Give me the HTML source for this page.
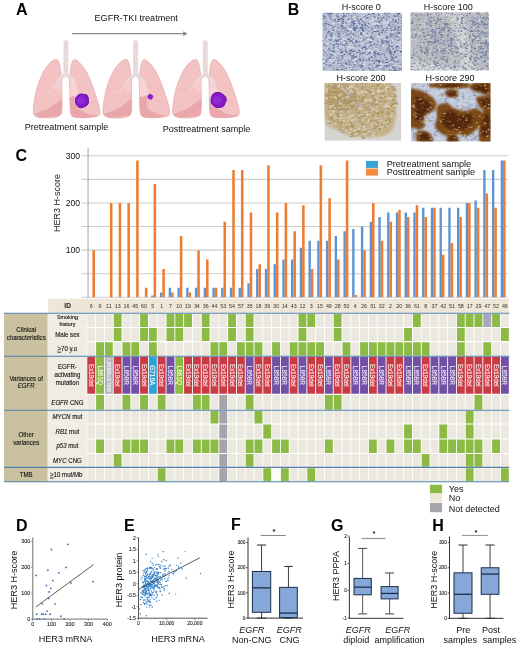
<!DOCTYPE html>
<html><head><meta charset="utf-8"><style>
html,body{margin:0;padding:0;background:#fff;}
body{width:520px;height:649px;overflow:hidden;}
svg{display:block;font-family:"Liberation Sans", Arial, sans-serif;}
</style></head><body>
<svg width="520" height="649" viewBox="0 0 520 649">
<rect width="520" height="649" fill="#fff"/>
<text x="15.9" y="15.1" font-size="16" fill="#000" font-weight="bold">A</text><text x="287.8" y="15.1" font-size="16" fill="#000" font-weight="bold">B</text><text x="15.5" y="160.8" font-size="16" fill="#000" font-weight="bold">C</text><text x="16" y="531" font-size="16" fill="#000" font-weight="bold">D</text><text x="124" y="530.6" font-size="16" fill="#000" font-weight="bold">E</text><text x="231" y="530.2" font-size="16" fill="#000" font-weight="bold">F</text><text x="331" y="531" font-size="16" fill="#000" font-weight="bold">G</text><text x="432.2" y="530.6" font-size="16" fill="#000" font-weight="bold">H</text><text x="94.5" y="21" font-size="9.1" fill="#111">EGFR-TKI treatment</text><line x1="72.1" y1="33.7" x2="185" y2="33.7" stroke="#8a8a8a" stroke-width="1.3"/><path d="M183.2,31.2 L187.6,33.7 L183.2,36.2 Z" fill="#8a8a8a"/><text x="24.8" y="130.4" font-size="9" fill="#111">Pretreatment sample</text><text x="162.7" y="132.4" font-size="9" fill="#111">Posttreatment sample</text><g transform="translate(65.9,0)"><rect x="-2.0" y="40.6" width="4.0" height="36" rx="1.6" fill="#e7dcdb" stroke="#d8cbcb" stroke-width="0.5"/><path d="M-1,75 C-3,78 -6,80 -8.5,82.5 M1,75 C3,78 6,80 8.5,82.5" stroke="#e4dada" stroke-width="2.4" fill="none" stroke-linecap="round"/><path d="M-9.1,59.5C-10.32,59.37 -12.48,60 -14.4,61.5C-16.32,63 -18.8,65.8 -20.6,68.5C-22.4,71.2 -23.78,74.37 -25.2,77.7C-26.62,81.03 -28.07,84.92 -29.1,88.5C-30.13,92.08 -30.82,95.62 -31.4,99.2C-31.98,102.78 -32.6,107.3 -32.6,110C-32.6,112.7 -32.63,114.12 -31.4,115.4C-30.17,116.68 -28.28,117.32 -25.2,117.7C-22.12,118.08 -16.1,118.08 -12.9,117.7C-9.7,117.32 -7.47,116.68 -6,115.4C-4.53,114.12 -4.42,114.48 -4.1,110C-3.78,105.52 -4.05,93.88 -4.1,88.5C-4.15,83.12 -4.17,81.03 -4.4,77.7C-4.63,74.37 -5.05,71.07 -5.5,68.5C-5.95,65.93 -6.5,63.8 -7.1,62.3C-7.7,60.8 -7.88,59.63 -9.1,59.5Z" fill="#f3c2c2" stroke="#eaa8ad" stroke-width="0.7"/><path d="M-4.1,99.2C-4.99,99.1 -15.67,107.5 -17.5,108.5C-19.33,109.5 -31.09,113.59 -31.6,114.2C-32.11,114.81 -26.91,117.62 -25.2,117.7C-23.49,117.78 -7.41,115.91 -6,115.4C-4.59,114.89 -4.23,111.08 -4.1,110C-3.97,108.92 -3.21,99.3 -4.1,99.2Z" fill="#eaa7ab"/><path d="M8.6,59.5C9.75,59.5 11.4,60.55 13.2,62.3C15,64.05 17.6,67.18 19.4,70C21.2,72.82 22.47,75.62 24,79.2C25.53,82.78 27.18,87.4 28.6,91.5C30.02,95.6 31.6,100.33 32.5,103.8C33.4,107.27 34.13,110.23 34,112.3C33.87,114.37 33.88,115.3 31.7,116.2C29.52,117.1 24.48,117.5 20.9,117.7C17.32,117.9 12.75,117.78 10.2,117.4C7.65,117.02 6.58,116.88 5.6,115.4C4.62,113.92 4.57,112.23 4.3,108.5C4.03,104.77 4.1,97.62 4,93C3.9,88.38 3.57,84.88 3.7,80.8C3.83,76.72 4.37,71.58 4.8,68.5C5.23,65.42 5.67,63.8 6.3,62.3C6.93,60.8 7.45,59.5 8.6,59.5Z" fill="#f3c2c2" stroke="#eaa8ad" stroke-width="0.7"/><path d="M4,94.6C4.47,93.78 10.76,95.27 11.3,96.2C11.84,97.13 11.28,107.27 12.1,108.5C12.92,109.73 22.26,114.11 23.6,114.6C24.94,115.09 32.38,115.59 32.2,115.8C32.02,116.01 22.37,117.59 20.9,117.7C19.43,117.81 11.22,117.55 10.2,117.4C9.18,117.25 5.99,115.99 5.6,115.4C5.21,114.81 4.41,109.89 4.3,108.5C4.19,107.11 3.53,95.42 4,94.6Z" fill="#eaa7ab"/><path d="M-30,90 C-24,89.5 -14,89 -5,89.5 M-31.5,104 C-24,100 -14,97 -4.5,96" stroke="#f0b4b8" stroke-width="0.5" fill="none"/><path d="M12,97 C18,99 24,101 30,103 M6,84 C12,86 20,88 27,90" stroke="#f0b4b8" stroke-width="0.5" fill="none"/><path d="M4.3,78 C8,79 11,84 12,90 C12,95 9,97 4.2,97 Z" fill="#f8d6d6" opacity="0.85"/><path d="M-4.5,78 C-8,80 -11,84 -11.5,89 C-9,92 -6,93 -4.3,93 Z" fill="#f6d2d2" opacity="0.6"/><path d="M-1.2,73 C-3,76.5 -5.5,78.5 -8.5,81 M1.2,73 C3,76.5 5.5,78.5 8.5,81" stroke="#e8dcdc" stroke-width="2.2" fill="none" stroke-linecap="round"/><path d="M-8.5,81 C-11,84 -13,88 -17,93 M8.5,81 C10.5,85 11.5,90 12,96" stroke="#f2d6d6" stroke-width="1.1" fill="none" stroke-linecap="round"/><circle cx="16" cy="100.6" r="7.9" fill="#f3c6ea" opacity="0.9"/><path d="M22.49,100.6C22.49,101.6 22.63,102.73 22.26,103.61C21.89,104.5 21.04,105.34 20.24,105.92C19.45,106.5 18.46,106.79 17.48,107.1C16.5,107.41 15.34,107.95 14.36,107.78C13.38,107.61 12.36,106.8 11.62,106.09C10.89,105.38 10.3,104.43 9.95,103.51C9.6,102.6 9.5,101.56 9.52,100.6C9.54,99.64 9.66,98.58 10.07,97.74C10.48,96.9 11.24,96.18 11.98,95.56C12.72,94.94 13.59,94.23 14.5,94.02C15.41,93.81 16.42,94.16 17.44,94.3C18.45,94.43 19.79,94.29 20.59,94.84C21.39,95.39 21.92,96.64 22.24,97.59C22.56,98.55 22.48,99.6 22.49,100.6Z" fill="#861ac8" stroke="#5e0a98" stroke-width="1"/><circle cx="14.95" cy="100.6" r="3.85" fill="#9a34dc" opacity="0.55"/></g><g transform="translate(135.6,0)"><rect x="-2.0" y="40.6" width="4.0" height="36" rx="1.6" fill="#e7dcdb" stroke="#d8cbcb" stroke-width="0.5"/><path d="M-1,75 C-3,78 -6,80 -8.5,82.5 M1,75 C3,78 6,80 8.5,82.5" stroke="#e4dada" stroke-width="2.4" fill="none" stroke-linecap="round"/><path d="M-9.1,59.5C-10.32,59.37 -12.48,60 -14.4,61.5C-16.32,63 -18.8,65.8 -20.6,68.5C-22.4,71.2 -23.78,74.37 -25.2,77.7C-26.62,81.03 -28.07,84.92 -29.1,88.5C-30.13,92.08 -30.82,95.62 -31.4,99.2C-31.98,102.78 -32.6,107.3 -32.6,110C-32.6,112.7 -32.63,114.12 -31.4,115.4C-30.17,116.68 -28.28,117.32 -25.2,117.7C-22.12,118.08 -16.1,118.08 -12.9,117.7C-9.7,117.32 -7.47,116.68 -6,115.4C-4.53,114.12 -4.42,114.48 -4.1,110C-3.78,105.52 -4.05,93.88 -4.1,88.5C-4.15,83.12 -4.17,81.03 -4.4,77.7C-4.63,74.37 -5.05,71.07 -5.5,68.5C-5.95,65.93 -6.5,63.8 -7.1,62.3C-7.7,60.8 -7.88,59.63 -9.1,59.5Z" fill="#f3c2c2" stroke="#eaa8ad" stroke-width="0.7"/><path d="M-4.1,99.2C-4.99,99.1 -15.67,107.5 -17.5,108.5C-19.33,109.5 -31.09,113.59 -31.6,114.2C-32.11,114.81 -26.91,117.62 -25.2,117.7C-23.49,117.78 -7.41,115.91 -6,115.4C-4.59,114.89 -4.23,111.08 -4.1,110C-3.97,108.92 -3.21,99.3 -4.1,99.2Z" fill="#eaa7ab"/><path d="M8.6,59.5C9.75,59.5 11.4,60.55 13.2,62.3C15,64.05 17.6,67.18 19.4,70C21.2,72.82 22.47,75.62 24,79.2C25.53,82.78 27.18,87.4 28.6,91.5C30.02,95.6 31.6,100.33 32.5,103.8C33.4,107.27 34.13,110.23 34,112.3C33.87,114.37 33.88,115.3 31.7,116.2C29.52,117.1 24.48,117.5 20.9,117.7C17.32,117.9 12.75,117.78 10.2,117.4C7.65,117.02 6.58,116.88 5.6,115.4C4.62,113.92 4.57,112.23 4.3,108.5C4.03,104.77 4.1,97.62 4,93C3.9,88.38 3.57,84.88 3.7,80.8C3.83,76.72 4.37,71.58 4.8,68.5C5.23,65.42 5.67,63.8 6.3,62.3C6.93,60.8 7.45,59.5 8.6,59.5Z" fill="#f3c2c2" stroke="#eaa8ad" stroke-width="0.7"/><path d="M4,94.6C4.47,93.78 10.76,95.27 11.3,96.2C11.84,97.13 11.28,107.27 12.1,108.5C12.92,109.73 22.26,114.11 23.6,114.6C24.94,115.09 32.38,115.59 32.2,115.8C32.02,116.01 22.37,117.59 20.9,117.7C19.43,117.81 11.22,117.55 10.2,117.4C9.18,117.25 5.99,115.99 5.6,115.4C5.21,114.81 4.41,109.89 4.3,108.5C4.19,107.11 3.53,95.42 4,94.6Z" fill="#eaa7ab"/><path d="M-30,90 C-24,89.5 -14,89 -5,89.5 M-31.5,104 C-24,100 -14,97 -4.5,96" stroke="#f0b4b8" stroke-width="0.5" fill="none"/><path d="M12,97 C18,99 24,101 30,103 M6,84 C12,86 20,88 27,90" stroke="#f0b4b8" stroke-width="0.5" fill="none"/><path d="M4.3,78 C8,79 11,84 12,90 C12,95 9,97 4.2,97 Z" fill="#f8d6d6" opacity="0.85"/><path d="M-4.5,78 C-8,80 -11,84 -11.5,89 C-9,92 -6,93 -4.3,93 Z" fill="#f6d2d2" opacity="0.6"/><path d="M-1.2,73 C-3,76.5 -5.5,78.5 -8.5,81 M1.2,73 C3,76.5 5.5,78.5 8.5,81" stroke="#e8dcdc" stroke-width="2.2" fill="none" stroke-linecap="round"/><path d="M-8.5,81 C-11,84 -13,88 -17,93 M8.5,81 C10.5,85 11.5,90 12,96" stroke="#f2d6d6" stroke-width="1.1" fill="none" stroke-linecap="round"/><circle cx="14.8" cy="96.8" r="3.4" fill="#f3c6ea" opacity="0.9"/><path d="M17.29,96.8C17.26,97.16 17.1,97.5 16.96,97.84C16.82,98.18 16.69,98.59 16.43,98.84C16.17,99.1 15.75,99.33 15.39,99.38C15.03,99.42 14.61,99.24 14.27,99.12C13.93,99 13.63,98.85 13.33,98.65C13.02,98.45 12.61,98.24 12.44,97.94C12.27,97.63 12.32,97.18 12.32,96.8C12.33,96.42 12.3,96 12.45,95.67C12.61,95.34 12.94,95.06 13.24,94.84C13.54,94.62 13.9,94.42 14.24,94.37C14.59,94.31 14.99,94.4 15.32,94.5C15.66,94.6 15.95,94.78 16.26,94.97C16.56,95.17 16.98,95.36 17.16,95.67C17.33,95.97 17.32,96.44 17.29,96.8Z" fill="#861ac8" stroke="#5e0a98" stroke-width="0.45"/><circle cx="14.43" cy="96.8" r="1.38" fill="#9a34dc" opacity="0.55"/></g><g transform="translate(205.3,0)"><rect x="-2.0" y="40.6" width="4.0" height="36" rx="1.6" fill="#e7dcdb" stroke="#d8cbcb" stroke-width="0.5"/><path d="M-1,75 C-3,78 -6,80 -8.5,82.5 M1,75 C3,78 6,80 8.5,82.5" stroke="#e4dada" stroke-width="2.4" fill="none" stroke-linecap="round"/><path d="M-9.1,59.5C-10.32,59.37 -12.48,60 -14.4,61.5C-16.32,63 -18.8,65.8 -20.6,68.5C-22.4,71.2 -23.78,74.37 -25.2,77.7C-26.62,81.03 -28.07,84.92 -29.1,88.5C-30.13,92.08 -30.82,95.62 -31.4,99.2C-31.98,102.78 -32.6,107.3 -32.6,110C-32.6,112.7 -32.63,114.12 -31.4,115.4C-30.17,116.68 -28.28,117.32 -25.2,117.7C-22.12,118.08 -16.1,118.08 -12.9,117.7C-9.7,117.32 -7.47,116.68 -6,115.4C-4.53,114.12 -4.42,114.48 -4.1,110C-3.78,105.52 -4.05,93.88 -4.1,88.5C-4.15,83.12 -4.17,81.03 -4.4,77.7C-4.63,74.37 -5.05,71.07 -5.5,68.5C-5.95,65.93 -6.5,63.8 -7.1,62.3C-7.7,60.8 -7.88,59.63 -9.1,59.5Z" fill="#f3c2c2" stroke="#eaa8ad" stroke-width="0.7"/><path d="M-4.1,99.2C-4.99,99.1 -15.67,107.5 -17.5,108.5C-19.33,109.5 -31.09,113.59 -31.6,114.2C-32.11,114.81 -26.91,117.62 -25.2,117.7C-23.49,117.78 -7.41,115.91 -6,115.4C-4.59,114.89 -4.23,111.08 -4.1,110C-3.97,108.92 -3.21,99.3 -4.1,99.2Z" fill="#eaa7ab"/><path d="M8.6,59.5C9.75,59.5 11.4,60.55 13.2,62.3C15,64.05 17.6,67.18 19.4,70C21.2,72.82 22.47,75.62 24,79.2C25.53,82.78 27.18,87.4 28.6,91.5C30.02,95.6 31.6,100.33 32.5,103.8C33.4,107.27 34.13,110.23 34,112.3C33.87,114.37 33.88,115.3 31.7,116.2C29.52,117.1 24.48,117.5 20.9,117.7C17.32,117.9 12.75,117.78 10.2,117.4C7.65,117.02 6.58,116.88 5.6,115.4C4.62,113.92 4.57,112.23 4.3,108.5C4.03,104.77 4.1,97.62 4,93C3.9,88.38 3.57,84.88 3.7,80.8C3.83,76.72 4.37,71.58 4.8,68.5C5.23,65.42 5.67,63.8 6.3,62.3C6.93,60.8 7.45,59.5 8.6,59.5Z" fill="#f3c2c2" stroke="#eaa8ad" stroke-width="0.7"/><path d="M4,94.6C4.47,93.78 10.76,95.27 11.3,96.2C11.84,97.13 11.28,107.27 12.1,108.5C12.92,109.73 22.26,114.11 23.6,114.6C24.94,115.09 32.38,115.59 32.2,115.8C32.02,116.01 22.37,117.59 20.9,117.7C19.43,117.81 11.22,117.55 10.2,117.4C9.18,117.25 5.99,115.99 5.6,115.4C5.21,114.81 4.41,109.89 4.3,108.5C4.19,107.11 3.53,95.42 4,94.6Z" fill="#eaa7ab"/><path d="M-30,90 C-24,89.5 -14,89 -5,89.5 M-31.5,104 C-24,100 -14,97 -4.5,96" stroke="#f0b4b8" stroke-width="0.5" fill="none"/><path d="M12,97 C18,99 24,101 30,103 M6,84 C12,86 20,88 27,90" stroke="#f0b4b8" stroke-width="0.5" fill="none"/><path d="M4.3,78 C8,79 11,84 12,90 C12,95 9,97 4.2,97 Z" fill="#f8d6d6" opacity="0.85"/><path d="M-4.5,78 C-8,80 -11,84 -11.5,89 C-9,92 -6,93 -4.3,93 Z" fill="#f6d2d2" opacity="0.6"/><path d="M-1.2,73 C-3,76.5 -5.5,78.5 -8.5,81 M1.2,73 C3,76.5 5.5,78.5 8.5,81" stroke="#e8dcdc" stroke-width="2.2" fill="none" stroke-linecap="round"/><path d="M-8.5,81 C-11,84 -13,88 -17,93 M8.5,81 C10.5,85 11.5,90 12,96" stroke="#f2d6d6" stroke-width="1.1" fill="none" stroke-linecap="round"/><circle cx="13" cy="100.3" r="8.5" fill="#f3c6ea" opacity="0.9"/><path d="M20.96,100.3C20.86,101.39 20.03,102.41 19.52,103.44C19.01,104.46 18.73,105.81 17.91,106.45C17.09,107.1 15.69,107.13 14.6,107.31C13.51,107.5 12.35,107.79 11.34,107.55C10.34,107.31 9.4,106.55 8.55,105.88C7.7,105.21 6.7,104.48 6.26,103.55C5.82,102.62 5.9,101.38 5.91,100.3C5.92,99.22 5.98,98.13 6.33,97.09C6.68,96.04 7.18,94.78 8,94.03C8.82,93.27 10.11,92.75 11.23,92.55C12.35,92.36 13.63,92.54 14.7,92.85C15.77,93.17 16.75,93.79 17.66,94.46C18.56,95.13 19.57,95.9 20.12,96.87C20.67,97.84 21.06,99.21 20.96,100.3Z" fill="#861ac8" stroke="#5e0a98" stroke-width="1"/><circle cx="11.86" cy="100.3" r="4.18" fill="#9a34dc" opacity="0.55"/></g><defs><filter id="bl" x="-5%" y="-5%" width="110%" height="110%"><feGaussianBlur stdDeviation="0.35"/></filter><filter id="bl2"><feGaussianBlur stdDeviation="0.8"/></filter><clipPath id="c1"><rect x="322.3" y="12.7" width="79.7" height="58.2"/></clipPath><clipPath id="c2"><rect x="410.3" y="12.2" width="78.6" height="58.2"/></clipPath><clipPath id="c3"><rect x="324.5" y="83" width="76.8" height="57.8"/></clipPath><clipPath id="c4"><rect x="411" y="83" width="79.5" height="58.5"/></clipPath></defs><g clip-path="url(#c1)"><rect x="322.3" y="12.7" width="79.7" height="58.2" fill="#b8bfd1"/><g filter="url(#bl)"><path d="M372.01,64.94h2.4v1.68h-2.4zM340.02,29.71h2.57v1.8h-2.57zM322.42,60.45h2.43v1.7h-2.43zM359.43,29.88h1.5v1.05h-1.5zM342.39,38.26h1.91v1.34h-1.91zM366.28,70.73h2.43v1.7h-2.43zM371.77,70.35h1.39v0.97h-1.39zM334.82,48.14h1.08v0.76h-1.08zM324.85,42.38h1.84v1.29h-1.84zM395.37,49.12h1.93v1.35h-1.93zM361.75,26.6h1.02v0.71h-1.02zM337.39,52.83h1.36v0.95h-1.36zM351.56,12.22h2.49v1.75h-2.49zM334.36,27.79h2.58v1.81h-2.58zM362.78,61.98h2.15v1.51h-2.15zM381.34,17.4h1.97v1.38h-1.97zM362.62,63.41h1.65v1.16h-1.65zM369.85,15.5h1.7v1.19h-1.7zM347.84,20.86h2.47v1.73h-2.47zM352.36,69.75h2.06v1.44h-2.06zM370.4,49.64h2.22v1.55h-2.22zM334.06,37.98h1.43v1h-1.43zM354.2,17.71h2.74v1.92h-2.74zM339.2,51.63h1.54v1.08h-1.54zM391.93,51.07h1.24v0.87h-1.24zM389.61,67.75h2.63v1.84h-2.63zM367.58,20.58h1.35v0.94h-1.35zM396.23,44.59h1.32v0.93h-1.32zM392.72,49.85h2.03v1.42h-2.03zM352.1,36.25h1.43v1h-1.43zM325.04,63.7h1.84v1.29h-1.84zM365.81,31.01h2.35v1.65h-2.35zM324.02,33.96h1.05v0.74h-1.05zM331.83,69.06h2.18v1.53h-2.18zM356.26,42.9h2.57v1.8h-2.57zM349.54,46.83h2.23v1.56h-2.23zM350.43,42.63h2.38v1.66h-2.38zM394.73,20.91h2.68v1.88h-2.68zM322.41,56.43h2.46v1.72h-2.46zM332.94,36.72h2.47v1.73h-2.47zM323.14,49.08h2.43v1.7h-2.43zM363.04,54.83h1.41v0.99h-1.41zM337.88,33.42h1.32v0.93h-1.32zM349.68,67.94h2.03v1.42h-2.03zM349.21,28.02h2.71v1.9h-2.71zM357.56,69.84h1.93v1.35h-1.93zM363.69,64.9h2.34v1.64h-2.34zM368.45,37.17h2.58v1.81h-2.58zM354.93,66.44h1.12v0.79h-1.12zM356.4,42.65h2.71v1.9h-2.71zM342.08,59.56h2.22v1.55h-2.22zM379.37,49.15h2.75v1.92h-2.75zM348.61,35.5h1.37v0.96h-1.37zM326.06,24.56h2.65v1.85h-2.65zM389.21,18.63h2.09v1.46h-2.09zM360.34,47.09h2.19v1.53h-2.19zM346.53,68.72h1.84v1.29h-1.84zM372.25,49.48h1.33v0.93h-1.33zM326.95,36.28h2.38v1.66h-2.38zM387.22,55.07h1.2v0.84h-1.2zM395.07,59.32h2.58v1.81h-2.58zM363.86,66.02h1.08v0.76h-1.08zM324.42,13.19h1.45v1.02h-1.45zM341.89,23.06h2.02v1.41h-2.02zM325.12,46.83h1.3v0.91h-1.3zM376.23,13.24h1.56v1.09h-1.56zM397.07,43.77h2.46v1.72h-2.46zM374.64,48.03h1.34v0.94h-1.34zM367.95,14.34h2.44v1.71h-2.44zM398.81,62.39h1.09v0.76h-1.09zM349.09,30.76h1.2v0.84h-1.2zM372.13,59.05h1.56v1.1h-1.56zM391.02,59.03h1.23v0.86h-1.23zM383.35,64.07h1.36v0.95h-1.36zM367.89,49.69h2.1v1.47h-2.1zM329.7,51.01h2.14v1.5h-2.14zM387.91,59.41h1.59v1.11h-1.59zM379.76,63.17h2.61v1.83h-2.61zM334.92,13.58h2.17v1.52h-2.17zM339.17,45.26h2.7v1.89h-2.7zM352.35,26.91h1.82v1.28h-1.82zM374.58,17.96h1.69v1.18h-1.69zM332.7,51.08h2.49v1.75h-2.49zM352.15,33.93h1.97v1.38h-1.97zM339.2,26.6h1.59v1.12h-1.59zM358.59,16.81h2.35v1.65h-2.35zM368.32,29.68h1.14v0.8h-1.14zM383.05,19.73h1.24v0.87h-1.24zM332.45,16.79h2.63v1.84h-2.63zM343.54,30.08h2.5v1.75h-2.5zM371.59,23.04h1.78v1.25h-1.78zM392.71,34.15h2.28v1.6h-2.28zM329.74,54.91h2.4v1.68h-2.4zM388.06,51.78h1.67v1.17h-1.67zM327.14,42.61h2.36v1.65h-2.36zM337.27,27.71h1.97v1.38h-1.97zM381.87,64.9h1.23v0.86h-1.23zM336.74,59.17h2.16v1.51h-2.16zM379.68,70.81h2.69v1.88h-2.69zM389.44,57.85h1.71v1.2h-1.71zM373.3,22.88h2.37v1.66h-2.37zM382.62,54.56h1.8v1.26h-1.8zM352.25,36.77h1.06v0.74h-1.06zM389.55,44h1.7v1.19h-1.7zM365.84,54.58h1.69v1.18h-1.69zM388.45,66.25h1.7v1.19h-1.7zM333.03,56.86h2.79v1.95h-2.79zM333.84,54.05h2.49v1.74h-2.49zM395.65,19.28h1.17v0.82h-1.17zM401.03,18.89h1.32v0.92h-1.32zM368,38.33h2.35v1.65h-2.35zM337.24,65.95h1.39v0.97h-1.39zM383.53,15.99h1.85v1.3h-1.85zM324.6,30.51h1.56v1.09h-1.56zM379.58,38.85h1.1v0.77h-1.1zM401.63,64.43h2.65v1.85h-2.65zM341.73,35.25h1.41v0.99h-1.41zM331.99,13.95h1.91v1.33h-1.91zM331.85,22.4h2.55v1.78h-2.55zM360.74,22.84h2.21v1.54h-2.21zM343.27,43.09h1.51v1.06h-1.51zM363.29,49.08h1.97v1.38h-1.97zM353.65,58.66h2.57v1.8h-2.57zM336.35,20.04h1.2v0.84h-1.2zM400.37,67.55h1.42v0.99h-1.42zM399.59,24.26h1.91v1.34h-1.91zM361.79,65.98h1.07v0.75h-1.07zM347.23,47.4h1.12v0.78h-1.12zM340.92,39.44h2.59v1.81h-2.59zM382.88,60.91h2.37v1.66h-2.37zM378.62,62.13h2.23v1.56h-2.23zM380.85,29.8h1.3v0.91h-1.3zM382.52,21.78h2.66v1.86h-2.66zM369.73,31.44h2.69v1.88h-2.69zM334.41,42.35h1.16v0.82h-1.16zM399.23,45.95h2.45v1.71h-2.45zM344.55,59.31h2.27v1.59h-2.27zM373.49,68.08h1.78v1.25h-1.78zM355.21,52.84h2.5v1.75h-2.5zM348.81,51.51h1.38v0.96h-1.38zM366.14,57.38h1.12v0.78h-1.12zM380.23,12.91h2.73v1.91h-2.73zM359.49,36.14h2.3v1.61h-2.3zM363.86,55.12h1.15v0.81h-1.15zM367.02,44.93h2.68v1.87h-2.68zM325.17,38.72h2.14v1.5h-2.14zM366.06,16.38h2.07v1.45h-2.07zM339.78,23.54h2.58v1.81h-2.58zM337.83,38.8h2.35v1.65h-2.35zM378.59,44.65h2.45v1.72h-2.45zM359.27,48.6h2.47v1.73h-2.47zM376.25,49.87h1.73v1.21h-1.73zM366.67,35.37h2.34v1.64h-2.34zM352.43,39.53h2.36v1.65h-2.36zM362.29,31.94h2.49v1.74h-2.49zM352.48,61.84h2.41v1.69h-2.41zM357.78,54.06h1.06v0.74h-1.06zM353.18,62.76h2.04v1.43h-2.04zM366.63,51.22h2.22v1.55h-2.22zM368.69,36.82h1.33v0.93h-1.33zM345.41,29.28h1.78v1.24h-1.78zM401.92,32.8h1.81v1.26h-1.81zM351.73,46.3h2.71v1.89h-2.71zM393.13,34.25h1.48v1.04h-1.48zM392.75,41.14h2.23v1.56h-2.23zM327.86,63.13h1.56v1.09h-1.56zM361.56,23.68h1.76v1.23h-1.76zM388.24,60.83h1.85v1.3h-1.85zM383.43,39.03h1.67v1.17h-1.67zM365.67,23.88h1.57v1.1h-1.57zM378.52,57.46h1.1v0.77h-1.1zM380.63,60.23h1.8v1.26h-1.8zM327,52.29h1.44v1.01h-1.44zM373.47,34.22h2.15v1.5h-2.15zM342.65,40.12h1.94v1.36h-1.94zM372.48,23.99h2.73v1.91h-2.73zM345.13,30.06h1.46v1.02h-1.46zM327.4,36.95h2.39v1.67h-2.39zM378.77,23.54h1.25v0.87h-1.25zM347.71,57.33h1.88v1.31h-1.88zM395.85,50.73h2.12v1.48h-2.12zM383.42,56.27h1.62v1.13h-1.62zM342.56,37.82h1.88v1.32h-1.88zM333.34,38.04h2.15v1.51h-2.15zM332.86,20.14h1.31v0.92h-1.31zM344.67,68.74h1.05v0.73h-1.05zM336.7,21.74h1.85v1.3h-1.85zM323.21,39.03h1.29v0.91h-1.29zM343.57,58.75h1.33v0.93h-1.33zM371.37,35.97h1.75v1.23h-1.75zM387.35,21.49h2.66v1.86h-2.66zM393.48,51.43h1.09v0.76h-1.09zM375.06,47.42h2.39v1.67h-2.39zM339.11,68.25h2.6v1.82h-2.6zM331.15,30.6h1.06v0.74h-1.06zM388.48,65.99h2.78v1.95h-2.78zM370.95,51.29h2.22v1.55h-2.22zM367.61,68.19h2.09v1.47h-2.09zM348.86,42.26h1.03v0.72h-1.03zM379.93,52.94h1.76v1.23h-1.76zM390.12,56.58h1.61v1.12h-1.61zM328.2,19.8h1.33v0.93h-1.33zM346.31,38.4h2.67v1.87h-2.67zM344.27,65.02h2.22v1.56h-2.22zM390.28,35.79h1.01v0.7h-1.01zM384.96,26.48h1.26v0.88h-1.26zM385.96,52.49h1.38v0.97h-1.38zM343.41,67.41h1.48v1.04h-1.48zM378.19,19.64h2.47v1.73h-2.47zM331.41,42.45h1.06v0.74h-1.06zM366.01,61.95h1.15v0.81h-1.15zM343.94,57.12h2.09v1.47h-2.09zM347.02,49.11h1.82v1.27h-1.82zM390.99,29.28h2.36v1.65h-2.36zM372.85,55.69h1.68v1.18h-1.68zM379.99,53.21h1.7v1.19h-1.7zM324.12,68.81h2.28v1.6h-2.28zM338.38,55.12h1.5v1.05h-1.5zM359.54,62.73h1.81v1.26h-1.81zM345.04,30.02h1.14v0.8h-1.14zM339.56,28h1.31v0.92h-1.31zM327.05,39.48h1.39v0.97h-1.39zM381.1,66.43h1.49v1.04h-1.49zM367.78,41.9h1.14v0.79h-1.14zM331.99,64.2h1.85v1.3h-1.85zM386.37,15.93h2.07v1.45h-2.07zM391.22,63.16h1.01v0.71h-1.01zM363.74,33.77h2.37v1.66h-2.37zM327.86,27.63h2.46v1.72h-2.46zM359.56,38.74h2.74v1.92h-2.74zM347.59,14.46h1.71v1.19h-1.71zM334.27,16.83h2.02v1.42h-2.02zM398.29,46.19h2.16v1.52h-2.16zM347.89,45.7h2.35v1.65h-2.35zM369.14,59.36h1.99v1.39h-1.99zM337.85,46.38h1.88v1.32h-1.88zM335.27,48.53h2.47v1.73h-2.47zM332.81,44.15h2.32v1.62h-2.32zM354.24,27.93h1.67v1.17h-1.67zM365.34,52.51h2.01v1.4h-2.01zM330.56,60.26h2.66v1.86h-2.66zM330.1,26.72h1.31v0.92h-1.31zM389.93,65.71h1.08v0.76h-1.08zM348.59,23.36h1.85v1.29h-1.85zM395.73,16.14h1.31v0.92h-1.31zM360.96,42.92h2.34v1.64h-2.34zM357.01,20.33h1.64v1.15h-1.64zM400.57,56.29h1.21v0.85h-1.21zM386.66,30.34h2.41v1.68h-2.41zM323.02,63.4h1.29v0.9h-1.29zM358.46,51.04h1.91v1.34h-1.91zM335.23,20.21h1.51v1.06h-1.51zM326.19,24.78h1.23v0.86h-1.23zM359.18,33.03h2.06v1.44h-2.06zM344.47,14h1.6v1.12h-1.6zM382.41,27.09h1.73v1.21h-1.73zM382.4,35.99h2.6v1.82h-2.6zM395.45,30.32h2.32v1.63h-2.32zM342.25,20.23h1.79v1.25h-1.79zM370.2,67.2h1.26v0.88h-1.26zM378.99,40.05h1.24v0.87h-1.24zM399.81,53.05h1.23v0.86h-1.23zM394.46,18.08h1.17v0.82h-1.17zM348.52,67.34h1.06v0.74h-1.06zM395.46,48.09h1.12v0.78h-1.12zM367.49,39.07h2.02v1.41h-2.02zM380.98,52.04h2.8v1.96h-2.8zM334.53,59.96h1.74v1.22h-1.74zM384.66,64.61h2.79v1.95h-2.79zM343.28,38.72h2.7v1.89h-2.7zM397.66,34h2.69v1.88h-2.69zM354.47,34.11h2.36v1.65h-2.36zM359.7,38.44h1.7v1.19h-1.7zM356.62,20.25h1.11v0.78h-1.11zM382.32,45.31h2.21v1.55h-2.21zM386.19,25.58h1.42v0.99h-1.42zM344.23,29.93h2.37v1.66h-2.37zM351.93,31.07h2.15v1.5h-2.15zM336.93,18.28h2.25v1.58h-2.25zM382.52,29.49h2.14v1.5h-2.14zM324.73,35.85h2.04v1.43h-2.04zM342.27,32.54h2.1v1.47h-2.1zM369.19,21.1h2.27v1.59h-2.27zM328.4,69.21h1.36v0.95h-1.36zM342.28,23.82h2.78v1.95h-2.78zM344.93,47.71h2.78v1.95h-2.78zM398.01,14.5h1.94v1.36h-1.94zM370.1,53.44h1.6v1.12h-1.6zM348.23,12.25h1.06v0.74h-1.06zM366,16.48h1.36v0.96h-1.36zM348.66,16.16h1.06v0.74h-1.06zM396.15,37.68h1.37v0.96h-1.37zM378.68,12.56h1.44v1.01h-1.44zM398.86,64.96h2.14v1.5h-2.14zM329.46,30.76h1.05v0.74h-1.05zM339.54,13.5h1.23v0.86h-1.23zM372.66,17.93h1.28v0.9h-1.28zM394.22,31.79h1.6v1.12h-1.6zM328.92,58.96h2.22v1.55h-2.22zM365.77,48.46h1.18v0.83h-1.18zM342.82,46.43h2.71v1.9h-2.71zM387.37,49.8h1.93v1.35h-1.93zM323.21,64.55h1.12v0.78h-1.12zM332.33,52.89h2.46v1.72h-2.46zM384.92,38.69h1.32v0.92h-1.32zM324.82,62.23h2.76v1.93h-2.76zM341.53,63.1h1.72v1.21h-1.72zM346.91,41.8h1.01v0.71h-1.01zM357.42,23.77h2.28v1.6h-2.28zM362.21,63.26h2.61v1.83h-2.61zM347.34,28.54h2.69v1.88h-2.69zM362.32,17.69h1.08v0.76h-1.08zM401.23,46.17h1.1v0.77h-1.1zM362.9,41.74h1.78v1.25h-1.78zM398.1,67.98h1.22v0.86h-1.22zM334.14,36.04h2.5v1.75h-2.5zM371.9,55.06h2.04v1.43h-2.04zM338.8,60.25h1.03v0.72h-1.03zM377.88,23.47h1.85v1.29h-1.85zM400.01,43.8h1.1v0.77h-1.1zM356.3,50.96h1.1v0.77h-1.1zM342.21,13.08h1.97v1.38h-1.97zM352.52,41.72h1.53v1.07h-1.53zM374.54,22.21h2.63v1.84h-2.63zM398.81,41.09h1.84v1.29h-1.84zM390.77,29.1h2.45v1.71h-2.45zM344.98,54.48h1.6v1.12h-1.6zM370.21,66.63h1.1v0.77h-1.1zM386.58,43.97h1.68v1.18h-1.68zM350.02,16.1h1.47v1.03h-1.47zM371.85,17.76h2.2v1.54h-2.2zM398.98,69.87h2.6v1.82h-2.6zM386.53,22.5h2.75v1.92h-2.75zM338.22,63.27h2.58v1.81h-2.58zM371.75,42.76h1.36v0.95h-1.36zM363.56,29.15h1.23v0.86h-1.23zM332.26,59.27h2.66v1.86h-2.66zM333.35,12.78h1.47v1.03h-1.47zM332.76,23.13h2.05v1.43h-2.05zM355.78,37.32h1.37v0.96h-1.37zM375.17,29.08h1.72v1.2h-1.72zM359.07,65.36h1.44v1.01h-1.44zM379.49,30.25h2.61v1.83h-2.61zM353.53,41.8h2.58v1.81h-2.58zM375.82,17.57h1.25v0.87h-1.25zM401.26,13.72h1.54v1.08h-1.54zM398.71,12.89h1.29v0.9h-1.29zM339.07,17.1h1.85v1.29h-1.85zM369.4,30.78h1.2v0.84h-1.2zM386.88,59.46h2.01v1.41h-2.01zM333.02,43.97h2.13v1.49h-2.13zM356.26,62.97h1.7v1.19h-1.7zM362.87,18.73h2.01v1.41h-2.01zM383.32,55.14h1.46v1.02h-1.46zM401.35,54.48h1.76v1.23h-1.76zM355.19,57.98h1.32v0.92h-1.32zM373.17,54.41h1.93v1.35h-1.93zM391.86,39.65h1.84v1.29h-1.84zM344.77,66.24h1.57v1.1h-1.57zM377.62,36.15h2.68v1.88h-2.68zM397.84,13.77h2.79v1.95h-2.79zM370.39,16.36h1.89v1.33h-1.89zM325.96,44.38h1.33v0.93h-1.33zM351.44,29.98h2.08v1.46h-2.08zM387.79,67.26h1.59v1.11h-1.59zM367.58,12.35h1.67v1.17h-1.67zM398.86,19.01h2.57v1.8h-2.57zM374.2,29.34h2.4v1.68h-2.4zM345.14,64.79h1.15v0.8h-1.15zM331.52,56.25h1.81v1.27h-1.81zM333.8,42.29h1.53v1.07h-1.53zM365.95,55.88h2.54v1.78h-2.54zM326.72,46.95h2.77v1.94h-2.77zM358.78,57.4h1.18v0.82h-1.18zM391.88,46.34h2.6v1.82h-2.6zM384.97,63.29h1.1v0.77h-1.1zM379.24,23.62h1.48v1.03h-1.48zM347.98,46.89h2.13v1.49h-2.13zM396.52,12.75h1.35v0.94h-1.35zM350.96,60.26h1.99v1.39h-1.99zM362.96,56.85h2.18v1.53h-2.18zM345.19,17.14h1.83v1.28h-1.83zM392.41,47.29h1.1v0.77h-1.1zM357.21,34.69h2.05v1.43h-2.05zM368.97,68.13h1.61v1.13h-1.61zM354.65,48.2h2.6v1.82h-2.6zM378.49,39.78h2.47v1.73h-2.47zM360.82,68.85h1.51v1.06h-1.51zM332.19,60.99h1.54v1.07h-1.54zM389.79,47.95h1.92v1.34h-1.92zM328.96,58.39h1.12v0.78h-1.12zM399.21,63.74h1.55v1.08h-1.55zM332.23,64.25h1.86v1.3h-1.86zM331.99,41.41h1.44v1.01h-1.44zM354.63,49.77h2.65v1.85h-2.65zM386.07,21.5h1.86v1.3h-1.86zM361.35,70.38h1.16v0.81h-1.16zM362.86,65.95h1.72v1.2h-1.72zM342.94,44.8h1.58v1.1h-1.58zM396.17,17h1.37v0.96h-1.37zM328.71,54h1.53v1.07h-1.53zM394.01,64.72h2.69v1.88h-2.69zM342.49,12.04h1.7v1.19h-1.7zM399.01,57.06h1.11v0.78h-1.11zM378.21,66.11h2.74v1.92h-2.74zM379.28,62.92h2.52v1.76h-2.52zM350.67,17.84h2.31v1.62h-2.31zM332.95,34.67h2.79v1.95h-2.79zM366.78,42.78h2.71v1.89h-2.71zM344.72,70.97h2.64v1.85h-2.64zM351.11,31.31h1.23v0.86h-1.23zM395.25,22.96h1.02v0.71h-1.02zM393.21,47.29h2.21v1.55h-2.21zM380.65,14.52h1.17v0.82h-1.17zM361.99,14.97h1.91v1.34h-1.91zM380.91,50.79h2.11v1.48h-2.11zM325.71,25.96h2.62v1.83h-2.62zM331.86,43.46h1.09v0.76h-1.09zM397.14,22.12h1.74v1.22h-1.74zM365.74,54.4h2.69v1.88h-2.69zM380.91,32.49h1.14v0.79h-1.14zM378.59,69.38h1.03v0.72h-1.03zM383.97,22.39h1.83v1.28h-1.83zM363.81,48.25h2.78v1.95h-2.78zM376.99,35.15h2.29v1.6h-2.29zM359.34,36.37h1.66v1.16h-1.66zM361.47,28.59h1.44v1.01h-1.44zM333.88,37.97h1.53v1.07h-1.53zM388.96,62.03h1.62v1.13h-1.62zM371.53,65.24h1.65v1.15h-1.65zM366.38,38.17h2.17v1.52h-2.17zM398.78,20.18h2.74v1.92h-2.74zM375.26,58.96h2.14v1.5h-2.14zM391.63,31.25h2.27v1.59h-2.27zM343.13,42.01h2.23v1.56h-2.23zM338.09,15.61h2.42v1.7h-2.42zM386.72,51.27h1.58v1.11h-1.58zM374.65,16.95h2.19v1.53h-2.19zM368.1,48.42h1.8v1.26h-1.8zM340.01,54.83h1.84v1.28h-1.84zM381.63,33.49h1.16v0.81h-1.16zM365.4,48.74h2.66v1.86h-2.66zM393.02,15.37h2.39v1.67h-2.39zM342.91,53.13h1.68v1.18h-1.68zM347.77,40.81h1.95v1.37h-1.95zM377.56,49.64h2.22v1.55h-2.22zM352.73,51.96h1.62v1.14h-1.62zM370.6,39.11h2.01v1.41h-2.01zM323.4,41.43h1.4v0.98h-1.4zM352.87,16.35h2.18v1.53h-2.18zM393.48,32.92h1.19v0.83h-1.19zM371.62,19.5h2.6v1.82h-2.6zM331.8,33.35h1.89v1.32h-1.89zM331.43,30.81h1.5v1.05h-1.5zM379.06,70.19h1.65v1.16h-1.65zM385.26,20.28h2.04v1.43h-2.04zM356.62,29h2.48v1.74h-2.48zM381.71,19.91h1.53v1.07h-1.53zM387.56,70.55h2.1v1.47h-2.1zM391.74,70.07h2.33v1.63h-2.33z" fill="#dadce3" opacity="0.9"/><path d="M373.58,25.05h1.24v0.87h-1.24zM371.88,66.66h1.16v0.81h-1.16zM353.62,13.31h1.64v1.15h-1.64zM357.49,59.07h1.08v0.76h-1.08zM374.77,51.71h1.36v0.95h-1.36zM337.09,35.77h1.69v1.19h-1.69zM337.13,17.31h1.36v0.95h-1.36zM340.76,59.23h1.78v1.25h-1.78zM397.62,61.55h1.58v1.1h-1.58zM336.96,60.56h1.67v1.17h-1.67zM381.75,53.15h1.8v1.26h-1.8zM345.83,51.67h1.42v0.99h-1.42zM349.03,31.28h0.99v0.69h-0.99zM361.32,33.75h1.31v0.91h-1.31zM390.13,52.21h1.62v1.13h-1.62zM400.72,24.85h1.41v0.99h-1.41zM329.4,35.17h1.94v1.36h-1.94zM328.87,56.71h1.84v1.29h-1.84zM362.72,59.06h1.33v0.93h-1.33zM350.27,41.84h1.03v0.72h-1.03zM346.6,30.02h1.99v1.39h-1.99zM348.81,25.5h1.93v1.35h-1.93zM333.09,68.98h1.82v1.28h-1.82zM373.76,37.24h1.04v0.73h-1.04zM330.5,18.12h1.22v0.85h-1.22zM354.57,66.5h1.44v1.01h-1.44zM401.25,54.53h0.98v0.68h-0.98zM366.29,21.4h0.85v0.59h-0.85zM397.5,31.93h1.03v0.72h-1.03zM330.14,50.48h1.35v0.95h-1.35zM322.93,54.2h1.11v0.78h-1.11zM384.44,40.83h1.44v1.01h-1.44zM358.58,51.88h1.99v1.39h-1.99zM385.83,16.08h1.39v0.98h-1.39zM340.74,18.04h1.03v0.72h-1.03zM341.85,68.62h1.69v1.19h-1.69zM390.24,53.23h1.18v0.83h-1.18zM353.29,38h1.15v0.81h-1.15zM355.72,57.5h0.89v0.62h-0.89zM344.13,40.26h1.61v1.13h-1.61zM373.67,54.77h0.93v0.65h-0.93zM336.46,30.23h1.14v0.8h-1.14zM382.45,70.61h1.62v1.13h-1.62zM324.64,29.56h1.76v1.23h-1.76zM395.95,47.1h1.22v0.85h-1.22zM350.41,49.37h1.84v1.29h-1.84zM349.27,23.25h0.8v0.56h-0.8zM333,62.22h1.55v1.08h-1.55zM401.25,16.1h1.24v0.87h-1.24zM385.66,51.01h0.88v0.62h-0.88zM354.12,49.62h1.63v1.14h-1.63zM358.14,23.1h1.96v1.37h-1.96zM359.32,54.32h1.44v1.01h-1.44zM328.46,25.96h0.88v0.61h-0.88zM337.26,23.81h1.3v0.91h-1.3zM347.74,33.39h1.78v1.25h-1.78zM323.71,18.1h1.77v1.24h-1.77zM364.72,37.89h1.12v0.78h-1.12zM365.39,25.07h1.83v1.28h-1.83zM387.92,30.99h0.83v0.58h-0.83zM393.01,29.62h1.59v1.11h-1.59zM390.65,59.1h1.84v1.28h-1.84zM361.13,61.7h1.35v0.95h-1.35zM343.11,40.38h1.2v0.84h-1.2zM383.37,61.07h0.97v0.68h-0.97zM335.15,34.64h1.36v0.95h-1.36zM398.51,67.56h1.96v1.37h-1.96zM380.38,51.96h1.12v0.79h-1.12zM351.81,12.16h1.8v1.26h-1.8zM344.09,16.68h1.18v0.83h-1.18zM347.85,54.72h0.81v0.56h-0.81zM340.4,64.89h1.83v1.28h-1.83zM372.32,44.98h1.07v0.75h-1.07zM392.01,56.88h1.42v0.99h-1.42zM334.88,24.73h1.26v0.88h-1.26zM348.49,15.6h1.29v0.9h-1.29zM357.9,28.94h1.26v0.88h-1.26zM348.59,34.23h1.54v1.08h-1.54zM361.79,23.66h1.75v1.23h-1.75zM363.05,39.04h1.66v1.16h-1.66zM382.17,62.09h1.77v1.24h-1.77zM375.52,54.55h0.99v0.69h-0.99zM377.94,27.01h1.11v0.78h-1.11zM331.61,35.42h0.82v0.58h-0.82zM374.56,56.14h1.73v1.21h-1.73zM332.31,49.82h1.81v1.26h-1.81zM324.88,23.41h1.12v0.78h-1.12zM358.96,22.16h1.45v1.01h-1.45zM349.52,50.65h1.44v1.01h-1.44zM376.9,26.53h1.65v1.15h-1.65zM380.77,54.6h0.88v0.62h-0.88zM397.69,46.03h1.13v0.79h-1.13zM356.73,42.54h1.42v0.99h-1.42zM341.84,27.63h1.24v0.87h-1.24zM384.47,37.81h0.85v0.59h-0.85zM358.18,23.88h0.81v0.57h-0.81zM400.16,29.33h1.44v1.01h-1.44zM350.66,15.15h1.88v1.32h-1.88zM396.85,23h1.3v0.91h-1.3zM351.89,21.87h1.59v1.12h-1.59zM384.56,56.82h1.61v1.13h-1.61zM323.4,25.55h1.42v0.99h-1.42zM378.23,34.8h1.34v0.94h-1.34zM389.26,13.39h1.12v0.79h-1.12zM345.19,70.57h1.07v0.75h-1.07zM325.77,36.57h1.58v1.11h-1.58zM334.27,61.54h1.04v0.73h-1.04zM378.34,21.55h1.86v1.3h-1.86zM338.11,55.15h1.81v1.26h-1.81zM342.4,17.48h1.5v1.05h-1.5zM361.92,40.28h1.74v1.22h-1.74zM359.05,41.32h1.38v0.97h-1.38zM358.37,35.94h0.99v0.7h-0.99zM345.62,27.63h1.1v0.77h-1.1zM384.63,18.73h1.05v0.73h-1.05zM364.11,30.44h1.09v0.76h-1.09zM351.87,41.62h1.61v1.13h-1.61zM399.78,62.31h1.32v0.92h-1.32zM358.13,36.53h1.09v0.76h-1.09zM398.14,16.05h1.05v0.73h-1.05zM374.96,46.78h1.13v0.79h-1.13zM396.96,36.16h1.52v1.06h-1.52zM329.28,64.56h0.92v0.65h-0.92zM353.52,64.25h1.93v1.35h-1.93zM394.32,60.83h1.08v0.76h-1.08zM324.55,38.66h0.88v0.61h-0.88zM398.84,12.48h1.19v0.83h-1.19zM338.26,12.81h1.4v0.98h-1.4zM328.08,65.1h1.63v1.14h-1.63zM351.6,61.65h1.76v1.23h-1.76zM348.12,61.99h1.92v1.34h-1.92zM371.59,32.76h1.88v1.32h-1.88zM397.43,32.49h0.9v0.63h-0.9zM391.42,51.22h1.08v0.75h-1.08zM367.35,30.18h1.9v1.33h-1.9zM349.37,23.58h0.85v0.6h-0.85zM349.4,70.38h1.06v0.74h-1.06zM358.64,69.35h0.81v0.57h-0.81zM345.61,60.45h0.91v0.64h-0.91zM396.26,61.24h0.97v0.68h-0.97zM369.39,44.77h1.63v1.14h-1.63zM346.55,34.67h1.09v0.76h-1.09zM345.35,22.37h1.89v1.32h-1.89zM392.99,33.24h1.63v1.14h-1.63zM361.22,28.57h1.22v0.85h-1.22zM399.21,32.15h1.49v1.05h-1.49zM397.61,29.56h1.77v1.24h-1.77zM331.13,55.27h1.77v1.24h-1.77zM389,69.53h1.65v1.16h-1.65zM400.18,28.42h1.43v1h-1.43zM339.13,16.93h1.33v0.93h-1.33zM379.57,57.93h0.82v0.57h-0.82zM397.38,26.59h1.15v0.81h-1.15zM388.59,64.76h1.68v1.18h-1.68zM348.63,39.31h1.8v1.26h-1.8zM350.58,59.51h1.74v1.22h-1.74zM359.49,64.9h1.26v0.88h-1.26zM381.99,49.75h1.2v0.84h-1.2zM364.54,47.76h1.44v1.01h-1.44zM330.86,70.5h1.96v1.37h-1.96zM325,67.71h1.44v1.01h-1.44zM332.06,60.41h1.32v0.92h-1.32zM379.06,60.81h1.45v1.01h-1.45zM325.97,60.53h1.63v1.14h-1.63zM394.81,27.94h1.74v1.22h-1.74zM391.85,32.95h1.29v0.9h-1.29zM348.72,12.34h1.08v0.75h-1.08zM348.52,18.4h1.72v1.2h-1.72zM356.16,45.52h1.14v0.8h-1.14zM350.83,56.45h1.36v0.95h-1.36zM369.72,36.94h1.47v1.03h-1.47zM393.79,27.78h1.42v1h-1.42zM376.98,17.12h1.95v1.37h-1.95zM361.9,26.47h1.71v1.2h-1.71zM387.25,49.21h1.9v1.33h-1.9zM329.11,43.13h1.69v1.18h-1.69zM395.35,49.85h1.52v1.07h-1.52zM353.06,45.72h1.47v1.03h-1.47zM394.4,60.8h1.68v1.18h-1.68zM395.9,15.9h1.72v1.21h-1.72zM359.09,56.36h1.16v0.81h-1.16zM359.39,60.65h0.84v0.59h-0.84zM345.29,40.82h1.82v1.28h-1.82zM343.6,60.56h1.09v0.77h-1.09zM346.25,44.68h1.58v1.11h-1.58zM392.41,63.89h1.1v0.77h-1.1zM381.65,49.46h1.26v0.88h-1.26zM384.08,64.95h1.38v0.96h-1.38zM395.29,19.53h1v0.7h-1zM383.14,30.03h1.5v1.05h-1.5zM361.77,20.6h1.71v1.19h-1.71zM381.31,20.57h1.11v0.78h-1.11zM386.05,65.82h1.84v1.29h-1.84zM362.15,33.68h1.33v0.93h-1.33zM336.11,41.26h1.08v0.75h-1.08zM334.96,34.46h0.88v0.61h-0.88zM359.63,53.07h1.58v1.11h-1.58zM400.02,64.26h1.56v1.09h-1.56zM393.81,38.22h1.76v1.23h-1.76zM344.76,43.08h1.98v1.38h-1.98zM369.9,41.9h1.74v1.22h-1.74zM346.99,61.03h0.82v0.58h-0.82zM341.06,22.46h1.11v0.78h-1.11zM397.64,13.41h1.16v0.81h-1.16zM367.95,53.48h1.73v1.21h-1.73zM352.66,24.99h1.82v1.28h-1.82zM331.77,15.84h1.08v0.75h-1.08zM361.41,67.59h1.67v1.17h-1.67zM367.12,42.75h1.63v1.14h-1.63zM372.12,31.84h0.91v0.64h-0.91zM338.07,58.18h1.56v1.09h-1.56zM385.77,14.62h1.88v1.32h-1.88zM352.58,66.64h1.51v1.06h-1.51zM365.79,60.27h1.55v1.09h-1.55zM375.97,21.3h1.53v1.07h-1.53zM350.52,16.46h0.96v0.67h-0.96zM360.38,27.49h1.72v1.2h-1.72zM331.79,12.82h2v1.4h-2zM347.04,42.08h1.05v0.74h-1.05zM338.7,35.74h1.75v1.22h-1.75zM325.12,61.4h1.99v1.39h-1.99zM366.73,33.24h1.08v0.76h-1.08zM336.64,31.08h1.82v1.28h-1.82zM322.26,58.37h1.6v1.12h-1.6zM323.52,16.1h1.68v1.18h-1.68zM375.85,30.5h1.83v1.28h-1.83zM338.81,37.19h0.94v0.66h-0.94zM373.66,17.13h1.02v0.71h-1.02zM383.31,41.51h1.59v1.12h-1.59zM380.72,47.79h1.04v0.73h-1.04zM377.88,18.84h1.12v0.79h-1.12zM357.85,18.75h0.93v0.65h-0.93zM374.18,55.78h1.24v0.87h-1.24zM353.19,24.25h1.43v1h-1.43zM368.43,67.08h0.85v0.59h-0.85zM394.7,70.45h1.22v0.85h-1.22zM380.06,60.67h1.58v1.11h-1.58zM345.11,48.75h1.85v1.3h-1.85zM330.56,40.32h0.83v0.58h-0.83zM389.6,57.93h0.86v0.6h-0.86zM381.66,52.8h0.95v0.67h-0.95zM364.01,52.67h1.2v0.84h-1.2zM362.31,69.58h1.56v1.09h-1.56zM362.16,15.89h0.95v0.66h-0.95zM390.06,55.81h1.8v1.26h-1.8zM368.25,45.98h1.44v1.01h-1.44zM380.81,31.48h1.4v0.98h-1.4zM359.58,51.04h1.06v0.74h-1.06zM324.01,17.23h1.02v0.71h-1.02zM390.58,54.29h1.7v1.19h-1.7zM357.54,18.06h1.36v0.95h-1.36zM391.04,42.04h1.56v1.09h-1.56zM351.94,20.86h1.55v1.09h-1.55zM360.8,32.39h1.11v0.78h-1.11zM377.68,30.76h1.49v1.04h-1.49zM342.78,56.45h1.25v0.87h-1.25zM360.28,66.73h1.66v1.16h-1.66zM380.91,32.02h1.81v1.27h-1.81zM352.86,70.31h1.88v1.31h-1.88zM374.73,61.06h1.45v1.02h-1.45zM380.65,19.36h1.99v1.39h-1.99zM386.02,20.4h1.09v0.76h-1.09zM368,57h0.98v0.69h-0.98zM398.85,32.41h1.99v1.4h-1.99zM382.21,40.65h1.24v0.86h-1.24zM329.72,17.19h1.56v1.09h-1.56zM383.88,65.54h1.24v0.87h-1.24zM397.01,29.52h1.93v1.35h-1.93zM395.51,21.14h1.83v1.28h-1.83zM378.3,53.44h1.81v1.27h-1.81zM364.93,41.9h1.24v0.87h-1.24zM391.22,65.16h0.99v0.69h-0.99zM383.77,28.26h1.02v0.71h-1.02zM337.78,45.83h1.14v0.8h-1.14zM341.38,17.81h1.19v0.83h-1.19zM383.93,13.27h1.38v0.97h-1.38zM370.22,14.93h1.15v0.81h-1.15zM394.52,70.67h1.82v1.27h-1.82zM335.58,57.09h1.34v0.94h-1.34zM335.65,40.37h1.91v1.34h-1.91zM392.18,35.1h0.88v0.61h-0.88zM394.04,70.19h1.41v0.99h-1.41zM340.02,44.08h1.64v1.14h-1.64zM360.58,32.8h1.1v0.77h-1.1zM345.75,14.94h1.11v0.77h-1.11zM398.25,12.48h1.67v1.17h-1.67zM385.11,35.88h1.51v1.06h-1.51zM339.67,51.41h1.65v1.15h-1.65zM380.77,41.01h1.96v1.38h-1.96zM391.31,45.78h1.62v1.13h-1.62zM343.98,67.67h1.57v1.1h-1.57zM393.59,29.03h1.98v1.39h-1.98zM330.44,43.29h0.93v0.65h-0.93zM337.18,57.08h0.88v0.62h-0.88zM352.62,23.31h1.82v1.27h-1.82zM328.59,31.86h1.83v1.28h-1.83zM376.95,53.5h1.99v1.39h-1.99zM323.87,51.22h1.69v1.19h-1.69zM381.85,54.13h0.89v0.62h-0.89zM328.72,57.6h1.53v1.07h-1.53zM343.01,12.55h1.44v1.01h-1.44zM329.23,56.15h1.21v0.85h-1.21zM386.6,17.64h1.39v0.97h-1.39zM329.98,58.04h1.47v1.03h-1.47zM340.78,68.81h1.62v1.13h-1.62zM348.91,62.46h1.26v0.88h-1.26zM397.4,29.53h1.98v1.39h-1.98zM327,55.34h1.15v0.8h-1.15zM355.91,49.53h0.85v0.6h-0.85zM339.88,18.14h1.69v1.18h-1.69zM339.7,41.4h1.19v0.84h-1.19zM340.89,67.18h1.41v0.99h-1.41zM374.04,53.56h1.79v1.25h-1.79zM343.06,16.64h1.36v0.95h-1.36zM335.6,13.21h1.9v1.33h-1.9zM372.13,36.45h0.96v0.67h-0.96zM382.9,43.45h1.01v0.71h-1.01zM400.58,68.1h1.91v1.34h-1.91zM388.13,43.36h1.16v0.81h-1.16zM374.14,20.93h1.54v1.08h-1.54zM327.29,12.8h1.66v1.16h-1.66zM349.42,53.14h1.74v1.22h-1.74zM388.82,48.33h1.82v1.27h-1.82zM374.71,66.71h1.88v1.31h-1.88zM325.46,27.79h1.27v0.89h-1.27zM342.18,22.44h1.85v1.29h-1.85zM324,22.73h1.71v1.2h-1.71zM339.86,27.24h1.96v1.37h-1.96zM383.01,38.47h0.96v0.67h-0.96zM343.52,69.89h1.75v1.22h-1.75zM327.59,53.7h1.25v0.88h-1.25zM379.59,29.43h0.96v0.67h-0.96zM323.58,29.45h1.83v1.28h-1.83zM393.3,52.31h1.7v1.19h-1.7zM337.57,32.9h1.88v1.32h-1.88zM400.9,38.14h1.73v1.21h-1.73zM396.68,70.82h1.15v0.81h-1.15zM374.33,35.01h1.36v0.95h-1.36zM358.95,28.43h0.82v0.58h-0.82zM383.32,53.06h1.81v1.27h-1.81zM334.26,25.99h1.52v1.06h-1.52zM396.93,39.83h1.04v0.73h-1.04zM369.58,68.49h1.84v1.29h-1.84zM393.92,36.22h1.11v0.78h-1.11zM391.65,58.5h1.82v1.28h-1.82zM353.3,28.88h1.09v0.76h-1.09zM391.65,66.25h1.24v0.87h-1.24zM391.96,34.5h1.34v0.94h-1.34zM367.32,25.06h1.12v0.78h-1.12zM343.33,27.34h1.42v0.99h-1.42zM330.04,58.04h1.01v0.71h-1.01zM357.52,49.87h0.97v0.68h-0.97zM354.74,45.23h1.46v1.02h-1.46zM393.4,58.32h0.95v0.66h-0.95zM388.66,44.44h1.61v1.13h-1.61zM334.8,39.85h1.64v1.15h-1.64zM385.8,59.54h1.06v0.74h-1.06zM388.62,45.54h1.6v1.12h-1.6zM390.12,35.92h1.9v1.33h-1.9zM392.5,59.66h1.26v0.88h-1.26zM364.26,22.21h1.71v1.2h-1.71zM393.27,21.49h1.69v1.19h-1.69zM377.53,14.15h1.9v1.33h-1.9zM360.33,27.88h0.84v0.59h-0.84zM384.55,31.93h1.42v0.99h-1.42zM337.58,47.81h1.28v0.89h-1.28zM386.53,51.31h1.67v1.17h-1.67zM342.09,15.77h1.86v1.3h-1.86zM396.85,49.97h1.91v1.33h-1.91zM378.5,47.74h1.3v0.91h-1.3zM350.45,40.89h1.07v0.75h-1.07zM356.21,41.95h0.84v0.59h-0.84zM353.49,28.78h1.56v1.09h-1.56zM386.94,48.25h1.6v1.12h-1.6zM371.11,27.12h1.25v0.88h-1.25zM389.54,67.82h1.02v0.71h-1.02zM322.85,68.73h1.83v1.28h-1.83zM370.61,60.2h1.51v1.06h-1.51zM394.38,26.36h1.33v0.93h-1.33zM375.65,24.72h1.66v1.16h-1.66zM342.99,53.89h1.77v1.24h-1.77zM355.93,70.42h1.56v1.09h-1.56zM382.53,13.22h0.94v0.65h-0.94zM378.92,67.64h1.55v1.09h-1.55zM395.03,15.49h1.87v1.31h-1.87zM392.19,49.1h1.32v0.92h-1.32zM378.4,26.39h1.6v1.12h-1.6zM377.54,43.85h1.11v0.78h-1.11zM322.17,23.55h1.8v1.26h-1.8zM338.98,16.39h1.1v0.77h-1.1zM363.53,46.59h1.85v1.3h-1.85zM390.38,69.16h1.86v1.3h-1.86zM358.02,20.37h1.95v1.36h-1.95zM340.3,48.71h1.12v0.78h-1.12zM387.35,23.85h1.3v0.91h-1.3zM339.58,62.77h1.54v1.08h-1.54zM372.47,30.56h1.01v0.71h-1.01zM390.59,57.11h1.68v1.18h-1.68zM401.77,45.01h1.01v0.71h-1.01zM370.76,28.95h1.42v0.99h-1.42zM358.75,45.25h1.91v1.33h-1.91zM386.82,36.49h1.78v1.25h-1.78zM390.84,57.66h1.46v1.02h-1.46zM393.95,41.03h0.93v0.65h-0.93zM343.77,50.79h1.25v0.88h-1.25zM355.83,35.73h1.03v0.72h-1.03zM329.48,14.9h1.61v1.12h-1.61zM347.93,38.95h1.92v1.35h-1.92zM372.13,59.83h1.71v1.2h-1.71zM398.3,15.94h1.26v0.88h-1.26zM397.97,39.4h1.94v1.36h-1.94zM336.79,15.55h1.87v1.31h-1.87zM354.9,41.99h1.92v1.35h-1.92zM339.55,69.12h1.28v0.89h-1.28zM341.79,25.79h1.42v1h-1.42zM359.36,64.28h0.86v0.6h-0.86zM325.52,21.01h1.53v1.07h-1.53zM384.51,40.31h1.54v1.08h-1.54zM373.4,13.14h1.1v0.77h-1.1zM401.82,31.52h1.94v1.36h-1.94zM361.38,25.13h0.8v0.56h-0.8zM339.4,30.97h1.33v0.93h-1.33zM357.77,44.35h1.37v0.96h-1.37zM324.63,27.75h1.95v1.37h-1.95zM324.19,55.31h1.37v0.96h-1.37zM378.55,31.62h1.24v0.87h-1.24zM363.34,65.67h1.19v0.84h-1.19zM328.87,14.26h1.86v1.3h-1.86zM347.1,19.05h1.52v1.06h-1.52zM389.59,47.37h0.98v0.69h-0.98zM354.46,27.72h0.82v0.57h-0.82zM399.25,39.09h0.96v0.67h-0.96zM392.79,70.12h1.78v1.25h-1.78zM342.29,23.24h1.43v1h-1.43zM368.68,63.83h1.96v1.37h-1.96zM394.83,32.18h1.5v1.05h-1.5zM331.91,42.61h0.88v0.62h-0.88zM330.9,19.19h1.16v0.81h-1.16zM346.77,53.6h0.89v0.62h-0.89zM330.89,50.72h1.61v1.13h-1.61zM378.83,54.49h1.6v1.12h-1.6zM366.21,55.74h0.9v0.63h-0.9zM338.94,55.75h1.03v0.72h-1.03zM364.46,27.36h1.32v0.92h-1.32zM388.73,50.98h1.33v0.93h-1.33zM343.88,59.5h1.59v1.11h-1.59zM357.2,63.29h1.63v1.14h-1.63zM400.45,51.2h1.88v1.32h-1.88zM366.03,53.89h1.81v1.27h-1.81zM329.24,39.98h1.53v1.07h-1.53zM326.62,58.56h1.66v1.16h-1.66zM396.9,33.95h1.36v0.95h-1.36zM394.95,36.28h1.8v1.26h-1.8zM355.71,31.93h1.13v0.79h-1.13zM339.08,37.45h0.99v0.7h-0.99zM388.24,69.49h0.92v0.64h-0.92zM326.39,12.22h1.92v1.34h-1.92zM327.9,52.13h1.16v0.82h-1.16zM337.86,26.53h1.63v1.14h-1.63zM323.44,63.02h1.48v1.04h-1.48zM340.85,24.29h1.59v1.11h-1.59zM372.35,30.77h1.2v0.84h-1.2zM359.08,65.72h1.45v1.01h-1.45zM389.21,49.81h1.47v1.03h-1.47zM361.17,52.16h1.39v0.97h-1.39zM380.08,22.74h1.19v0.83h-1.19zM391.85,35.32h1.81v1.27h-1.81zM397.04,46.13h0.92v0.65h-0.92zM382.55,51.29h1.15v0.8h-1.15zM391.04,40.48h0.87v0.61h-0.87zM327.44,25.47h1.53v1.07h-1.53zM387.21,17.84h0.83v0.58h-0.83zM371.8,36.16h1.33v0.93h-1.33zM387.66,66.22h1.96v1.37h-1.96zM384.33,12.19h0.98v0.69h-0.98zM368.98,68.36h0.9v0.63h-0.9zM363.19,35.39h1.29v0.9h-1.29zM343.48,27.97h1.09v0.76h-1.09zM330.25,44.69h1.34v0.93h-1.34zM379.03,49.76h1.94v1.36h-1.94zM349.17,64.07h1.26v0.88h-1.26zM374.85,59.49h1.28v0.89h-1.28zM357.69,49.24h0.93v0.65h-0.93zM364.54,17.6h1.07v0.75h-1.07zM371.84,69.36h2v1.4h-2zM342.85,20.63h1.42v1h-1.42zM357.31,34.39h1.72v1.21h-1.72zM378.78,45.15h1.55v1.08h-1.55zM368.55,51.94h1.91v1.34h-1.91zM397.73,69.79h1.83v1.28h-1.83zM330.38,38.65h1.74v1.22h-1.74zM345.55,47.8h0.87v0.61h-0.87zM338.29,35.61h0.88v0.62h-0.88zM355.95,25.58h1.83v1.28h-1.83zM347.5,34.46h1.76v1.23h-1.76zM366.77,14.96h1.06v0.74h-1.06zM370.87,23.76h1.1v0.77h-1.1zM371.83,41.18h1.12v0.79h-1.12zM366.74,49.39h0.85v0.59h-0.85zM343.91,30.15h1.85v1.3h-1.85zM326.11,32.48h1.03v0.72h-1.03zM377.61,59.86h0.87v0.61h-0.87zM391.06,53.06h1.06v0.74h-1.06zM395.27,29.29h1.75v1.22h-1.75zM328,38.91h1.41v0.98h-1.41zM393.73,61.36h1.46v1.02h-1.46zM326.12,37.37h1.25v0.88h-1.25zM401.64,52.16h1.29v0.9h-1.29zM351.19,57.29h0.91v0.64h-0.91zM387.36,51.58h1.32v0.93h-1.32zM378.83,35.47h0.97v0.68h-0.97zM355.36,15.03h0.9v0.63h-0.9zM357.12,60.68h1.04v0.73h-1.04zM362.07,69.76h1.79v1.26h-1.79zM394.15,51.82h1.51v1.05h-1.51zM368.55,47.47h1.36v0.95h-1.36zM350.85,26.08h0.88v0.61h-0.88zM351.53,57.42h1.46v1.02h-1.46zM335.12,60.04h0.85v0.59h-0.85zM396.49,50.46h1.47v1.03h-1.47zM355.01,60.68h0.81v0.57h-0.81zM323.27,42.7h1.16v0.81h-1.16zM354.12,43.66h0.85v0.6h-0.85zM400.64,51.98h0.92v0.64h-0.92zM381.09,43.44h1.62v1.14h-1.62zM381.02,70.49h0.94v0.66h-0.94zM401.7,40.13h1.04v0.73h-1.04zM351.89,33.49h1.87v1.31h-1.87zM363.94,15.94h1.66v1.16h-1.66zM361.82,60.06h0.86v0.6h-0.86zM391.2,64.68h0.81v0.57h-0.81zM360.15,19.17h1.44v1h-1.44zM329.14,64.34h1.02v0.71h-1.02zM375.46,50.56h1.18v0.83h-1.18zM339.16,66h0.85v0.59h-0.85zM342.33,31.28h1.5v1.05h-1.5zM351.54,18.57h1.48v1.04h-1.48zM379.93,53.58h1.39v0.97h-1.39zM346.55,12.61h1.44v1.01h-1.44zM372.28,38.03h1.95v1.37h-1.95zM338.18,60.03h1.66v1.16h-1.66zM393.95,66.55h1.08v0.76h-1.08zM395.74,35.79h1.61v1.13h-1.61zM398.23,47.13h1.5v1.05h-1.5zM327.67,47.2h1.09v0.76h-1.09zM353.06,34.29h1.97v1.38h-1.97zM373.02,54.77h1.01v0.71h-1.01zM346.34,63.77h0.94v0.66h-0.94zM398.25,37.22h1.27v0.89h-1.27zM363.17,38.15h1.36v0.96h-1.36zM355.92,53.4h1.13v0.79h-1.13zM335.32,37.64h0.91v0.63h-0.91zM357.79,41.17h1.74v1.22h-1.74zM330.72,35.42h1.74v1.22h-1.74zM349.06,61.34h1.66v1.16h-1.66zM325.34,34.73h1.72v1.2h-1.72zM364.12,51.7h1.99v1.39h-1.99zM376.02,44.22h1.82v1.27h-1.82zM356.42,12.61h1.13v0.79h-1.13zM369.58,67.95h1.53v1.07h-1.53zM344.7,70.6h1.28v0.9h-1.28zM340.22,44.62h1.21v0.85h-1.21zM330.93,54.05h1.63v1.14h-1.63zM399.77,20.07h1.89v1.32h-1.89zM385.77,26.93h1.38v0.96h-1.38zM372.41,30.58h0.93v0.65h-0.93zM388.97,21.72h1.39v0.97h-1.39zM357.02,65.28h1.47v1.03h-1.47zM355.95,69.63h1.22v0.86h-1.22zM380.12,25.8h1.71v1.2h-1.71zM382.1,60.86h1.38v0.97h-1.38zM339.77,49.29h1.89v1.32h-1.89zM346.79,13.19h1.02v0.72h-1.02zM396.63,12.36h0.86v0.61h-0.86zM329.87,64.62h1.26v0.88h-1.26zM377.33,53.65h1.32v0.92h-1.32zM380.59,39.21h1.45v1.02h-1.45zM346.55,12.11h1.51v1.06h-1.51zM343.25,28.23h1.85v1.3h-1.85zM350.95,18.04h1.56v1.09h-1.56zM365.08,15.4h1.22v0.85h-1.22zM370.9,28.5h1.98v1.39h-1.98zM385.92,41.75h1.9v1.33h-1.9zM324.78,25.25h1.9v1.33h-1.9zM362.7,22.04h1.48v1.04h-1.48zM380.42,47.6h0.86v0.6h-0.86zM324.94,36.02h0.82v0.57h-0.82zM328.73,49.91h1.33v0.93h-1.33zM328.84,63.71h1.24v0.87h-1.24zM392.65,47.95h1.55v1.08h-1.55zM355.92,51.65h1.09v0.76h-1.09zM342.59,63.62h1.04v0.73h-1.04zM352.88,55.94h1.2v0.84h-1.2zM351.28,65.64h1.05v0.73h-1.05zM341.29,64.32h1.13v0.79h-1.13zM348.45,64.04h1.19v0.83h-1.19zM401.76,60.46h1.82v1.27h-1.82zM340.05,24.81h1.7v1.19h-1.7zM388.14,25.25h1.05v0.73h-1.05zM341.48,20.12h1.31v0.91h-1.31z" fill="#7585aa" opacity="0.9"/><path d="M362.23,49.06h0.86v0.6h-0.86zM337.38,18.91h1.07v0.75h-1.07zM336.86,67.24h1.17v0.82h-1.17zM333.11,51.32h1.77v1.24h-1.77zM385.55,50.24h1.18v0.82h-1.18zM354.26,29.83h1.61v1.12h-1.61zM386.27,40.87h1.66v1.16h-1.66zM374.18,52.45h1.07v0.75h-1.07zM341.33,25.44h1.71v1.2h-1.71zM386.02,65.06h1.62v1.14h-1.62zM386.39,37.73h1.57v1.1h-1.57zM335.33,50.69h0.84v0.59h-0.84zM399.26,63.89h0.96v0.68h-0.96zM383.5,60.6h0.84v0.59h-0.84zM367.29,36.79h1.42v0.99h-1.42zM392.91,54.65h1.01v0.71h-1.01zM366.38,45.14h0.81v0.57h-0.81zM332.55,33.21h0.98v0.68h-0.98zM340.98,51.89h1.76v1.23h-1.76zM358.64,50.12h1.56v1.09h-1.56zM375.84,50.76h0.8v0.56h-0.8zM391.59,21.51h0.98v0.69h-0.98zM362.78,46.63h1.56v1.09h-1.56zM345.43,67.77h1.43v1h-1.43zM389.53,40.14h0.87v0.61h-0.87zM322.97,49.78h1.23v0.86h-1.23zM357.24,31.23h0.98v0.68h-0.98zM359.89,27.03h1.69v1.18h-1.69zM336.3,69.09h1.66v1.16h-1.66zM352.69,57.6h1.38v0.97h-1.38zM359.27,59.91h1.63v1.14h-1.63zM338.12,65.45h0.83v0.58h-0.83zM322.44,40.54h1.1v0.77h-1.1zM355.81,40.26h1.27v0.89h-1.27zM394.63,66.17h1.15v0.8h-1.15zM345.01,50.59h1v0.7h-1zM354.04,54.36h0.81v0.56h-0.81zM383.75,55.3h1.19v0.83h-1.19zM341.83,43.86h1.1v0.77h-1.1zM387.69,46.85h1.11v0.77h-1.11zM386.61,47.85h0.93v0.65h-0.93zM355.12,40.89h1.74v1.22h-1.74zM347.65,38.46h1.78v1.24h-1.78zM356.09,60.8h0.9v0.63h-0.9zM353.51,22.84h1.68v1.18h-1.68zM366.21,24.89h0.89v0.62h-0.89zM355.67,17.69h1.29v0.9h-1.29zM380.3,30.31h0.97v0.68h-0.97zM350.92,21.8h1.64v1.15h-1.64zM329.69,55.72h1.13v0.79h-1.13zM380.27,57.49h0.94v0.65h-0.94zM382.52,67.79h1.37v0.96h-1.37zM373.59,31.03h0.97v0.68h-0.97zM381.55,60.41h1.01v0.7h-1.01zM331.08,32.78h1.43v1h-1.43zM351.21,68.88h1.59v1.11h-1.59zM395.3,47.38h1.56v1.09h-1.56zM398.08,14.1h1.37v0.96h-1.37zM336.97,58.91h1.03v0.72h-1.03zM381.33,31.62h1.45v1.02h-1.45zM376.32,65.62h1.67v1.17h-1.67zM357.02,52.65h0.98v0.69h-0.98zM329.85,54.13h1.71v1.19h-1.71zM381.73,42.49h1.43v1h-1.43zM380.41,45.59h1.16v0.81h-1.16zM390.06,33.79h1.7v1.19h-1.7zM385.95,58.79h1.63v1.14h-1.63zM400.94,70.4h1.3v0.91h-1.3zM352.18,55.26h1.77v1.24h-1.77zM372.41,13.52h0.84v0.59h-0.84zM359.13,58.47h1.69v1.18h-1.69zM352,42.51h1.31v0.92h-1.31zM329.57,12.05h1.32v0.93h-1.32zM362.34,62.95h0.98v0.69h-0.98zM390.2,28h1.34v0.94h-1.34zM378.56,20.57h1.75v1.22h-1.75zM398.63,69.23h0.8v0.56h-0.8zM373.47,51.59h1.68v1.18h-1.68zM338.12,19.32h1.61v1.13h-1.61zM342.94,15.9h0.89v0.62h-0.89zM373.61,43.62h1.55v1.08h-1.55zM386.57,12.16h1.73v1.21h-1.73zM392.37,67.05h1.57v1.1h-1.57zM352.7,26.64h1.71v1.2h-1.71zM355.62,40.79h1.5v1.05h-1.5zM377.07,52.91h1.42v1h-1.42zM362.69,57.25h1.2v0.84h-1.2zM342.99,65.64h1.65v1.15h-1.65zM379.44,21.93h0.85v0.59h-0.85zM395.8,67.63h1.07v0.75h-1.07zM372.36,13.08h1.19v0.84h-1.19zM378.32,33.3h1.61v1.12h-1.61zM395.02,20.1h1.49v1.04h-1.49zM352.08,22.29h1.15v0.8h-1.15zM360.55,64.86h1.57v1.1h-1.57zM322.41,15.33h1.79v1.26h-1.79zM366.53,48h1.15v0.81h-1.15zM388.52,44.86h1.39v0.97h-1.39zM341.96,57.83h1.01v0.71h-1.01zM332.98,47.25h1.63v1.14h-1.63zM345.45,29.82h0.95v0.66h-0.95zM370.25,57.48h0.93v0.65h-0.93zM364.81,43.84h0.91v0.63h-0.91zM364.42,28.04h1v0.7h-1zM400.84,17.33h1.14v0.8h-1.14zM371.49,35.88h0.82v0.57h-0.82zM391.3,26.11h1.21v0.85h-1.21zM394.68,69.2h1.71v1.2h-1.71zM354.88,55.9h1.65v1.15h-1.65zM337.78,69.2h0.9v0.63h-0.9zM374.62,26.1h1.02v0.71h-1.02zM332.98,67.58h0.93v0.65h-0.93zM395,21.78h1.13v0.79h-1.13zM338.92,70.29h0.89v0.63h-0.89zM390.89,29.73h1.75v1.23h-1.75zM382.03,27.57h1.31v0.92h-1.31zM334.89,36.02h0.83v0.58h-0.83zM376.53,47.01h1.07v0.75h-1.07zM323.06,67.4h0.92v0.65h-0.92zM348.22,13.5h1.18v0.83h-1.18zM354.13,43.48h1.12v0.79h-1.12zM341.98,58.36h1.08v0.76h-1.08zM348.56,40.97h1.07v0.75h-1.07zM380.13,16.96h1.12v0.79h-1.12zM355.67,27.23h1.64v1.15h-1.64zM350.33,36.82h1.27v0.89h-1.27zM388.41,24.9h1.63v1.14h-1.63zM397.87,27.7h0.97v0.68h-0.97zM385.1,30.46h1.03v0.72h-1.03zM328.24,48.21h1.74v1.22h-1.74zM392.5,46.74h1.24v0.87h-1.24zM400.11,50.96h1.76v1.23h-1.76zM377.06,53.11h1.5v1.05h-1.5zM332.05,26.9h0.87v0.61h-0.87zM396.6,70.68h1.41v0.98h-1.41zM334.48,19.34h1.25v0.87h-1.25zM353.26,23.54h0.89v0.62h-0.89zM373.79,58.75h0.86v0.6h-0.86zM346.76,29.73h1.34v0.94h-1.34zM370.36,36.22h1.67v1.17h-1.67zM353.26,29.9h1.57v1.1h-1.57zM389.35,63.77h0.97v0.68h-0.97zM337.76,39.29h1.77v1.24h-1.77zM371.63,48.78h1.13v0.79h-1.13zM401.24,22.77h1.36v0.95h-1.36zM375.99,59.79h1.61v1.13h-1.61zM352.92,27.99h1.78v1.25h-1.78zM366.23,28.64h0.94v0.66h-0.94zM386.25,62.06h1.37v0.96h-1.37zM352.72,50.92h1.78v1.25h-1.78zM368.27,58.44h1.68v1.18h-1.68zM382.55,40.71h0.98v0.68h-0.98zM377.72,61.06h1.76v1.23h-1.76zM334.18,18.71h1.44v1.01h-1.44zM388.17,16.51h1.41v0.99h-1.41zM343.31,70.95h1.16v0.81h-1.16zM328.56,58.18h1.1v0.77h-1.1zM355.53,19.7h1.13v0.79h-1.13zM332.66,27.18h1.38v0.97h-1.38zM345.92,51.38h1.7v1.19h-1.7zM368.11,13.69h1.76v1.23h-1.76zM337.83,32.42h1.33v0.93h-1.33zM371.5,32.18h1.24v0.87h-1.24zM372.15,38.97h1.08v0.76h-1.08zM354.86,34.7h1.09v0.76h-1.09zM370.06,42.22h1.21v0.85h-1.21zM378.75,59.94h1.45v1.01h-1.45zM349.29,67.26h0.9v0.63h-0.9zM386.44,36.86h1.2v0.84h-1.2zM389.46,50.66h1.77v1.24h-1.77zM392.24,18.86h1.3v0.91h-1.3zM383.41,16.87h1.34v0.94h-1.34zM401.42,26.1h0.92v0.64h-0.92zM345.15,32.32h1.09v0.76h-1.09zM356.57,61.17h1.32v0.92h-1.32zM369.14,18.43h0.86v0.61h-0.86zM398.08,32.48h1.75v1.22h-1.75zM348.85,49.73h1.46v1.02h-1.46zM329.2,16.19h1.24v0.87h-1.24zM332.18,29.45h1v0.7h-1zM347.04,38.9h1.11v0.78h-1.11zM348.84,40.67h1.48v1.04h-1.48zM325.36,70.85h1.23v0.86h-1.23zM395.84,12.43h0.86v0.6h-0.86zM329.93,65.85h1.21v0.85h-1.21zM389.71,52.98h0.89v0.62h-0.89zM350.94,31.56h1.25v0.88h-1.25zM382.31,16.93h1.73v1.21h-1.73zM360.13,33.58h1.5v1.05h-1.5zM344.12,54.04h1.22v0.85h-1.22zM360.25,23.16h1v0.7h-1zM390.91,46h1.22v0.86h-1.22zM384,65.81h0.96v0.67h-0.96zM401.84,12.83h1.41v0.99h-1.41zM343.09,26.88h1.29v0.91h-1.29zM370.34,37.77h1.51v1.06h-1.51zM398.02,21.96h1.04v0.73h-1.04zM370.77,36.21h1.12v0.78h-1.12zM362.36,53.11h1.71v1.2h-1.71zM397.27,60.35h1.15v0.8h-1.15zM392.71,53.89h0.97v0.68h-0.97zM398.26,26.59h1.48v1.04h-1.48zM377.56,65.58h1.47v1.03h-1.47zM400.65,15.52h0.84v0.59h-0.84zM337.65,45.94h1.22v0.86h-1.22zM328.6,23.92h1.38v0.97h-1.38zM354.2,57.04h1.27v0.89h-1.27zM392.22,56.77h1.29v0.91h-1.29zM350.64,24.62h1.09v0.76h-1.09zM350.41,33.31h0.98v0.69h-0.98zM359.86,18.6h1.67v1.17h-1.67zM366.03,17.61h1.13v0.79h-1.13zM342.42,21.21h1.28v0.9h-1.28zM336.66,20.95h1.5v1.05h-1.5zM356.37,51.65h1.27v0.89h-1.27zM362.32,30.33h1.23v0.86h-1.23zM360.47,32.2h1.63v1.14h-1.63zM341.7,25.01h1.14v0.8h-1.14zM384.81,62.01h1.37v0.96h-1.37zM350.85,50.28h1.63v1.14h-1.63zM341.43,51.39h1.51v1.06h-1.51zM353.22,20.54h1.41v0.99h-1.41zM338.81,33.71h1.34v0.94h-1.34zM399.02,20.64h0.87v0.61h-0.87zM365.11,67.64h0.85v0.59h-0.85zM373.37,13.61h1.35v0.95h-1.35zM331.53,50.89h1.16v0.81h-1.16zM374.37,27.24h0.87v0.61h-0.87zM336.55,28.16h0.96v0.68h-0.96zM337.87,44.11h1.24v0.87h-1.24zM388.02,41.36h1.34v0.94h-1.34zM378.81,62.35h1.38v0.97h-1.38zM324.95,39.09h0.83v0.58h-0.83zM370.39,15.84h1.34v0.94h-1.34zM333.99,62.48h0.89v0.63h-0.89zM374.75,53.52h1.08v0.75h-1.08zM369.42,31.47h1.06v0.74h-1.06zM342.77,12.93h1.47v1.03h-1.47zM327.75,23.62h0.89v0.62h-0.89zM386.34,43.24h1.27v0.89h-1.27zM368.67,59.69h1.42v1h-1.42zM363.06,30.48h1.32v0.92h-1.32zM400.98,45.62h1.28v0.89h-1.28zM393.06,15.22h0.86v0.6h-0.86zM385.15,67.59h0.85v0.6h-0.85zM323.92,12.58h1.38v0.96h-1.38zM333.02,45.12h1.46v1.02h-1.46zM323.24,63.34h1.05v0.74h-1.05zM366.32,32.87h1.14v0.8h-1.14zM354.27,12.22h1.23v0.86h-1.23zM343.2,33.09h0.96v0.67h-0.96zM348.79,53.27h1.78v1.25h-1.78zM337.77,63.13h1.41v0.99h-1.41zM330.08,12.87h1.68v1.18h-1.68zM340.72,18.27h1.46v1.02h-1.46zM378.53,64.81h1.3v0.91h-1.3zM346.96,30.78h1v0.7h-1zM372.82,67.59h0.88v0.62h-0.88zM352.93,32.76h0.88v0.62h-0.88zM369.59,70h1.08v0.75h-1.08zM380.17,65.13h1.07v0.75h-1.07zM395.52,56.15h1.45v1.01h-1.45zM337.53,28.37h0.9v0.63h-0.9zM393.66,59.73h0.89v0.62h-0.89zM364.48,24.57h1.57v1.1h-1.57zM367.85,67.78h1.53v1.07h-1.53zM330.05,33.99h1.38v0.96h-1.38zM394.95,33.89h0.99v0.69h-0.99zM344.66,26.64h0.95v0.67h-0.95zM349.51,26.69h1.31v0.92h-1.31zM393.54,68.31h0.96v0.67h-0.96zM367.55,51.76h0.95v0.67h-0.95zM364.54,23.8h1.16v0.81h-1.16zM347.92,60.08h1.03v0.72h-1.03zM365.21,46.55h1.13v0.79h-1.13zM396.35,31.6h1.13v0.79h-1.13zM377.41,40.78h1.52v1.07h-1.52zM334.23,20.74h1.54v1.08h-1.54zM353.08,62.57h1.03v0.72h-1.03zM341.22,62.93h1.16v0.81h-1.16zM330.78,25h1.57v1.1h-1.57zM343.24,44.79h1.63v1.14h-1.63zM370.83,56.41h1.78v1.24h-1.78zM345.94,63.7h1.35v0.95h-1.35zM338.11,19.79h1.13v0.79h-1.13zM333.01,57.53h1.36v0.95h-1.36zM325.54,63.82h1.4v0.98h-1.4zM357.43,20.32h1.27v0.89h-1.27zM395.39,46.48h1.26v0.88h-1.26zM370.65,44.48h1.42v1h-1.42zM337.92,20.77h0.81v0.57h-0.81zM388.55,12.19h1.06v0.74h-1.06zM368.83,41.49h1.7v1.19h-1.7zM339.06,18.73h0.96v0.67h-0.96zM361.83,29.18h1.26v0.88h-1.26zM377.03,30.96h1.47v1.03h-1.47zM323.57,44.22h1.71v1.2h-1.71zM396.73,45.74h1.78v1.25h-1.78zM340.83,29.56h1.25v0.87h-1.25zM362.71,60.35h1.25v0.87h-1.25zM325.84,53.29h1.02v0.72h-1.02zM392.59,24.51h1.1v0.77h-1.1zM332.98,29.85h1.4v0.98h-1.4zM343.38,14.86h1.39v0.97h-1.39zM380.79,18.43h1.22v0.86h-1.22zM327.46,13h1.17v0.82h-1.17zM344.92,63.64h0.81v0.57h-0.81zM373.71,55.28h1.22v0.85h-1.22zM362.06,26.58h1.05v0.74h-1.05zM326.24,65.44h0.83v0.58h-0.83zM332.97,54.73h1.26v0.88h-1.26zM362.96,29.37h0.96v0.67h-0.96zM385.93,19.3h1.1v0.77h-1.1zM382.15,29.59h1.75v1.23h-1.75zM336.02,43.13h1.34v0.94h-1.34zM362.04,57.69h0.85v0.59h-0.85zM365.67,58.6h0.85v0.6h-0.85zM365.7,38h1.2v0.84h-1.2zM365.02,48.86h1.5v1.05h-1.5zM393.86,50.74h1.8v1.26h-1.8zM375.19,27.88h0.95v0.66h-0.95zM327.67,27.83h0.92v0.64h-0.92zM376.67,52.68h1.41v0.99h-1.41zM352.62,39.37h1.06v0.74h-1.06zM395.49,12.94h1.12v0.78h-1.12zM367.82,22.66h1.65v1.16h-1.65zM360.43,33.86h0.86v0.6h-0.86zM344.49,46.79h1.08v0.76h-1.08zM325.61,46.19h1.1v0.77h-1.1zM389.71,52.82h1.52v1.07h-1.52zM393.21,59.79h1.13v0.79h-1.13zM367.52,27.27h1v0.7h-1zM338.47,18.55h1.04v0.73h-1.04zM339.98,51.68h1.05v0.74h-1.05zM325.73,36.87h1v0.7h-1zM377.15,25.08h1.36v0.95h-1.36zM336.08,40.45h1.67v1.17h-1.67zM346.26,43.1h1.24v0.87h-1.24zM327.6,13.22h1.64v1.15h-1.64zM349.23,52.48h1.21v0.85h-1.21zM389.06,23.51h1.28v0.9h-1.28zM365.87,58.82h0.83v0.58h-0.83zM351,40.04h1.39v0.97h-1.39zM333.32,44.07h1.49v1.05h-1.49zM380.64,25.24h1.24v0.87h-1.24zM345.84,34.87h1.16v0.81h-1.16zM397.61,12.79h1.75v1.22h-1.75zM324.65,16.6h1.01v0.7h-1.01zM344.95,62.61h1.64v1.15h-1.64zM396.76,34.99h0.82v0.57h-0.82zM372.07,65.05h0.91v0.64h-0.91zM388.22,12.11h1.53v1.07h-1.53zM361.46,65.59h1.67v1.17h-1.67zM325.72,41.39h1.04v0.73h-1.04zM357.15,15.91h1.16v0.81h-1.16zM354.68,12.23h1.27v0.89h-1.27zM393.57,15.59h1.74v1.22h-1.74zM361.15,24.43h1.77v1.24h-1.77zM359.88,37.78h1.18v0.82h-1.18zM392.51,19.67h1.01v0.71h-1.01zM344.66,15.68h1.64v1.15h-1.64zM361.09,47.49h1.69v1.18h-1.69zM361.58,28.3h1.33v0.93h-1.33zM362.02,29.63h1.03v0.72h-1.03zM350.62,55.37h0.97v0.68h-0.97zM401.69,25.88h1.07v0.75h-1.07zM331.83,35.12h1.17v0.82h-1.17zM376.55,64.87h1.05v0.73h-1.05zM386.75,30.19h1.21v0.84h-1.21zM332.26,64.67h1.17v0.82h-1.17zM378.07,13.56h1.5v1.05h-1.5zM340.11,38.64h1.47v1.03h-1.47zM335.66,43.1h1.64v1.15h-1.64zM335.07,39.59h0.98v0.69h-0.98zM333.46,40.91h1.26v0.88h-1.26zM373.51,62.61h1.51v1.05h-1.51zM348.91,40.68h1.47v1.03h-1.47zM389.1,52.28h1.3v0.91h-1.3zM332.68,63.23h1.08v0.76h-1.08zM354.41,64.19h1.01v0.71h-1.01zM395.11,25.52h0.89v0.62h-0.89zM363.09,58.92h1.2v0.84h-1.2zM389.42,35.38h1.62v1.13h-1.62zM331.02,28.72h0.92v0.65h-0.92zM381.17,39.71h1.46v1.02h-1.46zM341.07,55.35h1.79v1.25h-1.79zM328.32,30.81h1.67v1.17h-1.67zM390.13,63.45h1.03v0.72h-1.03zM367.05,17.08h1.23v0.86h-1.23zM368.09,27.25h1.22v0.86h-1.22zM351.3,16.99h0.87v0.61h-0.87zM384.49,12.17h1.79v1.25h-1.79zM393.77,70.25h1.59v1.11h-1.59zM322.2,18.84h1.12v0.78h-1.12zM336.51,15.57h1.72v1.2h-1.72zM394.82,57.26h1.05v0.74h-1.05zM390.19,60.33h1.12v0.79h-1.12zM332.21,20h1.21v0.85h-1.21zM388.57,16.5h1.23v0.86h-1.23zM350.37,64.65h0.95v0.67h-0.95zM374.45,31.06h1.45v1.01h-1.45zM387.78,60.65h1.65v1.15h-1.65zM345.41,28.28h0.92v0.65h-0.92zM342.43,19.04h1.58v1.11h-1.58zM325.79,23.31h1.59v1.11h-1.59zM383.48,69.44h1.18v0.83h-1.18zM325.61,59.68h1.09v0.76h-1.09zM383.85,13.14h0.83v0.58h-0.83zM369.85,52.36h1.36v0.95h-1.36zM364.58,47.23h0.93v0.65h-0.93zM327.09,32.61h1.35v0.94h-1.35zM341.91,22.56h1.25v0.87h-1.25zM354.78,27.85h1.73v1.21h-1.73zM397.44,14.76h1.28v0.9h-1.28zM341.02,31.83h0.83v0.58h-0.83zM328.41,13.98h0.93v0.65h-0.93zM373.94,16.62h1.69v1.18h-1.69zM386.21,27.89h1.49v1.04h-1.49zM398.16,18.86h1.36v0.95h-1.36zM359.24,30.31h1.09v0.76h-1.09z" fill="#46598c" opacity="0.95"/></g></g><text x="341.7" y="9.5" font-size="9" fill="#111">H-score 0</text><g clip-path="url(#c2)"><rect x="410.3" y="12.2" width="78.6" height="58.2" fill="#b9bbc3"/><g filter="url(#bl2)" fill="#d3d4d6"><path d="M449,12 C452,28 457,45 462,71 L476,71 C471,50 467,30 463,12 Z"/><path d="M410,61 C428,62 448,64 470,71 L410,71 Z"/></g><g filter="url(#bl)"><path d="M416.83,50.18h1.32v0.92h-1.32zM443.4,66.76h1.56v1.09h-1.56zM434.98,67.02h1.93v1.35h-1.93zM455.07,25.12h2.03v1.42h-2.03zM439.95,44.08h1.64v1.15h-1.64zM416.4,63.78h2.11v1.47h-2.11zM485.7,30.08h1.45v1.02h-1.45zM420.71,30.04h1.52v1.06h-1.52zM424.53,27.61h1.47v1.03h-1.47zM477.78,38.33h2.31v1.62h-2.31zM413.93,23.12h2.52v1.77h-2.52zM413.97,16.1h1.83v1.28h-1.83zM432.9,23.46h1.97v1.38h-1.97zM458.12,23.1h1.86v1.3h-1.86zM445.93,61.94h1.11v0.78h-1.11zM428.42,45.34h1.05v0.74h-1.05zM476.81,69.12h1.53v1.07h-1.53zM471.21,26.7h2.52v1.76h-2.52zM426.73,12.35h1.11v0.78h-1.11zM446.23,14.26h2.57v1.8h-2.57zM459.86,45.56h2v1.4h-2zM443.04,64.26h2.14v1.5h-2.14zM444,28.76h1.23v0.86h-1.23zM434.9,32.84h1.13v0.79h-1.13zM483.07,27.22h1.86v1.3h-1.86zM415.22,44.57h2.03v1.42h-2.03zM416.3,69.56h1.26v0.88h-1.26zM430.77,55.45h1.54v1.08h-1.54zM479.26,26.05h1.5v1.05h-1.5zM464.69,62.74h2.41v1.69h-2.41zM432.76,43.33h1.66v1.16h-1.66zM463.41,25.42h2.34v1.64h-2.34zM466.35,22.32h1.5v1.05h-1.5zM436.56,66.87h1.73v1.21h-1.73zM458.69,66.91h1.63v1.14h-1.63zM484.75,29.23h1.02v0.71h-1.02zM418.11,52.85h1.61v1.13h-1.61zM475.85,43.45h2.1v1.47h-2.1zM437.85,46.65h2.12v1.48h-2.12zM439.77,40.96h2.35v1.64h-2.35zM483.41,32.67h1.11v0.78h-1.11zM476.53,38.39h2.55v1.79h-2.55zM470.26,33.72h2.36v1.65h-2.36zM453.28,54.09h2.42v1.69h-2.42zM455.83,67.89h1.64v1.15h-1.64zM439.92,49.77h1.65v1.15h-1.65zM465.89,43.34h2.19v1.53h-2.19zM475.24,45.48h2.46v1.72h-2.46zM471.71,62.57h1.03v0.72h-1.03zM411.22,49.44h1.53v1.07h-1.53zM478.96,35.11h2.19v1.53h-2.19zM429.44,49.14h2.44v1.71h-2.44zM478.11,33.62h1.77v1.24h-1.77zM452.3,32.33h1.77v1.24h-1.77zM486.2,63.91h1.5v1.05h-1.5zM464.03,67.96h1.58v1.11h-1.58zM477.03,59.04h2.42v1.69h-2.42zM416.66,66.45h2.57v1.8h-2.57zM429.07,49.35h1.14v0.8h-1.14zM457.58,53.8h2.19v1.54h-2.19zM477.69,29.31h1.19v0.83h-1.19zM474.54,13.52h1.37v0.96h-1.37zM428.71,57.73h1.71v1.2h-1.71zM476.18,51.41h2.35v1.64h-2.35zM472.1,63.92h1.44v1.01h-1.44zM438.08,49.08h1.93v1.35h-1.93zM471.44,59.71h1.49v1.04h-1.49zM419.56,55.74h2.1v1.47h-2.1zM431.87,15.36h1.04v0.73h-1.04zM429.61,28.14h1.33v0.93h-1.33zM413.99,22.05h1.56v1.09h-1.56zM417.29,24.19h1.7v1.19h-1.7zM477,63.42h1.65v1.15h-1.65zM419.95,27.88h2.08v1.46h-2.08zM442.18,45.65h2.18v1.53h-2.18zM462.05,62.71h1.14v0.8h-1.14zM433.45,14.01h1.83v1.28h-1.83zM458.56,26.98h1.09v0.76h-1.09zM446.64,21.89h1.31v0.92h-1.31zM440.12,67.76h1.58v1.1h-1.58zM466.03,33.98h1.65v1.15h-1.65zM421.07,22.89h2.23v1.56h-2.23zM443.91,28.83h2.58v1.81h-2.58zM479.37,27.6h1.69v1.19h-1.69zM454.79,21.8h1.68v1.18h-1.68zM432.44,59.81h1.15v0.81h-1.15zM488.32,25.9h1.53v1.07h-1.53zM415.97,65.86h2.32v1.63h-2.32zM415.34,43.16h1.62v1.14h-1.62zM457.88,31.82h2.53v1.77h-2.53zM427.22,60.39h1.43v1h-1.43zM461.31,37.24h1.84v1.29h-1.84zM451.24,48.93h1.11v0.78h-1.11zM414.7,69.28h1.4v0.98h-1.4zM438.19,26.14h2.03v1.42h-2.03zM487.73,35.76h1.51v1.06h-1.51zM437.61,13.6h1.14v0.8h-1.14zM413.8,31.11h2.57v1.8h-2.57zM421.16,44.39h1.33v0.93h-1.33zM412.91,61.38h1.2v0.84h-1.2zM420.68,60.22h1.39v0.97h-1.39zM425.71,67.65h1.31v0.92h-1.31zM475.7,30.1h1.91v1.33h-1.91zM434.57,32.01h2.49v1.74h-2.49zM481.71,22.32h2.16v1.51h-2.16zM421.03,29.66h1.11v0.78h-1.11zM461.18,54.86h2.19v1.54h-2.19zM471.18,35.29h1.28v0.9h-1.28zM410.34,37.97h2.49v1.75h-2.49zM445.45,48.33h2.47v1.73h-2.47zM478.14,55.65h1.95v1.36h-1.95zM428.31,56.17h1.67v1.17h-1.67zM465.8,25.18h2.51v1.75h-2.51zM422.96,58.65h2.42v1.7h-2.42zM422.01,63.04h2.03v1.42h-2.03zM457.68,26.99h1.53v1.07h-1.53zM428.57,38.04h2.04v1.43h-2.04zM467.57,53.64h1.55v1.09h-1.55zM436.56,57.05h2.56v1.79h-2.56zM427.51,36.36h1.44v1.01h-1.44zM487,12.97h2.43v1.7h-2.43zM470.63,31.58h2.09v1.46h-2.09zM439.2,49.57h1.68v1.18h-1.68zM482.29,39h2.3v1.61h-2.3zM455.52,33.97h2.55v1.78h-2.55zM425.44,65.58h2.57v1.8h-2.57zM477.08,48.01h2v1.4h-2zM483.35,37.55h2.32v1.62h-2.32zM471.2,62.66h1.71v1.19h-1.71zM461.55,17.44h1.12v0.78h-1.12zM418.49,55.39h1.57v1.1h-1.57zM481.76,16.67h1.28v0.89h-1.28zM476.07,36.69h1.35v0.95h-1.35zM471.7,25.83h2.56v1.79h-2.56zM431.72,62.65h1.77v1.24h-1.77zM483.89,29.48h2.48v1.74h-2.48zM433.92,38.44h2.01v1.41h-2.01zM453.81,51.58h2.11v1.48h-2.11zM431.16,12.52h2.16v1.51h-2.16zM457.42,45.24h1.79v1.26h-1.79zM483.35,29.52h2.46v1.72h-2.46zM423.27,52.98h2.51v1.75h-2.51zM422.18,57.44h1.44v1.01h-1.44zM414.66,37.44h2.12v1.48h-2.12zM432.39,68.07h1v0.7h-1zM431.15,32.15h1.59v1.12h-1.59zM433.67,13.26h1.34v0.94h-1.34zM430.67,51.68h1.6v1.12h-1.6zM467.07,38.11h1.55v1.08h-1.55zM422.56,25.47h2.44v1.71h-2.44zM445.96,30.5h1.35v0.94h-1.35zM479.25,53.55h2.11v1.48h-2.11zM473.56,26.24h2.17v1.52h-2.17zM415.64,51.23h1.52v1.06h-1.52zM462.29,25.37h1.57v1.1h-1.57zM462.95,67.43h1.55v1.08h-1.55zM423.36,19.35h2.07v1.45h-2.07zM480.65,13h1.55v1.09h-1.55zM423.35,68.32h1.21v0.85h-1.21zM415.42,57.31h2.6v1.82h-2.6zM471.13,18.76h1.65v1.16h-1.65zM451.08,65.03h2.21v1.54h-2.21zM414.74,38.73h2.25v1.57h-2.25zM452.91,51.34h2.55v1.78h-2.55zM487.31,61.38h1.92v1.34h-1.92zM434.3,21.42h1.27v0.89h-1.27zM460.6,57.6h2.37v1.66h-2.37zM482.21,28.98h1.54v1.07h-1.54zM425.5,44.09h2.51v1.76h-2.51zM469.85,37.77h1.25v0.88h-1.25zM476.58,64.88h2.23v1.56h-2.23zM433.08,35.02h1.93v1.35h-1.93zM482.51,26.33h1.67v1.17h-1.67zM414.75,12.18h1.39v0.97h-1.39zM473.91,51.85h1.76v1.23h-1.76zM442.36,27.63h2.23v1.56h-2.23zM448.53,16.13h2v1.4h-2zM488.46,16.3h2.6v1.82h-2.6zM417.86,30.15h2.56v1.79h-2.56zM486.8,22.89h2.15v1.51h-2.15zM458.4,35.48h2.25v1.58h-2.25zM460.13,25.28h1.78v1.25h-1.78zM466.05,48.67h1.87v1.31h-1.87zM468.27,19.95h1.07v0.75h-1.07zM412.59,48.61h1.7v1.19h-1.7zM476.03,69.32h1.18v0.83h-1.18zM439.93,36.75h1.87v1.31h-1.87zM481.85,47.4h1.49v1.04h-1.49zM462.38,31.42h1.89v1.32h-1.89zM417.79,45.28h1.77v1.24h-1.77zM460.99,45.43h1.92v1.34h-1.92zM468.24,19.87h2.2v1.54h-2.2zM459.28,52.63h1.64v1.15h-1.64zM416.73,66.4h2.32v1.63h-2.32zM487.11,39.16h2.42v1.69h-2.42zM478.85,44.44h2.44v1.71h-2.44zM474.36,18.06h1.21v0.85h-1.21zM442.18,43.44h2.04v1.43h-2.04zM454.58,63.69h2.28v1.6h-2.28zM418.1,32.01h2.42v1.69h-2.42zM469.66,12.93h2v1.4h-2zM419.98,41.7h2.59v1.81h-2.59zM415.94,60.59h1.77v1.24h-1.77zM487.32,62.71h1.1v0.77h-1.1zM460.82,62.76h1.45v1.01h-1.45zM465.68,27h1.33v0.93h-1.33zM436.25,29.29h2.54v1.78h-2.54zM428.57,37.05h1.78v1.24h-1.78zM464.6,69.23h1.98v1.39h-1.98zM477.99,19.75h2.06v1.44h-2.06zM423.62,63.41h1.95v1.37h-1.95zM420.76,62.16h1.84v1.29h-1.84zM448.36,16.79h2.45v1.72h-2.45zM450.6,63.01h1.12v0.78h-1.12zM463.69,34.15h1.86v1.3h-1.86zM459.32,60.72h2.48v1.73h-2.48zM423.17,62.72h1.19v0.83h-1.19zM410.85,29.77h1.46v1.02h-1.46zM470.92,45.06h1.62v1.13h-1.62zM472.46,67.21h2.03v1.42h-2.03zM461.59,62.84h1.47v1.03h-1.47zM488.67,22.4h1.07v0.75h-1.07zM475.03,22.29h1.54v1.08h-1.54zM450.53,18.56h1.68v1.17h-1.68zM437.96,17.06h1.96v1.38h-1.96zM445.63,21.42h2.26v1.58h-2.26zM442.39,13.52h2.41v1.68h-2.41zM442.33,17.42h1.46v1.02h-1.46zM430.15,14.59h1.53v1.07h-1.53zM423.33,24.6h2.08v1.46h-2.08zM422.51,13.27h1.29v0.9h-1.29zM433.34,21.74h1.96v1.37h-1.96zM479.49,61.01h1.75v1.23h-1.75zM472.06,58.64h2.02v1.41h-2.02zM473.41,34.34h2.2v1.54h-2.2zM451.29,55.58h2.18v1.53h-2.18zM415.21,61.19h1.06v0.74h-1.06zM443.76,46.87h2.32v1.62h-2.32zM414.55,51.62h1.55v1.09h-1.55zM413.24,31.61h2.02v1.42h-2.02zM416.55,62.05h1.07v0.75h-1.07zM428.89,31.45h1.1v0.77h-1.1zM483.11,69.01h2.45v1.71h-2.45zM425.71,61.16h1.54v1.08h-1.54zM432.81,52.71h1.14v0.8h-1.14zM410.43,66.92h1.57v1.1h-1.57zM472.8,37.12h1.15v0.8h-1.15zM447.49,22.09h1.13v0.79h-1.13zM411.5,35.65h1.41v0.99h-1.41zM436.54,68.74h2.33v1.63h-2.33zM465.77,26.4h2.2v1.54h-2.2zM465.13,43.15h1.38v0.97h-1.38zM426.42,36.75h1.44v1.01h-1.44zM479.9,39.48h2.08v1.46h-2.08zM480.87,48.64h1.26v0.88h-1.26zM435.23,66.43h1.07v0.75h-1.07zM427.51,48.46h2.37v1.66h-2.37zM474.81,55.12h2.12v1.49h-2.12zM439.51,15.62h2.02v1.41h-2.02zM415.73,59.1h1.21v0.85h-1.21zM411.94,70.95h1.27v0.89h-1.27zM455.97,15.63h2.57v1.8h-2.57zM411.31,52.59h2.35v1.64h-2.35zM433.41,12.47h1.06v0.74h-1.06zM414.81,56.51h1.85v1.29h-1.85zM480.82,49.32h1.95v1.37h-1.95zM425.94,25.19h2.57v1.8h-2.57zM485.23,37.83h2.27v1.59h-2.27zM466.89,28.38h1.32v0.92h-1.32zM469.15,68.8h2.57v1.8h-2.57zM438.22,15.87h1.51v1.06h-1.51zM415.52,70.27h1.49v1.04h-1.49zM476.96,26.54h2.54v1.78h-2.54zM448.64,61.2h1.96v1.37h-1.96zM470.52,16.3h1.14v0.8h-1.14zM438.22,63.78h2.45v1.72h-2.45zM466.14,47.33h1.08v0.76h-1.08zM483.32,50.94h1.99v1.39h-1.99zM476.52,25.95h1.99v1.39h-1.99zM463.95,56.62h1.15v0.81h-1.15zM467.54,65.26h2.01v1.4h-2.01zM423.42,66.2h1.16v0.81h-1.16zM428.2,62.44h1.94v1.36h-1.94zM436.52,59.4h2.04v1.43h-2.04zM419.33,25.69h2.3v1.61h-2.3zM474.08,16.38h1.83v1.28h-1.83zM466.33,31.2h1.1v0.77h-1.1zM442.95,67.16h2.17v1.52h-2.17zM426.86,61.84h2.07v1.45h-2.07zM432.92,27.85h1.28v0.9h-1.28zM441.97,33.24h1.46v1.02h-1.46zM479.03,56.89h1.79v1.25h-1.79zM486.05,51.75h2.52v1.77h-2.52zM475.16,49.43h2.11v1.48h-2.11zM471.22,56.68h2.4v1.68h-2.4zM436.86,33.44h1.4v0.98h-1.4zM482.83,65.32h1.71v1.2h-1.71zM441.69,19.82h2.56v1.79h-2.56zM463.08,68.85h2.01v1.41h-2.01zM450.6,56.18h2.42v1.69h-2.42zM476.75,32.41h1.81v1.27h-1.81zM484.64,41.87h2.28v1.6h-2.28zM451.46,61.12h1.11v0.78h-1.11zM410.1,17.35h1.7v1.19h-1.7zM439.03,68.58h2.6v1.82h-2.6zM420.63,61.23h1.81v1.27h-1.81zM476.46,33.78h2.24v1.57h-2.24zM410.36,39.6h1.53v1.07h-1.53zM429.91,29.73h1.67v1.17h-1.67zM449.18,42.97h2.18v1.52h-2.18zM475.32,68.73h2.07v1.45h-2.07zM430.28,46.15h1.7v1.19h-1.7zM428.57,31.61h1.37v0.96h-1.37zM452.57,15.9h1.87v1.31h-1.87zM442.53,12.39h1.44v1.01h-1.44zM486.7,46.19h1.1v0.77h-1.1zM455.64,53.54h1.22v0.85h-1.22zM441.81,24.62h1.87v1.31h-1.87zM474.97,26.14h1.22v0.86h-1.22zM420.99,48.25h1.11v0.78h-1.11zM451.59,59.79h2.23v1.56h-2.23zM462.94,12.65h1.69v1.18h-1.69zM429.23,42.4h1.24v0.87h-1.24zM420.68,68.13h2.41v1.69h-2.41zM417.72,60.84h1.11v0.77h-1.11zM436.78,70.64h2.5v1.75h-2.5zM446.93,53.42h1.61v1.13h-1.61zM477.05,30.65h1.33v0.93h-1.33zM421.41,49.21h1.89v1.32h-1.89zM481.32,20.66h2.29v1.6h-2.29z" fill="#d4d5d6" opacity="0.85"/><path d="M484.56,56.07h1.12v0.78h-1.12zM422.12,17.18h1.33v0.93h-1.33zM469.96,20.55h1.45v1.01h-1.45zM413.51,52.02h1.1v0.77h-1.1zM472.65,48.15h1.19v0.83h-1.19zM465.17,32.6h1.52v1.07h-1.52zM453.97,28.03h1.42v0.99h-1.42zM472.12,63h1.85v1.29h-1.85zM454.89,63.47h1.14v0.8h-1.14zM487.72,14.66h1.9v1.33h-1.9zM472.54,35.02h1.79v1.25h-1.79zM485.65,21.68h1.65v1.15h-1.65zM410.35,51.2h1.06v0.74h-1.06zM462.75,13.59h1.4v0.98h-1.4zM478.48,30.08h1.97v1.38h-1.97zM447.24,22.74h1.94v1.36h-1.94zM422.28,47.05h1.94v1.36h-1.94zM484.31,44.78h1.21v0.85h-1.21zM449.54,29.23h1.31v0.92h-1.31zM435.08,23.91h1.04v0.73h-1.04zM469.31,12.76h1.57v1.1h-1.57zM439.01,50.35h1.58v1.11h-1.58zM447.84,57.87h1.57v1.1h-1.57zM480.98,46.53h1.88v1.31h-1.88zM478.26,53.7h1.33v0.93h-1.33zM448.44,16.66h1.73v1.21h-1.73zM461.05,60.28h1.08v0.76h-1.08zM420.15,50.12h1.73v1.21h-1.73zM415.82,13.81h1.32v0.93h-1.32zM436.82,15.07h1.1v0.77h-1.1zM426.11,12.83h1.15v0.8h-1.15zM412.02,33.83h1.75v1.22h-1.75zM462.25,47.66h1.47v1.03h-1.47zM424.81,14.85h1.19v0.83h-1.19zM484.83,60.02h1.57v1.1h-1.57zM458.45,55.97h1.82v1.28h-1.82zM429.08,59.34h1.65v1.15h-1.65zM431.96,28.97h1.17v0.82h-1.17zM453.24,69.15h1.79v1.25h-1.79zM423.15,19.07h1.28v0.9h-1.28zM422.99,20.4h1.73v1.21h-1.73zM434.86,45.37h1.32v0.92h-1.32zM487.78,46.94h1.14v0.8h-1.14zM471.41,29.09h1.46v1.02h-1.46zM432.7,40.89h1.31v0.92h-1.31zM435.33,21.3h1.96v1.37h-1.96zM426.38,28.68h1.41v0.99h-1.41zM419.31,25.52h1.41v0.99h-1.41zM456.12,43.64h1.37v0.96h-1.37zM463.45,55.99h1.27v0.89h-1.27zM428.93,48.9h1.41v0.99h-1.41zM475.59,12.57h1.54v1.08h-1.54zM437.54,24.53h1.87v1.31h-1.87zM427.14,58.53h1.85v1.3h-1.85zM486.43,18.86h1.16v0.81h-1.16zM416.64,30.91h1.91v1.33h-1.91zM460.85,21.14h1.11v0.77h-1.11zM469.22,48.77h1v0.7h-1zM456.4,23.21h1.29v0.91h-1.29zM417.97,70.49h1.46v1.02h-1.46zM458.74,24.05h1.38v0.96h-1.38zM461.11,56.06h1.91v1.33h-1.91zM429.56,26.15h1.4v0.98h-1.4zM434.36,60.35h1.37v0.96h-1.37zM439.51,41.65h1.56v1.09h-1.56zM437.91,12.52h1.74v1.21h-1.74zM419.06,62.4h1.25v0.87h-1.25zM430.19,43.58h1.91v1.34h-1.91zM440.07,40.35h1.41v0.99h-1.41zM418.86,29.01h1.92v1.34h-1.92zM484.21,27.04h1.92v1.34h-1.92zM411.25,54.4h1.03v0.72h-1.03zM443.66,36.35h1.43v1h-1.43zM484.35,32.78h1.02v0.71h-1.02zM418.72,56.21h1.13v0.79h-1.13zM414.64,23.53h1.98v1.38h-1.98zM445.13,20.74h1.66v1.16h-1.66zM439.83,44.62h2v1.4h-2zM465.23,43.56h2v1.4h-2zM449.95,38.72h1.85v1.3h-1.85zM485.69,54.45h1.37v0.96h-1.37zM441.81,12.52h1.24v0.87h-1.24zM471.38,40.85h1.86v1.3h-1.86zM462.94,45.4h1.81v1.26h-1.81zM449.33,51.37h1.49v1.04h-1.49zM437.85,57.14h1.07v0.75h-1.07zM487.2,68.69h1.83v1.28h-1.83zM446.93,38.55h1.4v0.98h-1.4zM446.28,25.08h1.8v1.26h-1.8zM479.6,41.54h1.85v1.3h-1.85zM433.04,62.71h1.97v1.38h-1.97zM462.96,68.81h1.73v1.21h-1.73zM464.78,39.91h1.06v0.74h-1.06zM419.9,60.84h1.18v0.83h-1.18zM464.22,21.45h1.76v1.23h-1.76zM485.5,48.48h1.04v0.73h-1.04zM468.22,40.08h1.87v1.31h-1.87zM421.77,28.56h1.92v1.34h-1.92zM476.14,65.64h1.52v1.06h-1.52zM463.28,67.04h1.66v1.16h-1.66zM416.91,21.14h1v0.7h-1zM418.8,13.61h1.38v0.97h-1.38zM458.72,62.81h1.41v0.99h-1.41zM422.71,65.63h1.92v1.34h-1.92zM487.22,13.39h1.59v1.11h-1.59zM459.81,43.52h1.19v0.83h-1.19zM482.74,43.66h1.04v0.73h-1.04zM437.35,54.91h1.2v0.84h-1.2zM471.34,24.39h1.43v1h-1.43zM433.1,19.53h1.88v1.32h-1.88zM436.9,56.34h1.89v1.32h-1.89zM432.34,12.33h1.53v1.07h-1.53zM428.6,63.56h1.16v0.82h-1.16zM466.99,13.51h1.27v0.89h-1.27zM425.55,62.27h1.6v1.12h-1.6zM462.11,16.86h1.31v0.92h-1.31zM480.5,48.18h1.76v1.23h-1.76zM449.64,24.11h1.91v1.34h-1.91zM430.85,22.03h1.65v1.15h-1.65zM416.82,57.11h1.71v1.2h-1.71zM440.27,42.39h1.49v1.04h-1.49zM415.9,16.7h1.35v0.95h-1.35zM410.52,22.95h1.37v0.96h-1.37zM459.55,42.42h1.17v0.82h-1.17zM469.99,58.87h1.66v1.16h-1.66zM464.35,26.95h1.84v1.29h-1.84zM456.22,22.47h1.68v1.18h-1.68zM459.56,45.55h1.47v1.03h-1.47zM470.58,55.07h1.59v1.11h-1.59zM415.3,25.69h1.98v1.39h-1.98zM441.8,49.34h1.13v0.79h-1.13zM455.14,47.92h1.76v1.23h-1.76zM486.54,38.91h1.31v0.92h-1.31zM422.62,31.72h1.44v1.01h-1.44zM486.17,42.16h1.68v1.17h-1.68zM467.95,12.81h1.23v0.86h-1.23zM452.68,15.38h1.15v0.81h-1.15zM469.45,51.77h1.14v0.8h-1.14zM419.32,61.75h1.47v1.03h-1.47zM434.97,54.43h1.67v1.17h-1.67zM488.55,18.11h1.77v1.24h-1.77zM446.35,26.64h1.5v1.05h-1.5zM411.62,19.35h1.11v0.78h-1.11zM464.69,53.79h1.24v0.87h-1.24zM434.27,57.58h1.39v0.97h-1.39zM437.54,67.79h1.54v1.08h-1.54zM452.52,48.02h1.04v0.73h-1.04zM441.52,58.53h1.65v1.16h-1.65zM480.32,30.32h1.48v1.03h-1.48zM428.54,22.94h1.09v0.76h-1.09zM425.71,21.67h1.44v1.01h-1.44zM442.47,57.08h1.78v1.24h-1.78zM452.72,50.74h1.47v1.03h-1.47zM434.52,41.71h1.63v1.14h-1.63zM485.44,60.18h1.07v0.75h-1.07zM460.56,17.36h1.62v1.14h-1.62zM477.09,53.25h1.12v0.78h-1.12zM443.47,23.51h1.66v1.16h-1.66zM466.13,55.48h1.36v0.95h-1.36zM457.24,24.28h1.93v1.35h-1.93zM484.13,13.79h1.56v1.09h-1.56zM466.72,25.63h1.03v0.72h-1.03zM410.17,53.7h1.01v0.71h-1.01zM440.52,59.11h1.05v0.74h-1.05zM465.83,37.44h1.39v0.97h-1.39zM448.23,32.77h1.86v1.3h-1.86zM462.93,34.87h1.12v0.78h-1.12zM449.84,70.94h1.89v1.32h-1.89zM415.37,33.01h1.47v1.03h-1.47zM442.03,18.6h1.19v0.83h-1.19zM452.26,54.54h1.72v1.2h-1.72zM463.09,51.75h1.01v0.71h-1.01zM427.23,31.86h1.26v0.88h-1.26zM440.67,35.56h1.34v0.94h-1.34zM410.82,63.04h1.96v1.37h-1.96zM458.64,28.09h1.45v1.02h-1.45zM482.06,47.38h1.7v1.19h-1.7zM465.3,69.87h1.66v1.16h-1.66zM418.55,41.82h1.92v1.35h-1.92zM420.23,15.01h1.05v0.74h-1.05zM415.53,21.66h1.77v1.24h-1.77zM457.36,55.17h1.56v1.09h-1.56zM437.96,58.41h1.17v0.82h-1.17zM438.43,36.5h1.68v1.18h-1.68zM470.12,45.44h1.61v1.13h-1.61zM432.2,47h1.84v1.29h-1.84zM444.7,56.35h1.51v1.06h-1.51zM450.51,47.87h1.14v0.8h-1.14zM427.01,22.35h1.54v1.07h-1.54zM462.86,53.74h1.21v0.85h-1.21zM436.36,20.6h1.65v1.16h-1.65zM443.22,28.1h1.22v0.86h-1.22zM484.98,40.42h1.99v1.39h-1.99zM435.38,24.72h1.72v1.2h-1.72zM482.06,21.67h1.86v1.3h-1.86zM456.41,65.35h1.95v1.36h-1.95zM443.72,67.52h1.18v0.83h-1.18zM445.06,38.15h1.25v0.87h-1.25zM448.23,56.41h1.11v0.78h-1.11zM448,43.01h1.2v0.84h-1.2zM460.72,26.91h1.57v1.1h-1.57zM455.16,56.18h1.93v1.35h-1.93zM483.16,41.62h1.26v0.88h-1.26zM429.14,58.4h1.76v1.23h-1.76zM472.73,61.18h1.57v1.1h-1.57zM480.9,50.77h1.63v1.14h-1.63zM476.13,50.47h1.77v1.24h-1.77zM483.46,35.33h1.75v1.23h-1.75zM433.58,40.7h1.87v1.31h-1.87zM486.91,67.91h1.76v1.23h-1.76zM477.02,64.19h1.61v1.13h-1.61zM429.24,13.05h1.76v1.23h-1.76zM470.06,55.13h1.58v1.11h-1.58zM461.97,54.39h1.53v1.07h-1.53zM462.03,25.23h1.53v1.07h-1.53zM459.66,45.55h1.26v0.88h-1.26zM420.01,50.62h1.11v0.78h-1.11zM472.75,22.74h1.77v1.24h-1.77zM438.1,65.18h1.23v0.86h-1.23zM422.45,51.83h1.77v1.24h-1.77zM437.61,39.85h1.66v1.16h-1.66zM433.32,34.95h1.57v1.1h-1.57zM433.93,20.61h1.91v1.34h-1.91zM419.69,70.23h1.84v1.29h-1.84zM445.31,62.78h1.06v0.75h-1.06zM454.44,32.86h1.3v0.91h-1.3zM480.69,14.26h1.86v1.3h-1.86zM416.22,51.97h1.29v0.9h-1.29zM451.63,66.59h1.8v1.26h-1.8zM417.83,30.01h1.49v1.04h-1.49zM466.63,12.33h1.86v1.3h-1.86zM476.51,68.42h1.2v0.84h-1.2zM426.85,61.14h1.51v1.06h-1.51zM429.37,13h1.22v0.85h-1.22zM463.33,55.24h1.35v0.95h-1.35zM482.49,42.07h1.52v1.06h-1.52zM441.18,35.8h1.36v0.95h-1.36zM475.15,37.97h1.23v0.86h-1.23zM444.39,66.61h1.64v1.15h-1.64zM418.3,36.73h1.47v1.03h-1.47z" fill="#b0a88e" opacity="0.8"/><path d="M411.1,68.72h1.9v1.33h-1.9zM418.02,44.58h1.18v0.82h-1.18zM426.73,28.18h0.86v0.6h-0.86zM464.37,33.63h1.64v1.15h-1.64zM474.41,45.79h1.21v0.85h-1.21zM421.06,50.44h1.61v1.13h-1.61zM471.72,20.12h0.86v0.6h-0.86zM479.45,47.78h0.91v0.64h-0.91zM466.01,15.32h1.56v1.09h-1.56zM453.83,54.2h0.91v0.64h-0.91zM481.78,67.48h1.98v1.39h-1.98zM470.51,30.39h1.97v1.38h-1.97zM458.53,54.39h1.59v1.12h-1.59zM426.33,62.33h1.58v1.1h-1.58zM427.45,34.3h0.97v0.68h-0.97zM444.19,70.38h1.26v0.88h-1.26zM441.24,59.38h0.9v0.63h-0.9zM419.46,56h0.96v0.67h-0.96zM458.3,60.19h1.48v1.03h-1.48zM416.33,24.18h1.45v1.01h-1.45zM485.38,50.58h1.64v1.15h-1.64zM457.04,31.23h1.53v1.07h-1.53zM410.76,36.44h1.77v1.24h-1.77zM426.15,50.26h1.66v1.17h-1.66zM422.36,62.61h1.09v0.76h-1.09zM486.05,32.33h1.53v1.07h-1.53zM484.94,60.38h1.38v0.97h-1.38zM425.36,48.27h1.51v1.05h-1.51zM415.05,34.57h1.9v1.33h-1.9zM451.53,22.68h1.57v1.1h-1.57zM445.86,65.91h1.39v0.97h-1.39zM412.06,21.52h1.01v0.71h-1.01zM485.15,33.2h1.22v0.85h-1.22zM487.11,24.16h1.55v1.08h-1.55zM484.87,65.69h0.99v0.69h-0.99zM447.21,26.87h1.64v1.15h-1.64zM429.44,22.44h1.13v0.79h-1.13zM420.33,54.27h1.14v0.79h-1.14zM441.6,28.24h1.26v0.88h-1.26zM434.12,32.86h1.65v1.16h-1.65zM423.73,52.51h1.22v0.85h-1.22zM417.39,19.07h1.88v1.32h-1.88zM413.31,28.3h1.84v1.29h-1.84zM416.28,24.45h1.12v0.79h-1.12zM476.03,18.83h1.93v1.35h-1.93zM419.47,45.37h1.73v1.21h-1.73zM454.13,41.94h1.33v0.93h-1.33zM429.96,70.56h1.28v0.9h-1.28zM460.52,46.37h1.95v1.37h-1.95zM429.28,21.14h1.88v1.32h-1.88zM450.21,49.83h1.55v1.09h-1.55zM471.81,61.43h1.64v1.15h-1.64zM410.39,61.4h0.85v0.6h-0.85zM477.76,12.06h1.73v1.21h-1.73zM460.46,13.53h1.7v1.19h-1.7zM455.78,19.14h1.85v1.3h-1.85zM456.7,39.3h1.93v1.35h-1.93zM426.05,22.4h1.87v1.31h-1.87zM422.67,60.24h1.05v0.74h-1.05zM474.3,36.08h1.54v1.08h-1.54zM457.97,35.29h1.42v1h-1.42zM461.3,20.05h1.9v1.33h-1.9zM475.04,24.28h1.07v0.75h-1.07zM441.17,57.53h1.42v0.99h-1.42zM434.88,57.34h1.03v0.72h-1.03zM465.97,56.46h0.92v0.65h-0.92zM455.03,47.04h1.97v1.38h-1.97zM433.61,39.14h1.92v1.35h-1.92zM420.31,64.93h1.24v0.87h-1.24zM437.14,70.71h1.27v0.89h-1.27zM429.53,24.23h1.63v1.14h-1.63zM460.23,26.1h1.39v0.98h-1.39zM432.64,61.4h1.23v0.86h-1.23zM458.64,65.9h1.09v0.76h-1.09zM485.23,40.64h1.57v1.1h-1.57zM431.49,52.97h1.67v1.17h-1.67zM456.79,62.89h1.37v0.96h-1.37zM411.19,65.89h1.48v1.04h-1.48zM458.58,47.32h0.85v0.59h-0.85zM432.72,17.3h1.58v1.11h-1.58zM477.52,50.97h1.78v1.24h-1.78zM436.28,13.86h1.29v0.9h-1.29zM423.33,30.01h1.09v0.76h-1.09zM424.27,52.58h1.52v1.06h-1.52zM475,70.07h1.09v0.76h-1.09zM484.11,57.29h1.48v1.03h-1.48zM486.84,42.23h0.83v0.58h-0.83zM419.87,30.46h1.64v1.14h-1.64zM454.74,52.31h0.82v0.58h-0.82zM429.59,44.73h1.59v1.11h-1.59zM444.12,24.87h1.17v0.82h-1.17zM470.11,54.34h1.1v0.77h-1.1zM485.1,14.59h1.08v0.76h-1.08zM444.62,59.46h1.48v1.03h-1.48zM463.37,68.13h1.24v0.87h-1.24zM424.33,36.16h1.48v1.03h-1.48zM420.62,14.28h1.67v1.17h-1.67zM488.11,66.95h1.25v0.88h-1.25zM445.88,60.91h1.98v1.39h-1.98zM438.14,68.16h1.64v1.15h-1.64zM421.63,38.57h0.8v0.56h-0.8zM442.19,42.86h1.76v1.23h-1.76zM436.12,50.32h1.6v1.12h-1.6zM451.4,48.18h1.35v0.95h-1.35zM458.23,39.18h1.89v1.33h-1.89zM418.93,62.97h1.69v1.19h-1.69zM410.89,54.42h1.24v0.86h-1.24zM450.06,42.54h1.68v1.18h-1.68zM448.42,49.51h1.06v0.74h-1.06zM415.59,51.43h1.99v1.39h-1.99zM416.13,65.73h1.26v0.88h-1.26zM461.61,27.7h1.63v1.14h-1.63zM444.44,58.9h1.13v0.79h-1.13zM436.3,48.9h0.93v0.65h-0.93zM487.04,47.83h1.97v1.38h-1.97zM424.07,53.83h1.04v0.73h-1.04zM416.56,38.14h1.37v0.96h-1.37zM454.09,39.52h1.03v0.72h-1.03zM463.89,27.7h1.15v0.8h-1.15zM471.72,52.23h1.67v1.17h-1.67zM482.82,62.3h1.06v0.74h-1.06zM487.11,42.68h1.47v1.03h-1.47zM432,34.86h1.47v1.03h-1.47zM412.65,54.49h1.22v0.85h-1.22zM464.67,55.19h1.54v1.08h-1.54zM415.9,45.22h1.23v0.86h-1.23zM466.46,53.96h1.4v0.98h-1.4zM467.78,20.46h1.78v1.25h-1.78zM486.57,65.14h1.77v1.24h-1.77zM442.01,67.02h1.47v1.03h-1.47zM427,44.01h1.82v1.27h-1.82zM463.57,61.15h0.84v0.59h-0.84zM486.62,66.44h1.4v0.98h-1.4zM482.94,22.73h1.24v0.87h-1.24zM423.36,51.52h1.9v1.33h-1.9zM483.58,16.72h1.72v1.21h-1.72zM454.15,25.03h1.87v1.31h-1.87zM451.77,14.48h1.25v0.88h-1.25zM463.91,62.2h1.04v0.73h-1.04zM456.76,17.11h1.89v1.33h-1.89zM410.77,69.28h1.48v1.03h-1.48zM469.41,51.48h1.41v0.98h-1.41zM444.62,24.27h1.14v0.8h-1.14zM417.44,27.82h1.58v1.11h-1.58zM453.58,45.48h1.43v1h-1.43zM484.71,62.16h1.12v0.78h-1.12zM453.99,69.16h1.12v0.78h-1.12zM465.4,50.21h1.6v1.12h-1.6zM453.95,55.7h1.25v0.88h-1.25zM484.02,45.46h1.21v0.84h-1.21zM460.47,52.44h1.9v1.33h-1.9zM460.24,42.83h1.22v0.86h-1.22zM443.62,28.9h1.54v1.08h-1.54zM478.04,46.97h1.04v0.73h-1.04zM412.87,63.81h1.15v0.81h-1.15zM464.42,67.78h1.93v1.35h-1.93zM453.83,65.88h1.28v0.9h-1.28zM484.31,52.05h0.9v0.63h-0.9zM474.16,21.48h2v1.4h-2zM413.9,56.66h0.98v0.69h-0.98zM452.67,33.96h1.85v1.3h-1.85zM431.64,54.48h1.93v1.35h-1.93zM415.07,54.13h0.9v0.63h-0.9zM471.53,62.56h0.97v0.68h-0.97zM479.85,37.85h1.17v0.82h-1.17zM486.28,34.67h1.05v0.74h-1.05zM436.05,65.38h1.98v1.39h-1.98zM445.95,41.13h1.52v1.06h-1.52zM476.33,12.54h1.75v1.23h-1.75zM486.83,35.92h1.33v0.93h-1.33zM485.66,36.01h1.25v0.88h-1.25zM477.88,39.92h1.58v1.1h-1.58zM432.62,52.12h1.24v0.87h-1.24zM471.9,41.06h1.9v1.33h-1.9zM453.25,62.59h1.33v0.93h-1.33zM462.87,27.76h1.5v1.05h-1.5zM462.38,23.27h1.45v1.02h-1.45zM482.81,23.9h1.39v0.97h-1.39zM476.15,37.14h0.84v0.59h-0.84zM451.51,39.27h1.91v1.34h-1.91zM462.45,57.81h1.24v0.87h-1.24zM480.81,60.88h0.91v0.64h-0.91zM462.2,65.37h1.58v1.11h-1.58zM486.72,27.4h1.51v1.05h-1.51zM452.14,29.42h1.74v1.22h-1.74zM444.07,50.32h1.74v1.22h-1.74zM467.45,17.92h0.87v0.61h-0.87zM474.8,50.37h0.98v0.68h-0.98zM420.27,41.35h1.01v0.71h-1.01zM483.52,25.21h1.93v1.35h-1.93zM466.55,44.8h1.61v1.12h-1.61zM464.67,28.83h1.39v0.97h-1.39zM415.24,14.83h1.93v1.35h-1.93zM477.19,56.46h0.92v0.65h-0.92zM459.28,54.2h1.32v0.92h-1.32zM439.86,54.85h0.81v0.57h-0.81zM447.18,27.13h1.33v0.93h-1.33zM453.65,36.81h1.85v1.3h-1.85zM479.67,56.81h1.75v1.23h-1.75zM449.55,27.99h1.78v1.25h-1.78zM419.21,47.06h1.56v1.09h-1.56zM418.62,24.05h1.61v1.12h-1.61zM477.75,35.06h1.44v1.01h-1.44zM465.95,46.32h1.36v0.95h-1.36zM460.41,53.89h1.76v1.23h-1.76zM454.32,50.99h1.03v0.72h-1.03zM422.76,59.78h1.07v0.75h-1.07zM444.52,64.21h0.98v0.68h-0.98zM463.62,26.66h1.55v1.09h-1.55zM474.51,60.41h1.73v1.21h-1.73zM450.91,44.07h1.01v0.7h-1.01zM419.22,56.13h0.86v0.6h-0.86zM483.69,22.96h1.66v1.16h-1.66zM445.36,48.15h1.71v1.2h-1.71zM433.39,60.69h1.71v1.19h-1.71zM455.84,45.88h1.26v0.88h-1.26zM486.56,34.87h1.09v0.76h-1.09zM454.1,66.34h1.91v1.34h-1.91zM455.67,35.14h1.7v1.19h-1.7zM454.16,60.54h1.8v1.26h-1.8zM465.48,69.4h1.58v1.1h-1.58zM487.01,50.46h1.06v0.74h-1.06zM459.58,57.3h1.31v0.92h-1.31zM423.25,32.75h1.74v1.22h-1.74zM426.41,12.67h1.85v1.3h-1.85zM486.77,63.27h1.76v1.23h-1.76zM467.64,44.53h1.58v1.11h-1.58zM468.96,31.39h1.05v0.73h-1.05zM464.82,47.6h1.99v1.39h-1.99zM442.75,36.43h0.95v0.66h-0.95zM411.18,20.22h1.51v1.06h-1.51zM486.14,18.68h0.99v0.69h-0.99zM463.87,29.82h0.85v0.6h-0.85zM480.13,20.79h1.32v0.93h-1.32zM469.61,58.02h1.95v1.36h-1.95zM456.81,20.73h0.9v0.63h-0.9zM460.8,43.59h1.1v0.77h-1.1zM423.03,32.67h1.15v0.8h-1.15zM438.01,32.73h1.7v1.19h-1.7zM446.47,62.02h1.4v0.98h-1.4zM432.95,66.53h1.58v1.11h-1.58zM476.6,25.74h1.97v1.38h-1.97zM460.17,34.11h1.1v0.77h-1.1zM417.81,13.94h1.04v0.72h-1.04zM434.48,43.31h1.28v0.89h-1.28zM413.59,20.52h0.82v0.58h-0.82zM413.19,29.55h1.57v1.1h-1.57zM422.11,64.13h1.98v1.39h-1.98zM458.59,14.85h1.02v0.71h-1.02zM450.37,67.16h1.98v1.38h-1.98zM468.21,64.53h0.92v0.64h-0.92zM450.07,40.22h1.06v0.74h-1.06zM454.56,45.21h1.97v1.38h-1.97zM415.29,29.65h1.01v0.7h-1.01zM427.62,30.78h1.24v0.87h-1.24zM485.64,31.38h1.38v0.97h-1.38zM423.1,25.01h1.06v0.74h-1.06zM454.94,29.75h1.13v0.79h-1.13zM451.37,12.97h1.84v1.29h-1.84zM414.06,36.27h1.99v1.39h-1.99zM423.27,14.66h1.38v0.97h-1.38zM459.82,34.56h1.06v0.74h-1.06zM464.59,46.8h1.22v0.85h-1.22zM458.64,61.56h1.42v0.99h-1.42zM440.64,48.33h1.41v0.98h-1.41zM417.8,65.29h0.95v0.66h-0.95zM468.67,37.56h1.74v1.22h-1.74zM451.32,60.42h1.36v0.95h-1.36zM429.53,57.45h1.79v1.26h-1.79zM449.7,66.82h1.65v1.15h-1.65zM483.68,23.53h1.93v1.35h-1.93zM470.64,67.62h1.22v0.85h-1.22zM453.92,64.76h1.61v1.12h-1.61zM432.83,29.06h1.94v1.35h-1.94zM463.04,15.12h1.11v0.78h-1.11zM454,23.18h1.36v0.95h-1.36zM462.75,16.97h1.1v0.77h-1.1zM479.58,14.41h0.93v0.65h-0.93zM474.78,51.91h1.37v0.96h-1.37zM477.87,24.3h0.81v0.56h-0.81zM474.17,49.62h1.2v0.84h-1.2zM455.77,16.8h1.18v0.82h-1.18zM454.91,61.83h1.18v0.83h-1.18zM414.81,17.2h1.17v0.82h-1.17zM459.47,53.61h1.63v1.14h-1.63zM479.12,52.23h1.6v1.12h-1.6zM456.93,51.33h1.68v1.17h-1.68zM487.11,22.6h1.57v1.1h-1.57zM419.82,24.16h1.91v1.34h-1.91zM441.98,45.46h1.05v0.74h-1.05zM450.29,13.44h1.5v1.05h-1.5zM485.38,52.55h1.6v1.12h-1.6zM453.84,30.9h1.73v1.21h-1.73zM440.69,31.86h1.46v1.02h-1.46zM487.01,55.31h1.61v1.13h-1.61zM420.12,59.68h1.31v0.92h-1.31zM459.65,45.09h1.74v1.22h-1.74zM412.53,17.76h1.14v0.8h-1.14zM426,52.21h0.94v0.66h-0.94zM417.3,43.26h0.88v0.62h-0.88zM472.74,31.45h1.16v0.81h-1.16zM457.18,69.59h1.14v0.8h-1.14zM427.85,33.73h1.74v1.21h-1.74zM483.74,21.1h0.84v0.59h-0.84zM434.16,30.92h1.7v1.19h-1.7zM463.77,56.09h1.27v0.89h-1.27zM443.85,67.57h0.86v0.6h-0.86zM411.69,13h1.78v1.25h-1.78zM450.91,53h1.58v1.11h-1.58zM474.22,43.26h1.19v0.84h-1.19zM418.85,36.25h1.03v0.72h-1.03zM483.18,57.03h1.14v0.8h-1.14zM450.4,39.7h1.53v1.07h-1.53zM484.81,28.26h1.54v1.08h-1.54zM449.85,68.32h1.06v0.74h-1.06zM461.18,17.36h1.45v1.02h-1.45zM485.82,54.44h0.84v0.59h-0.84zM487.73,43.85h1.5v1.05h-1.5zM484.69,46.5h1.06v0.75h-1.06zM443.91,56.2h1.28v0.89h-1.28zM423.31,34.96h0.92v0.65h-0.92zM417.9,19.17h1.41v0.99h-1.41zM435.39,22.61h1.69v1.18h-1.69zM458.32,60.37h0.99v0.7h-0.99zM459,27.53h1.39v0.98h-1.39zM445.25,46.42h1.48v1.04h-1.48zM482.55,48.85h1.22v0.86h-1.22zM472.76,21.52h1.73v1.21h-1.73zM455.58,27.35h1.7v1.19h-1.7zM419.02,14.1h1.13v0.79h-1.13zM449.88,49.22h1.18v0.82h-1.18zM455.72,69.85h2v1.4h-2zM466.95,29.83h1.37v0.96h-1.37zM473.83,64.34h1.94v1.36h-1.94zM440.63,31.94h1.2v0.84h-1.2zM472.02,68.48h1.48v1.03h-1.48zM445.01,51.31h1.31v0.91h-1.31zM455.03,23.09h0.92v0.64h-0.92zM442.04,27.83h0.98v0.69h-0.98zM486.23,53.09h1.27v0.89h-1.27zM488.34,18.31h1.22v0.85h-1.22zM479.83,69.12h1.75v1.23h-1.75zM424.71,45.42h0.89v0.62h-0.89zM415.01,62.93h0.8v0.56h-0.8zM417.66,18.24h1.65v1.16h-1.65zM459.65,24.74h1.29v0.9h-1.29zM485.17,24.42h0.88v0.62h-0.88zM461.09,18.37h1.47v1.03h-1.47zM430.14,13.92h1.59v1.11h-1.59zM469.39,30.54h0.99v0.69h-0.99zM487.15,26.44h1.1v0.77h-1.1zM438.9,26.16h1.1v0.77h-1.1zM483.03,16.84h1.8v1.26h-1.8zM452.24,14.08h0.98v0.69h-0.98zM461.81,45.04h1.09v0.76h-1.09zM433.01,66.71h1.68v1.18h-1.68zM462.29,66.52h1.08v0.75h-1.08zM436.04,61.46h1.33v0.93h-1.33zM445.28,59.74h2v1.4h-2zM480.12,57.5h1.34v0.94h-1.34zM465.78,25.31h1.1v0.77h-1.1zM426.14,52.22h1.94v1.36h-1.94zM469.69,27.73h1.59v1.11h-1.59zM437.7,60.62h1.38v0.97h-1.38zM429.72,29.15h0.9v0.63h-0.9zM438.54,32.02h1.35v0.94h-1.35zM461.94,66.78h1.78v1.25h-1.78zM455.32,33.33h1v0.7h-1zM456.7,15.77h0.86v0.6h-0.86zM460.74,21.69h1.82v1.27h-1.82zM462.91,42.94h1.92v1.35h-1.92zM420.41,30.29h1.41v0.99h-1.41zM486.26,16.65h1.52v1.07h-1.52zM482.64,20.54h1.64v1.15h-1.64zM464.56,33.26h1.44v1.01h-1.44zM483.89,39.61h1.35v0.94h-1.35zM454.57,13.89h1.77v1.24h-1.77zM414.05,69.75h1.96v1.38h-1.96zM474.66,64.83h1.54v1.08h-1.54zM434.15,47.62h1.61v1.13h-1.61zM421.19,57.71h1.16v0.82h-1.16zM450.49,27.73h1.14v0.8h-1.14zM479.25,57.44h0.88v0.61h-0.88zM470.92,66.57h1.64v1.15h-1.64zM464.69,27.58h1.64v1.15h-1.64zM439.95,66.45h1.65v1.15h-1.65zM435.49,64.13h1.73v1.21h-1.73zM425.88,24.67h0.82v0.57h-0.82zM470.83,17.07h1.13v0.79h-1.13zM468.17,30.04h1.14v0.8h-1.14zM415.24,14.97h1.49v1.04h-1.49zM420.95,68.86h0.83v0.58h-0.83zM434.95,22.85h1.88v1.32h-1.88zM469.31,18.57h0.87v0.61h-0.87zM416.56,55.63h1.7v1.19h-1.7zM459.99,40.86h1.36v0.95h-1.36zM457.05,18.4h1.75v1.23h-1.75zM471.43,52.17h1.08v0.76h-1.08zM426.96,69.83h1.94v1.36h-1.94zM469.1,58.33h1.35v0.94h-1.35zM479.29,52.74h1.33v0.93h-1.33zM463.83,16.7h1.27v0.89h-1.27zM476.66,40.31h1.47v1.03h-1.47zM454.29,67.64h1.04v0.73h-1.04zM463.83,38.5h1.08v0.76h-1.08zM413.83,48.01h1.02v0.71h-1.02zM456.02,37.37h1.29v0.9h-1.29zM480.15,17.31h1.47v1.03h-1.47zM442.74,20.93h1.27v0.89h-1.27zM478.48,23.69h1.62v1.13h-1.62zM431.21,42.64h1.46v1.02h-1.46zM415.65,59.68h1.25v0.88h-1.25zM426.57,24.26h1.98v1.39h-1.98zM484.5,39.68h1.12v0.79h-1.12zM465.94,15.12h1.83v1.28h-1.83zM410.45,14.92h1.2v0.84h-1.2zM446.04,12.31h1.14v0.8h-1.14zM487.72,57.66h0.87v0.61h-0.87zM479.26,39.48h1.99v1.39h-1.99zM435.36,30.26h1.61v1.13h-1.61zM448.56,28.31h1.43v1h-1.43zM460.33,30.44h1.79v1.25h-1.79zM469.15,56.43h1.59v1.11h-1.59zM428.18,53.65h1.01v0.71h-1.01zM421.21,41.72h1.01v0.7h-1.01zM420.07,46.94h1.97v1.38h-1.97zM414.39,38.21h0.91v0.64h-0.91zM452.56,45.9h1.39v0.97h-1.39zM413.09,53.35h1.41v0.99h-1.41zM455.29,51.42h1.89v1.32h-1.89zM444.33,65.87h1.01v0.71h-1.01zM445.85,22.44h1.25v0.87h-1.25zM481.37,69.53h1.37v0.96h-1.37zM431.85,31.04h1.88v1.32h-1.88zM444.64,23.71h1.8v1.26h-1.8zM450.29,37.2h1.88v1.32h-1.88zM468.95,12.84h1.96v1.37h-1.96zM445.92,22.62h1.89v1.32h-1.89zM443.15,52.39h1.7v1.19h-1.7zM425.37,70.03h1.48v1.03h-1.48zM414.5,43.67h0.82v0.58h-0.82zM487.36,51.3h1.26v0.88h-1.26zM473.13,58.85h1.64v1.15h-1.64zM428.58,17.5h1.83v1.28h-1.83zM480.18,32.39h1.26v0.88h-1.26zM441.85,28.33h1.93v1.35h-1.93zM451.99,53.86h1.53v1.07h-1.53zM417.08,16.26h0.98v0.68h-0.98zM449.25,49.04h1.99v1.4h-1.99zM481.15,55.6h1.26v0.88h-1.26zM437.23,53.13h1.21v0.85h-1.21zM470.48,54.98h0.94v0.66h-0.94zM473.51,17.51h1.18v0.83h-1.18zM487.03,50.42h1.83v1.28h-1.83zM483.21,27.62h1.75v1.23h-1.75zM439.41,15.82h0.93v0.65h-0.93zM419.97,49.25h1.57v1.1h-1.57zM476.95,29.41h1.72v1.2h-1.72zM431.07,30.51h1.59v1.11h-1.59zM441.01,70.88h1.18v0.83h-1.18z" fill="#7c88a8" opacity="0.9"/><path d="M428.76,63.87h1.5v1.05h-1.5zM422.87,31.92h1.21v0.85h-1.21zM415.24,33.88h1.42v0.99h-1.42zM470.7,20.78h1.04v0.73h-1.04zM431.2,52.39h0.91v0.63h-0.91zM487.89,18.84h1.22v0.86h-1.22zM465.56,67.95h1.29v0.9h-1.29zM477.58,43.33h0.98v0.68h-0.98zM443.26,47.81h1.22v0.86h-1.22zM471.82,43.83h1.11v0.77h-1.11zM450.7,42.66h0.81v0.57h-0.81zM435.93,45.8h1.37v0.96h-1.37zM443.78,56.03h1.2v0.84h-1.2zM439.19,26.3h1.44v1.01h-1.44zM482.84,55.03h0.98v0.68h-0.98zM465.77,41.8h1.54v1.08h-1.54zM410.48,57.61h1.17v0.82h-1.17zM477.6,47.74h0.81v0.56h-0.81zM464.65,43.46h0.99v0.69h-0.99zM419.63,35.5h1.25v0.87h-1.25zM447.79,13.01h0.92v0.64h-0.92zM463.78,44.2h1.39v0.98h-1.39zM442.75,27.16h1.44v1.01h-1.44zM427.23,15.57h1.09v0.77h-1.09zM445.65,24.34h1.56v1.1h-1.56zM428.28,19.2h1.33v0.93h-1.33zM421.31,28.51h1.13v0.79h-1.13zM431.64,50.57h0.91v0.64h-0.91zM460.89,18.83h1.26v0.88h-1.26zM487.32,58.43h1.56v1.09h-1.56zM453.14,21.35h1.1v0.77h-1.1zM471.33,19.79h1.33v0.93h-1.33zM435.47,66.14h1.08v0.76h-1.08zM435.48,28.06h1.23v0.86h-1.23zM485.26,43.88h1.39v0.98h-1.39zM451.12,16.88h1.27v0.89h-1.27zM456.95,47.18h1.04v0.73h-1.04zM431.08,31.43h0.82v0.58h-0.82zM422.73,28.93h1.21v0.85h-1.21zM482.01,53.35h1.21v0.85h-1.21zM466.62,38.22h0.84v0.59h-0.84zM464.23,53.62h1.32v0.93h-1.32zM477.34,58.12h1.46v1.02h-1.46zM413.63,70.99h1.27v0.89h-1.27zM456.84,48.18h1.02v0.71h-1.02zM433.94,63.74h1.28v0.9h-1.28zM485.88,24.29h1.27v0.89h-1.27zM457.4,14.18h1.3v0.91h-1.3zM440.36,37.37h0.95v0.66h-0.95zM456.97,51.73h1.51v1.06h-1.51zM476.5,69.83h1.58v1.11h-1.58zM465.35,28.56h1.23v0.86h-1.23zM416.6,45.41h1.04v0.73h-1.04zM452.38,56.25h0.85v0.59h-0.85zM479.21,14.24h1.19v0.83h-1.19zM427.26,14.3h1.18v0.83h-1.18zM430.7,16.72h1.46v1.02h-1.46zM429.4,67.35h1.29v0.9h-1.29zM438.06,15.57h1.48v1.04h-1.48zM418.59,57.8h1.22v0.86h-1.22zM445.99,16.75h1.14v0.8h-1.14zM411.3,57.03h1.37v0.96h-1.37zM420.74,42.06h0.94v0.66h-0.94zM466.25,23.15h0.94v0.66h-0.94zM432.46,69.32h1.45v1.02h-1.45zM441.86,58.87h1.09v0.76h-1.09zM424.82,64.93h0.83v0.58h-0.83zM472.66,68.63h0.87v0.61h-0.87zM477.88,58.03h0.83v0.58h-0.83zM445.09,27.35h1.11v0.78h-1.11zM440.16,35.28h0.81v0.57h-0.81zM431.43,29.11h1.32v0.92h-1.32zM464.98,56.28h1.31v0.92h-1.31zM480.64,44.81h1.05v0.74h-1.05zM413.17,54.88h1.25v0.87h-1.25zM422.91,42.18h1.56v1.09h-1.56zM457.83,30.24h1.45v1.01h-1.45zM441.19,12.88h0.86v0.6h-0.86zM485.96,17.53h1.43v1h-1.43zM412.42,37h1.03v0.72h-1.03zM437.18,17.36h1.12v0.79h-1.12zM469.98,42.96h0.91v0.63h-0.91zM473.64,63.41h1.16v0.82h-1.16zM438.38,13.05h0.86v0.6h-0.86zM439.65,18.69h1.58v1.1h-1.58zM460.89,30.46h1.27v0.89h-1.27zM423.29,66.12h1.2v0.84h-1.2zM465.27,22.74h1.18v0.83h-1.18zM466.39,34.86h0.85v0.6h-0.85zM447.06,60.62h1.17v0.82h-1.17zM487.4,45.02h1.51v1.05h-1.51zM412.57,49.25h1.21v0.85h-1.21zM438.27,65.22h0.87v0.61h-0.87zM448.4,30.08h1.57v1.1h-1.57zM471.75,23.84h0.9v0.63h-0.9zM411.88,22.59h1.54v1.08h-1.54zM478.95,59.2h1.12v0.78h-1.12zM448.06,45.94h1.45v1.01h-1.45zM410.34,22.7h1.27v0.89h-1.27zM421.17,67.35h0.84v0.58h-0.84zM486.92,24.66h0.96v0.67h-0.96zM443.53,49.63h1.58v1.11h-1.58zM447.63,64.99h1.51v1.06h-1.51zM487.77,33.23h1.18v0.83h-1.18zM411.71,34.64h1.08v0.76h-1.08zM419.83,61.11h1.02v0.72h-1.02zM420.33,18.81h0.82v0.57h-0.82zM469.66,43.39h1.22v0.85h-1.22zM442.69,68.86h1.1v0.77h-1.1zM447.51,52.71h1.54v1.08h-1.54zM477.82,64.01h0.95v0.66h-0.95zM484.62,60.61h1.06v0.74h-1.06zM473.63,68.22h1.39v0.98h-1.39zM468.36,61.47h1.5v1.05h-1.5zM471.71,16.59h0.97v0.68h-0.97zM419.54,39.49h0.85v0.6h-0.85zM453.5,66.53h1.59v1.11h-1.59zM412.96,52.27h0.91v0.64h-0.91zM478.11,13.84h0.88v0.62h-0.88zM435.57,12.31h1.33v0.93h-1.33zM426.25,54.47h1.56v1.09h-1.56zM447.16,39.74h1.6v1.12h-1.6zM434.78,64.27h1.37v0.96h-1.37zM410.72,29.56h1.38v0.96h-1.38zM413.56,62.59h1.53v1.07h-1.53zM470,59.85h1.28v0.89h-1.28zM473.87,39.58h1.13v0.79h-1.13zM465.53,39.45h1.05v0.73h-1.05zM430.91,37.79h1.11v0.77h-1.11zM469.58,58.26h1.44v1.01h-1.44zM476.74,33.37h1.1v0.77h-1.1zM476.21,22.63h1.36v0.95h-1.36zM451.46,51.32h1.36v0.95h-1.36zM462.84,25.87h0.82v0.57h-0.82zM485.26,64.96h1.2v0.84h-1.2zM462.24,17.37h1.17v0.82h-1.17zM456.45,53.29h0.98v0.68h-0.98zM417.32,68.71h1.48v1.04h-1.48zM424.11,60.53h1.45v1.01h-1.45zM424.34,59.47h1.11v0.77h-1.11zM436.4,21.47h1.27v0.89h-1.27zM458.43,42.17h0.88v0.62h-0.88zM472.86,30.69h1.01v0.71h-1.01zM460.65,22.9h1.53v1.07h-1.53zM461.2,58.56h1.07v0.75h-1.07zM443.84,26.83h1v0.7h-1zM442.79,58.44h1.2v0.84h-1.2zM475.83,18.59h1.03v0.72h-1.03zM412.9,65.88h0.85v0.6h-0.85zM452.82,51.73h0.96v0.67h-0.96zM487.42,69.86h0.99v0.69h-0.99zM421.02,50.34h1.21v0.85h-1.21zM457.74,48.47h1.56v1.1h-1.56zM470.71,30.44h1.4v0.98h-1.4zM445.49,69.55h1.18v0.83h-1.18zM410.86,66.1h1.02v0.72h-1.02zM474.9,48.08h1.4v0.98h-1.4zM468.36,65.43h1.47v1.03h-1.47zM460.98,31.27h1.2v0.84h-1.2zM432.02,31.87h1.17v0.82h-1.17zM443.43,29.08h1.04v0.73h-1.04zM434.61,23.3h1.27v0.89h-1.27zM417.31,26.65h0.94v0.66h-0.94zM465.83,28.52h0.88v0.62h-0.88zM474.88,37.83h1.44v1.01h-1.44zM435.34,32.44h1.25v0.87h-1.25zM415.5,69.64h0.91v0.63h-0.91zM482.14,50.9h1.41v0.99h-1.41zM426.59,64.63h1.23v0.86h-1.23zM442.65,23.37h0.94v0.66h-0.94zM478.15,69.21h1.13v0.79h-1.13zM467.16,53.22h1.2v0.84h-1.2zM447.95,44.64h1.08v0.75h-1.08zM468.9,36.66h1.2v0.84h-1.2zM424.36,69.57h0.86v0.6h-0.86zM466.64,50.98h1.08v0.75h-1.08zM487.15,14.15h1.02v0.71h-1.02zM436.68,49.88h1.27v0.89h-1.27zM466.21,62.77h0.82v0.57h-0.82zM454.29,35.66h1.35v0.95h-1.35zM451.63,32.55h0.81v0.56h-0.81zM434.55,38.31h1.07v0.75h-1.07zM439.96,50.41h1.07v0.75h-1.07zM477.22,33.32h1.15v0.8h-1.15zM444.24,65.29h1.28v0.9h-1.28zM486.21,12.26h1.56v1.1h-1.56zM425.4,64.94h0.84v0.58h-0.84zM477.65,49.32h1.35v0.94h-1.35zM440.9,34.9h0.93v0.65h-0.93zM421.1,48.83h1.07v0.75h-1.07zM412.27,22h0.94v0.66h-0.94zM425.27,38.8h1.53v1.07h-1.53zM455.97,55.68h0.88v0.62h-0.88zM464.71,63.04h1.6v1.12h-1.6zM466.27,47.82h1.57v1.1h-1.57zM420.2,58.78h1.38v0.96h-1.38zM467.37,32.93h0.86v0.6h-0.86zM421.18,51.94h1.05v0.73h-1.05zM484.97,19.19h1.45v1.02h-1.45zM447.71,29.36h1v0.7h-1z" fill="#56648e" opacity="0.9"/><path d="M437.92,33.71h1.07v0.75h-1.07zM443.29,48.76h1.64v1.15h-1.64zM433.21,23.32h0.85v0.6h-0.85zM484.65,43.26h1.01v0.71h-1.01zM426.29,49.84h1.63v1.14h-1.63zM427.07,49h1.63v1.14h-1.63zM446.79,56.67h1.1v0.77h-1.1zM478.32,26.38h1.99v1.39h-1.99zM483.17,42.79h1.65v1.15h-1.65zM469.49,34.49h0.92v0.64h-0.92zM476.32,57.79h1.8v1.26h-1.8zM474.69,27.52h1.55v1.08h-1.55zM446.8,35.03h1.29v0.9h-1.29zM447.34,33.63h1.55v1.09h-1.55zM479.47,48.48h1.77v1.24h-1.77zM474.02,24.56h0.89v0.63h-0.89zM484.91,52.73h1.31v0.92h-1.31zM434.55,35.42h1.93v1.35h-1.93zM472.93,34.71h1.98v1.38h-1.98zM481.6,20.5h1.41v0.99h-1.41zM481.78,47.88h1.88v1.31h-1.88zM442.32,55.75h1.5v1.05h-1.5zM450.21,38.34h1.89v1.32h-1.89zM479.36,37.81h1.4v0.98h-1.4zM433.12,45.45h0.96v0.67h-0.96zM486.29,36.45h0.81v0.57h-0.81zM434.51,34.8h1.97v1.38h-1.97zM472,33.27h1v0.7h-1zM440.86,34.02h1.87v1.31h-1.87zM442.12,35.04h1.46v1.02h-1.46zM474.58,30.46h1.68v1.18h-1.68zM439.71,57.82h0.82v0.57h-0.82zM477.05,53.18h0.98v0.68h-0.98zM429.78,30.36h1.42v0.99h-1.42zM434.39,31.92h1.58v1.11h-1.58zM447.39,24.05h1.38v0.97h-1.38zM439.9,34.55h1.35v0.94h-1.35zM470.7,26.46h2v1.4h-2zM479.82,16.34h0.83v0.58h-0.83zM441.68,36.81h1.29v0.9h-1.29zM440.45,18.54h0.95v0.67h-0.95zM436.56,62.69h1.93v1.35h-1.93zM430.16,23.48h1.09v0.76h-1.09zM426.28,49.17h1.14v0.8h-1.14zM432.81,20.17h1.19v0.83h-1.19zM437.11,18.59h1.99v1.39h-1.99zM434.51,63.35h1.55v1.09h-1.55zM443.75,19.2h1.26v0.89h-1.26zM440.7,37.05h1.18v0.83h-1.18zM471.71,39.33h1.89v1.32h-1.89zM437.18,20.47h1.23v0.86h-1.23zM478.86,33.18h1.78v1.25h-1.78zM445.5,52.98h1.15v0.81h-1.15zM472.05,22.03h2v1.4h-2zM441.72,28.91h0.85v0.59h-0.85zM427.33,34.61h1.92v1.35h-1.92zM481.39,21.42h1.56v1.09h-1.56zM473.7,57.58h1.48v1.04h-1.48zM450.47,45.69h1.3v0.91h-1.3zM437.49,38h1.33v0.93h-1.33zM478.46,26.44h1.33v0.93h-1.33zM469.35,35.14h1.83v1.28h-1.83zM438.97,20.64h1.33v0.93h-1.33zM438.77,32.02h1.8v1.26h-1.8zM480.89,56.59h1.72v1.2h-1.72zM472.48,20.44h1.96v1.37h-1.96zM481.26,30.6h1.52v1.06h-1.52zM425.21,35.3h1.24v0.87h-1.24zM440.88,23.9h0.83v0.58h-0.83zM479.97,32.25h0.81v0.57h-0.81zM441.47,63.72h1.19v0.83h-1.19zM430.24,26.07h1.43v1h-1.43zM436.53,40.52h1.95v1.37h-1.95zM484.76,54.54h1.79v1.25h-1.79zM433.77,20.26h1.23v0.86h-1.23zM476.87,63.34h1.04v0.73h-1.04zM439.86,42.03h1.09v0.76h-1.09zM446.97,30.43h1.79v1.25h-1.79zM481.16,22.16h1.46v1.02h-1.46zM483.39,31.94h1.04v0.73h-1.04zM473.3,24.39h1.96v1.38h-1.96zM423.32,42.13h1.21v0.85h-1.21zM425.48,49.85h0.96v0.67h-0.96zM430.58,41.6h1.71v1.2h-1.71zM478.29,30.69h1.59v1.11h-1.59zM426.62,41.3h1.69v1.18h-1.69zM441.48,28.05h1.24v0.87h-1.24zM480.65,51.64h1.93v1.35h-1.93zM432.36,32.89h1.25v0.87h-1.25zM438.34,27.85h1.75v1.23h-1.75zM432.38,36.57h1.37v0.96h-1.37zM473.24,34.87h0.83v0.58h-0.83zM451.32,31.92h1.12v0.78h-1.12zM440.1,39.06h1.37v0.96h-1.37zM482.48,32.55h0.98v0.69h-0.98zM439.26,18.66h1.51v1.05h-1.51zM471.33,44.95h0.88v0.62h-0.88zM426.37,51.36h1.29v0.9h-1.29zM477.41,36.21h1.89v1.32h-1.89zM438.36,63.08h0.84v0.58h-0.84zM433.28,45.32h0.97v0.68h-0.97zM427.67,43.74h1.34v0.93h-1.34zM484.39,33.85h1.57v1.1h-1.57zM443.56,48.62h1.41v0.98h-1.41zM483.98,54.11h1.86v1.3h-1.86zM470.54,50.59h1.7v1.19h-1.7zM481.95,24.8h1.68v1.17h-1.68zM424.17,39.19h1.21v0.85h-1.21zM481.29,61.54h0.88v0.61h-0.88zM485.56,56.64h1.71v1.2h-1.71zM479.59,47.78h1.59v1.12h-1.59zM428.08,40.99h1.5v1.05h-1.5zM438.85,43.39h1.51v1.06h-1.51zM485.68,44.95h1.67v1.17h-1.67zM473.45,17.93h1.5v1.05h-1.5zM483.47,60.62h1.91v1.33h-1.91zM471.96,34.13h1.5v1.05h-1.5zM436.9,28.93h1.14v0.8h-1.14zM475.17,60.36h1.81v1.27h-1.81zM449.1,37.96h0.84v0.59h-0.84zM485.24,51.32h1.77v1.24h-1.77zM473.44,39.23h1.1v0.77h-1.1zM448.46,44.45h1.32v0.92h-1.32zM435.14,51.45h1.87v1.31h-1.87zM437.21,42.96h1.23v0.86h-1.23zM485.07,42.66h1.88v1.32h-1.88zM447.72,27.26h1.01v0.71h-1.01zM479.02,23.67h1.92v1.34h-1.92zM425.03,27.93h1.21v0.85h-1.21zM430.76,36.49h1.76v1.23h-1.76zM478.6,30.64h0.94v0.66h-0.94zM471,49.73h1.18v0.83h-1.18zM479.62,45.97h1.94v1.35h-1.94zM477.78,46.39h0.9v0.63h-0.9zM427.21,27.97h1.19v0.83h-1.19zM470.73,56.37h1.83v1.28h-1.83zM475.49,54.15h2v1.4h-2zM441.69,50.94h1.87v1.31h-1.87zM452.43,39.19h1.43v1h-1.43zM483.72,33.61h0.87v0.61h-0.87zM440.96,50.33h1.8v1.26h-1.8zM484.49,52.56h1.78v1.24h-1.78zM474.18,59.72h1.52v1.06h-1.52zM440.62,29.02h1.09v0.76h-1.09zM435.4,57.25h1.93v1.35h-1.93zM480.07,55.63h1.74v1.22h-1.74zM482.58,41.49h0.96v0.67h-0.96zM486.61,46.26h1.71v1.19h-1.71zM473.45,53.06h1.33v0.93h-1.33zM439.17,64.49h1.88v1.32h-1.88zM474.94,23.4h1.93v1.35h-1.93zM487.75,42.98h1.17v0.82h-1.17zM482.55,30.5h1.2v0.84h-1.2zM424.44,52.67h1.48v1.03h-1.48zM472.11,40.26h1.48v1.04h-1.48zM429.81,41.57h0.91v0.64h-0.91zM441.21,43.08h1.38v0.96h-1.38zM436.66,48.72h1.28v0.9h-1.28zM477.8,40.17h1.23v0.86h-1.23zM423.33,35.68h1.97v1.38h-1.97zM478.25,35.07h1.23v0.86h-1.23zM474.46,16.97h0.94v0.66h-0.94zM479.62,35.6h1.19v0.83h-1.19zM477.12,26.44h1.85v1.3h-1.85zM470.86,45.68h1.48v1.04h-1.48zM451.03,42.81h0.83v0.58h-0.83zM450.51,45.27h1.9v1.33h-1.9zM479.91,15.68h0.97v0.68h-0.97zM440.21,58.02h1v0.7h-1zM471.15,46.98h1.85v1.3h-1.85zM437.05,35.74h0.87v0.61h-0.87zM450.55,42.77h1.9v1.33h-1.9zM470.57,30.54h1.93v1.35h-1.93zM426.7,51.86h1.41v0.99h-1.41zM443.17,29.97h1.97v1.38h-1.97zM432.14,42.62h1.6v1.12h-1.6zM438.96,30.14h1.84v1.29h-1.84zM426.59,47.76h0.81v0.56h-0.81zM427.1,32.21h1.16v0.81h-1.16zM424.7,52.32h1.25v0.88h-1.25zM436.48,62.21h1.33v0.93h-1.33zM437.07,49.47h1.25v0.87h-1.25zM449.33,44.77h1.65v1.15h-1.65zM433.41,51.52h1.08v0.76h-1.08zM472.49,25.65h0.89v0.62h-0.89zM435.52,45.9h1.17v0.82h-1.17zM484.91,41.79h1.69v1.18h-1.69zM483.43,23.11h1.26v0.88h-1.26zM480.08,42.64h1.88v1.31h-1.88zM481.31,22.92h0.99v0.69h-0.99zM439.15,24.21h0.97v0.68h-0.97zM430.83,34.07h1.57v1.1h-1.57zM433.7,41.1h1.9v1.33h-1.9zM426.83,57.63h1.05v0.73h-1.05zM474.05,35.77h1.92v1.34h-1.92zM438.67,41.09h0.93v0.65h-0.93zM431.9,36.52h1.87v1.31h-1.87zM477.42,17.32h1.18v0.82h-1.18zM475.75,56.59h1.48v1.03h-1.48zM441.9,41.43h0.82v0.57h-0.82zM473.71,57.32h1.68v1.17h-1.68zM428.15,48.61h1.3v0.91h-1.3zM484.42,32.27h1.09v0.76h-1.09zM425.17,47.69h1.44v1.01h-1.44zM481.85,35.45h1.09v0.77h-1.09zM434.29,42.21h1.98v1.39h-1.98zM446.88,35.4h1.92v1.34h-1.92zM471.62,23.91h1.27v0.89h-1.27zM443.68,43.91h1.95v1.36h-1.95zM437.82,39.81h0.98v0.68h-0.98zM481.85,32.37h1.93v1.35h-1.93zM433.81,61.99h1.48v1.04h-1.48zM443.44,28.61h1.04v0.73h-1.04zM485,36.94h1.17v0.82h-1.17zM449.28,32.46h1.27v0.89h-1.27zM439.15,47.26h1.12v0.79h-1.12zM437.53,27.52h1.39v0.97h-1.39zM434.97,39.28h1.64v1.14h-1.64zM450.99,38.8h2v1.4h-2zM484.6,23.41h1.96v1.37h-1.96zM482.19,42.56h1.36v0.95h-1.36zM440.74,56.19h1.03v0.72h-1.03zM443.76,23.29h1.9v1.33h-1.9zM445.59,25.15h1.13v0.79h-1.13zM433.16,47.71h1.54v1.08h-1.54zM424.98,47.41h1.67v1.17h-1.67zM473.74,62.49h0.83v0.58h-0.83zM469.92,31.14h1.72v1.2h-1.72zM442.09,53.03h1.54v1.08h-1.54zM432.47,55.42h1.09v0.76h-1.09zM476.65,30.32h1.6v1.12h-1.6zM440.75,29.9h1.44v1.01h-1.44zM440.29,21.27h1.21v0.85h-1.21zM429.93,36.14h1.01v0.71h-1.01zM475.83,36.1h1.15v0.8h-1.15zM437.63,27.95h1.49v1.05h-1.49zM435.22,33.41h0.9v0.63h-0.9zM475.81,41.42h1.08v0.76h-1.08zM449.72,40.6h1.78v1.25h-1.78zM428.13,41.91h1.33v0.93h-1.33zM429.02,37.65h1.47v1.03h-1.47zM442.6,58.06h1.2v0.84h-1.2zM427.16,46.91h1.02v0.71h-1.02zM440.14,51.44h1.34v0.94h-1.34zM482.32,17.6h1.84v1.29h-1.84zM478.73,46.01h1.82v1.27h-1.82zM476.81,22.64h1.86v1.31h-1.86zM440.2,30.15h1.37v0.96h-1.37zM429.93,20.52h1.84v1.29h-1.84zM432.95,50.21h0.81v0.57h-0.81zM443.01,40.16h1.88v1.32h-1.88zM428.7,41.83h1.68v1.17h-1.68zM436.67,39.85h0.84v0.59h-0.84zM430.45,25.27h1.66v1.16h-1.66zM435.58,33.45h1.04v0.73h-1.04zM446.87,58.67h1.43v1h-1.43zM486.25,40h0.97v0.68h-0.97zM473.85,47.73h1.85v1.29h-1.85zM427.28,46.54h1.12v0.78h-1.12zM434.67,37.61h1.08v0.76h-1.08z" fill="#6d7aa0" opacity="0.9"/></g></g><text x="423.8" y="9.5" font-size="9" fill="#111">H-score 100</text><g clip-path="url(#c3)"><rect x="324.5" y="83" width="76.8" height="57.8" fill="#d5d4d1"/><path d="M323,82C327.17,75.42 340.83,81.58 350,81.5C359.17,81.42 371.17,81.17 378,81.5C384.83,81.83 388.08,81.25 391,83.5C393.92,85.75 394.58,90.58 395.5,95C396.42,99.42 396.67,105.17 396.5,110C396.33,114.83 395.75,120.17 394.5,124C393.25,127.83 391.75,130.87 389,133C386.25,135.13 382.5,136.1 378,136.8C373.5,137.5 367.33,137.58 362,137.2C356.67,136.82 350.67,135.95 346,134.5C341.33,133.05 337.5,130.75 334,128.5C330.5,126.25 326.83,128.75 325,121C323.17,113.25 318.83,88.58 323,82Z" fill="#c6b28a" filter="url(#bl2)"/><ellipse cx="342" cy="97" rx="17" ry="14" fill="#a07a3c" opacity="0.35" filter="url(#bl2)"/><g fill="#c9c8c6" filter="url(#bl2)" opacity="0.8"><ellipse cx="348.5" cy="93" rx="1.6" ry="7" transform="rotate(15 348.5 93)"/><ellipse cx="369" cy="112" rx="3" ry="1.6"/><ellipse cx="355" cy="120" rx="2.2" ry="1.5"/><ellipse cx="380" cy="96" rx="2" ry="1.4"/></g><g filter="url(#bl)"><path d="M340.31,126.38h2.29v1.6h-2.29zM380.65,100.57h1.4v0.98h-1.4zM353.93,95.67h1.91v1.34h-1.91zM338.62,103.13h2.32v1.63h-2.32zM342.67,109h2.16v1.51h-2.16zM336.26,91.38h2.74v1.92h-2.74zM368.07,112.26h1.2v0.84h-1.2zM342.49,89.52h1.96v1.37h-1.96zM357.55,93.01h1.18v0.82h-1.18zM368.22,91.19h1.02v0.72h-1.02zM341.37,129.57h2.18v1.53h-2.18zM363.82,96.07h1.84v1.29h-1.84zM324.76,101.87h1.86v1.3h-1.86zM331.06,116.64h1.8v1.26h-1.8zM328.17,91.54h1.88v1.32h-1.88zM393.07,86.3h2.01v1.41h-2.01zM345.9,105.53h2.66v1.86h-2.66zM372.49,99.49h1.81v1.27h-1.81zM356.78,113.72h1.83v1.28h-1.83zM341.64,95.71h1.2v0.84h-1.2zM373.05,113.66h2.05v1.43h-2.05zM352.52,134.61h2v1.4h-2zM376.28,121.92h2.4v1.68h-2.4zM386.63,122.62h1.58v1.1h-1.58zM344.27,94.36h2.54v1.78h-2.54zM361.41,83.02h2.08v1.45h-2.08zM337.61,112.91h2.28v1.59h-2.28zM373.53,103.8h1.07v0.75h-1.07zM390.68,105.36h1.45v1.01h-1.45zM389,120.97h2.2v1.54h-2.2zM326.64,89.22h2.38v1.67h-2.38zM392.03,103.5h2.57v1.8h-2.57zM337.8,116.63h1.63v1.14h-1.63zM365.11,94.41h1.69v1.18h-1.69zM359.55,116.61h1.37v0.96h-1.37zM370.62,95.29h2.76v1.93h-2.76zM342.58,89.36h1.49v1.04h-1.49zM367.74,108.88h2.19v1.53h-2.19zM332.46,106.93h2v1.4h-2zM368.02,100.42h1.21v0.84h-1.21zM372.7,115.67h1.85v1.3h-1.85zM379.46,109.99h2.4v1.68h-2.4zM346.22,101.99h2.64v1.85h-2.64zM368.59,90.04h1.55v1.08h-1.55zM360.94,115.37h1.88v1.31h-1.88zM351.12,124.91h2.67v1.87h-2.67zM392.7,112.74h2.18v1.53h-2.18zM342.94,91.36h2.04v1.43h-2.04zM393.54,107.28h2.72v1.9h-2.72zM378.34,84.09h2.68v1.88h-2.68zM332.66,95.87h2.01v1.41h-2.01zM346.92,85.64h1.16v0.81h-1.16zM357.17,116.4h1.92v1.34h-1.92zM327.65,107.87h1.8v1.26h-1.8zM372.78,111.3h2.4v1.68h-2.4zM373.05,102.82h1.76v1.23h-1.76zM389.92,104.35h2.67v1.87h-2.67zM358.24,96.16h2.06v1.44h-2.06zM328.59,94.59h2.53v1.77h-2.53zM364.33,102.62h1.26v0.88h-1.26zM336.35,96.33h1.83v1.28h-1.83zM325.54,94.9h1.77v1.24h-1.77zM377.8,97.3h1.78v1.25h-1.78zM338.83,114.26h1.2v0.84h-1.2zM333.01,88.28h1.45v1.02h-1.45zM336.62,97.95h2.25v1.58h-2.25zM375.77,84.49h2.55v1.78h-2.55zM340.78,125.35h2v1.4h-2zM354.92,114.39h1.25v0.88h-1.25zM381.36,114.97h2.04v1.42h-2.04zM378.61,88.87h1.09v0.76h-1.09zM333.17,87.64h2.44v1.71h-2.44zM334.19,104.86h2.18v1.53h-2.18zM394.37,105.66h2.06v1.44h-2.06zM377.34,109.08h1.08v0.75h-1.08zM373.42,121.24h2.25v1.57h-2.25zM350.8,132.97h2.07v1.45h-2.07zM353.28,97.11h1.06v0.74h-1.06zM378.82,101.32h2.54v1.78h-2.54zM348.79,100.74h2.41v1.69h-2.41zM333.37,85.7h1.02v0.72h-1.02zM391.46,110.66h2.32v1.62h-2.32zM386.37,110.81h1.33v0.93h-1.33zM353.59,105.65h1.65v1.15h-1.65zM387.91,94.42h1.3v0.91h-1.3zM375.63,125.52h2.41v1.69h-2.41zM393.58,102.49h1.12v0.79h-1.12zM352.49,101.79h1.2v0.84h-1.2zM376.32,112.65h2.12v1.49h-2.12zM390.93,116.4h2.6v1.82h-2.6zM386.68,113.61h2.11v1.48h-2.11zM360.21,105.48h2.32v1.62h-2.32zM370.28,104.45h2.18v1.52h-2.18zM365.25,89.45h2.34v1.64h-2.34zM362.24,136.84h2.62v1.83h-2.62zM332.76,98.43h2.25v1.58h-2.25zM351.05,122.91h2.08v1.46h-2.08zM351.14,96.42h2.45v1.71h-2.45zM335.64,114.98h2.67v1.87h-2.67zM358.85,99.88h1.12v0.78h-1.12zM335.11,85.64h2.01v1.41h-2.01zM353.32,100.07h2.47v1.73h-2.47zM330.16,107.48h2.45v1.71h-2.45zM364.35,92.22h1.71v1.2h-1.71zM380.14,128.29h2.1v1.47h-2.1zM336.94,91.45h2.78v1.94h-2.78zM346.79,109.01h1.76v1.23h-1.76zM389.32,83.72h1.88v1.32h-1.88zM359.55,88.71h1.8v1.26h-1.8zM391.32,85.99h1.45v1.02h-1.45zM370.8,114.51h2.37v1.66h-2.37zM350.35,90.14h1.67v1.17h-1.67zM387.94,108.27h1.71v1.2h-1.71zM384.2,116.95h1.25v0.87h-1.25zM353.3,135.73h1.05v0.74h-1.05zM382.69,100.89h2.35v1.64h-2.35zM336.66,121.06h2.55v1.78h-2.55zM332.19,83.78h2.48v1.74h-2.48zM363.48,85.03h2.18v1.53h-2.18zM364.28,130.48h2.33v1.63h-2.33zM344.98,126.37h1.53v1.07h-1.53zM356.36,87.63h1.25v0.87h-1.25zM362.6,131.6h2.43v1.7h-2.43zM336.08,114.47h1.55v1.09h-1.55zM339.77,104.23h2.22v1.56h-2.22zM346.57,126.39h1.9v1.33h-1.9zM353.87,129.49h1.03v0.72h-1.03zM388.51,118.91h2.17v1.52h-2.17zM327.71,107.77h2.13v1.49h-2.13zM345.02,122.51h1.99v1.4h-1.99zM375.39,132.66h1.6v1.12h-1.6zM372.1,85.84h2.44v1.7h-2.44zM386.77,122.91h2.24v1.57h-2.24zM367.16,101.87h2.43v1.7h-2.43zM334.14,116.74h1.19v0.84h-1.19zM381.4,112.11h2.14v1.5h-2.14zM337.12,107.14h2.19v1.53h-2.19zM357.96,124.96h1.15v0.81h-1.15zM351.59,89.26h2.33v1.63h-2.33zM354.39,126.39h2.36v1.65h-2.36zM326.91,119.03h2.45v1.71h-2.45zM331.1,108.74h2.35v1.65h-2.35zM378.84,83.84h2.34v1.64h-2.34zM357.11,93.18h2.19v1.54h-2.19zM379.06,119.03h1.46v1.02h-1.46zM338.01,86.47h1.3v0.91h-1.3zM351.74,102.58h1.13v0.79h-1.13zM389.03,93.84h1.14v0.8h-1.14zM340.08,108.63h2.12v1.49h-2.12zM330.27,91.77h1.05v0.73h-1.05zM394.37,95.82h2.17v1.52h-2.17zM356.09,104.06h2.37v1.66h-2.37zM367.28,119.1h1.49v1.04h-1.49zM372.48,127.06h2.64v1.85h-2.64zM337.53,98.31h2.75v1.93h-2.75zM357.22,129.67h2.64v1.85h-2.64zM363.81,107.17h1.9v1.33h-1.9zM333.93,87.15h2.7v1.89h-2.7zM374.22,87.88h2.06v1.44h-2.06zM343.15,131.72h1.65v1.15h-1.65zM346.46,127.99h1.83v1.28h-1.83zM337.72,102.88h1.51v1.06h-1.51zM378.17,127.82h2.32v1.63h-2.32zM375.43,126.37h2.66v1.86h-2.66zM344.32,99.15h2.77v1.94h-2.77zM385.1,120.3h1.55v1.09h-1.55zM367.53,97.16h1.18v0.82h-1.18zM350.1,129.89h1.25v0.88h-1.25zM327.51,96.66h2.41v1.69h-2.41zM391.97,98.88h2.73v1.91h-2.73zM360.79,122.83h2.2v1.54h-2.2zM358.23,131.79h2.62v1.83h-2.62zM360.3,100.45h2.69v1.88h-2.69zM377.88,104.09h1.29v0.91h-1.29zM354.38,108.75h2.46v1.73h-2.46zM378.04,112.6h2.63v1.84h-2.63zM369.04,133.09h1.12v0.78h-1.12zM380.61,98.03h1.22v0.85h-1.22zM329.52,101.56h2.59v1.82h-2.59zM338.77,97.44h2.5v1.75h-2.5zM338.24,96.87h2.34v1.64h-2.34zM327.45,102.12h2.1v1.47h-2.1zM349.55,125.99h1.41v0.98h-1.41zM370.55,92.4h1.27v0.89h-1.27zM385.42,119.4h2.02v1.42h-2.02zM352.95,122.06h2.71v1.9h-2.71zM352.87,85.75h1.46v1.02h-1.46zM384.13,100.26h2.36v1.65h-2.36zM339.69,117.59h1.66v1.16h-1.66zM365.03,104.73h2.07v1.45h-2.07zM380.92,123.65h1.77v1.24h-1.77zM332.21,105h2.42v1.69h-2.42zM327.65,85.13h2.32v1.63h-2.32zM330.52,118.92h2.38v1.67h-2.38zM362.04,124.22h1.84v1.29h-1.84zM339.91,94.87h1.23v0.86h-1.23zM350.67,106.32h1.36v0.95h-1.36zM336.55,109.17h1.02v0.72h-1.02zM361.87,89.21h1.24v0.87h-1.24zM386.04,112.35h1.71v1.2h-1.71zM369.03,119.54h2.78v1.95h-2.78zM349.81,135.4h2.71v1.9h-2.71zM355.88,128.01h1.14v0.8h-1.14zM342.36,112.22h2.33v1.63h-2.33zM368.26,90.88h1.07v0.75h-1.07zM354.66,130.67h2.76v1.93h-2.76zM382.5,96.05h2.61v1.83h-2.61zM336.02,106.03h2.2v1.54h-2.2zM350.03,102.08h1.78v1.25h-1.78zM393.63,110.16h1.16v0.81h-1.16zM351.4,116.99h1.97v1.38h-1.97zM384.86,126.51h1.84v1.29h-1.84zM356.27,109.68h1.22v0.85h-1.22zM330.66,89.62h1.24v0.86h-1.24zM330.32,105.98h1.27v0.89h-1.27zM342.83,101.44h2.35v1.64h-2.35zM372.18,119.24h2.68v1.88h-2.68zM325.38,102.66h2.38v1.66h-2.38zM329.77,117.09h2.66v1.86h-2.66zM365.14,83.25h1.2v0.84h-1.2zM355.5,83.71h2.19v1.53h-2.19zM344.73,102.87h2.41v1.69h-2.41zM380.54,129.41h1.34v0.94h-1.34zM350.45,119.91h1.9v1.33h-1.9zM386.11,106.97h2.64v1.85h-2.64zM340.97,120.94h2.44v1.71h-2.44zM373.37,97.9h2.58v1.81h-2.58zM367.64,116.75h1.31v0.92h-1.31zM376.02,92.01h2.5v1.75h-2.5zM381.55,92.79h2.42v1.69h-2.42zM372.75,100.2h2.19v1.54h-2.19zM377.55,111.99h2.25v1.57h-2.25zM387.96,89.25h2.55v1.79h-2.55zM393.74,96h1.07v0.75h-1.07zM358.38,89.95h1.24v0.86h-1.24zM363.18,109.86h1.04v0.73h-1.04zM376.93,115.71h2.6v1.82h-2.6zM374.08,99.36h2.56v1.79h-2.56zM380.12,87.66h2.5v1.75h-2.5zM352.08,132.03h2.49v1.74h-2.49zM393.89,89.59h2.32v1.63h-2.32zM348.1,132.74h1.21v0.84h-1.21zM363.78,114.83h2.1v1.47h-2.1zM393.1,88.11h2.53v1.77h-2.53zM350.86,106.55h2.57v1.8h-2.57zM333.38,91.33h2.23v1.56h-2.23zM380.18,96.08h2.25v1.57h-2.25zM351.48,84.6h1.47v1.03h-1.47zM336.41,109.18h1.82v1.27h-1.82zM353.63,135.76h1.69v1.19h-1.69zM358.76,118.1h1.59v1.11h-1.59zM395.7,102.81h2.38v1.67h-2.38zM373.83,128.12h1.37v0.96h-1.37zM329.77,122.59h1.14v0.8h-1.14zM373.9,124.59h1.37v0.96h-1.37zM332.91,90.81h2.18v1.53h-2.18zM349.02,88.68h2.13v1.49h-2.13zM361.75,98.58h2.31v1.62h-2.31zM389.94,95.72h2.28v1.6h-2.28zM352.91,105.79h1.08v0.76h-1.08zM336.32,126.18h1.49v1.04h-1.49zM394.19,101.49h2.43v1.7h-2.43zM351.75,126.86h1.79v1.25h-1.79zM340.26,94.92h1.52v1.06h-1.52zM372.6,95.05h1.54v1.08h-1.54zM353.96,93.71h1.05v0.74h-1.05zM370.83,89.23h2.54v1.78h-2.54zM381.87,85.34h1.36v0.95h-1.36zM381.31,86.3h1.04v0.73h-1.04zM333.13,91.24h2.39v1.67h-2.39zM384.24,116.17h1.55v1.08h-1.55zM384.35,119.78h1.11v0.78h-1.11zM338.54,123.34h2.02v1.41h-2.02zM354.36,113.76h1.44v1.01h-1.44zM369.13,91.02h2.78v1.94h-2.78zM387.42,111.83h2.76v1.93h-2.76zM376.2,116.55h2.16v1.51h-2.16zM384.37,96.77h1.11v0.77h-1.11zM368.87,111.38h2.71v1.9h-2.71zM327.25,92.01h1.57v1.1h-1.57zM370.26,102.88h1.28v0.9h-1.28zM325.28,91.23h1.31v0.92h-1.31zM363.34,104.23h2.76v1.93h-2.76zM336.79,101.41h1.05v0.73h-1.05zM374.97,105.33h2.67v1.87h-2.67zM348.37,132.38h1.71v1.2h-1.71zM374.32,103.6h2.46v1.72h-2.46zM341.26,92.28h1.09v0.77h-1.09zM353.36,125.57h1.83v1.28h-1.83zM388.92,117.01h1.96v1.37h-1.96zM362.4,85.32h2.06v1.44h-2.06zM338.71,87.79h1.18v0.83h-1.18zM336.72,118.98h1.52v1.06h-1.52zM346.71,106.96h2.72v1.91h-2.72zM343.85,100.45h1.45v1.02h-1.45zM348.24,100.27h2.5v1.75h-2.5zM390.81,89.15h1.87v1.31h-1.87zM387.32,88.24h2.8v1.96h-2.8zM354.75,111.96h2.7v1.89h-2.7zM394.83,95.11h1.82v1.27h-1.82zM380.6,109.68h2.69v1.88h-2.69zM371.85,118.59h2.23v1.56h-2.23zM344.4,108.75h1.39v0.98h-1.39zM386.06,102.2h1.26v0.88h-1.26zM392.5,102.95h2.71v1.9h-2.71zM358.29,120.75h2.41v1.69h-2.41zM364.94,90.51h1.31v0.92h-1.31zM335.26,113.99h2.71v1.9h-2.71zM366.58,107.93h1.2v0.84h-1.2zM352.88,93.68h1.82v1.28h-1.82zM354.48,134.23h1.08v0.75h-1.08zM350.64,124.87h1.8v1.26h-1.8zM330.08,103.7h2v1.4h-2zM371.39,103.27h1.7v1.19h-1.7zM349.25,121.46h2.56v1.79h-2.56zM356.23,111.5h1.46v1.02h-1.46zM330.68,94.67h1.45v1.02h-1.45zM357.7,111.65h2.52v1.76h-2.52zM351.68,127.4h1.46v1.02h-1.46zM360.81,87.44h2.61v1.82h-2.61zM351.14,120.16h2.01v1.41h-2.01zM361.59,96.87h2.48v1.74h-2.48zM360.38,90.64h1.18v0.83h-1.18zM362.79,115.78h1.5v1.05h-1.5zM342.08,131.15h2.23v1.56h-2.23zM388.42,90.18h2.78v1.95h-2.78zM393.33,93.37h2.18v1.52h-2.18zM359.78,91.39h1.37v0.96h-1.37zM339.88,121.97h2.03v1.42h-2.03zM361.02,104.57h1.69v1.18h-1.69z" fill="#a8884f" opacity="0.75"/><path d="M368.94,128.58h2.09v1.47h-2.09zM332.88,99h2v1.4h-2zM351.8,109.61h1.08v0.75h-1.08zM363.96,100.65h1.84v1.29h-1.84zM370.24,92.93h1.12v0.78h-1.12zM378.91,124.88h2.58v1.81h-2.58zM362.79,86.91h1.12v0.79h-1.12zM336.73,107.55h1.31v0.92h-1.31zM383.8,125.44h2.48v1.74h-2.48zM374.62,106.48h2.46v1.72h-2.46zM353.52,125.68h1.35v0.95h-1.35zM345.31,118.09h1.47v1.03h-1.47zM390.22,112.96h2.49v1.74h-2.49zM370.32,116.43h1.81v1.27h-1.81zM338.96,103.33h2.43v1.7h-2.43zM376.17,127.66h1.67v1.17h-1.67zM339.58,129.12h1.67v1.17h-1.67zM383.94,86.91h1.56v1.09h-1.56zM375.97,94.59h1.02v0.72h-1.02zM379.64,106.97h1.14v0.8h-1.14zM360.85,120.33h1.44v1.01h-1.44zM325.43,100.09h2.44v1.71h-2.44zM381.54,129.54h1.3v0.91h-1.3zM355.14,122.62h1.39v0.97h-1.39zM393.13,87.57h1.43v1h-1.43zM379.3,107.26h2.41v1.69h-2.41zM387.69,122.46h1.58v1.1h-1.58zM357.82,102.21h1.5v1.05h-1.5zM324.94,98h2.11v1.48h-2.11zM365.74,102.17h1.52v1.07h-1.52zM337.83,87.45h1.25v0.87h-1.25zM376.89,103.01h1.9v1.33h-1.9zM334.29,87.78h1.1v0.77h-1.1zM367.63,116.99h1.25v0.87h-1.25zM363.26,120.64h1.05v0.74h-1.05zM344.87,113.89h2.08v1.46h-2.08zM376.5,121.36h1.12v0.78h-1.12zM335.36,104.05h2.35v1.64h-2.35zM374.35,105.46h1.38v0.97h-1.38zM364.14,130.81h1.32v0.93h-1.32zM343.02,111.99h2.3v1.61h-2.3zM356.1,106.85h2.54v1.78h-2.54zM365.17,128.61h2.08v1.45h-2.08zM366.21,108.18h2.05v1.43h-2.05zM388.09,91.35h1.43v1h-1.43zM340.24,129.99h1.52v1.06h-1.52zM358.53,112.79h2.53v1.77h-2.53zM324.28,93.73h2.39v1.67h-2.39zM359.21,104.31h2.51v1.76h-2.51zM332.24,83.9h2.45v1.72h-2.45zM387.15,114.18h1.43v1h-1.43zM383.89,92.15h1.68v1.18h-1.68zM337.19,106.6h1.01v0.71h-1.01zM359.36,109.26h2.57v1.8h-2.57zM353.19,113.85h1.24v0.87h-1.24zM345.72,96.32h2.56v1.79h-2.56zM333.83,120.25h2.33v1.63h-2.33zM363.75,113.61h2.43v1.7h-2.43zM382.6,121.87h1.31v0.92h-1.31zM394.34,96.89h1.52v1.06h-1.52zM344.3,110.79h2.36v1.65h-2.36zM365.44,96.21h1.59v1.12h-1.59zM372.68,124.99h1.49v1.05h-1.49zM338.6,128.27h1.49v1.04h-1.49zM342.94,99.72h1.37v0.96h-1.37zM334.3,105.36h1.3v0.91h-1.3zM373.83,89h1.57v1.1h-1.57zM392.68,96.23h2.26v1.58h-2.26zM339.61,126.94h2.29v1.6h-2.29zM374.38,128.03h1.41v0.98h-1.41zM384.12,96.07h1.81v1.27h-1.81zM354.45,95.37h1.41v0.99h-1.41zM392.14,86.57h1.79v1.25h-1.79zM361.15,89.44h1.13v0.79h-1.13zM357.62,103.78h1.41v0.99h-1.41zM343.65,96.28h2.02v1.41h-2.02zM354.77,123.45h1.49v1.04h-1.49zM333.75,120.65h1.57v1.1h-1.57zM324.29,102.05h2.41v1.68h-2.41zM371.31,131.3h1.9v1.33h-1.9zM337.23,89.38h1.91v1.34h-1.91zM360.89,113.18h1.58v1.1h-1.58zM371.02,84.65h1.44v1.01h-1.44zM334.6,112.3h2.17v1.52h-2.17zM371.86,127.18h1.58v1.1h-1.58zM336.55,96.21h1.88v1.32h-1.88zM364.03,106.57h2.47v1.73h-2.47zM354.86,95.32h1.96v1.37h-1.96zM368.81,128.52h1.9v1.33h-1.9zM324.61,111.07h1.29v0.91h-1.29zM342.08,127.67h2.54v1.78h-2.54zM391.17,96.66h1.68v1.18h-1.68zM328.47,99.15h1.95v1.36h-1.95zM339.06,84.18h1.35v0.95h-1.35zM365.69,124.44h2.18v1.53h-2.18zM367.58,117.72h1.83v1.28h-1.83zM385.15,120.72h2.09v1.46h-2.09zM393.54,89.81h1.06v0.74h-1.06zM364.95,108.89h2.45v1.72h-2.45zM347.76,122.24h2.11v1.48h-2.11zM342.37,83.49h1.67v1.17h-1.67zM339.54,94.05h1.74v1.22h-1.74zM337.8,115.48h1.99v1.39h-1.99zM360.21,115.73h1.32v0.92h-1.32zM368.31,132.52h2.36v1.65h-2.36zM332.47,101.82h2.15v1.5h-2.15zM369.5,105.43h2.33v1.63h-2.33zM360.99,103.07h1.2v0.84h-1.2zM329.48,93.53h2.48v1.74h-2.48zM329.82,122.2h1.91v1.34h-1.91zM362.5,123.11h1.54v1.08h-1.54zM372.2,133.86h1.92v1.34h-1.92zM364.41,118.47h1.3v0.91h-1.3zM349.68,124.55h1.91v1.34h-1.91zM355.67,97.32h1.24v0.87h-1.24zM347.84,94.16h2.36v1.65h-2.36zM335.3,113.27h2.07v1.45h-2.07zM332.29,113.17h2.46v1.72h-2.46zM344.8,88.11h1.09v0.77h-1.09zM359.51,100.76h1.64v1.15h-1.64zM337.72,108.3h1.76v1.23h-1.76zM365.08,89.1h2.56v1.79h-2.56zM372.2,116.21h2.32v1.63h-2.32zM327.76,117.01h1.59v1.11h-1.59zM329.37,93.05h1.56v1.09h-1.56zM365.1,131.05h2.17v1.52h-2.17zM366.28,94.19h1.81v1.26h-1.81zM357.89,89.56h2.46v1.72h-2.46zM388.78,118.58h1.4v0.98h-1.4zM368.41,101.75h2.04v1.43h-2.04zM326.87,117.98h1.9v1.33h-1.9zM384.26,95.88h1.88v1.32h-1.88zM372.01,87.13h1.88v1.31h-1.88zM380.17,112.9h2.59v1.81h-2.59zM355.45,130.98h1.95v1.37h-1.95zM373.88,103.3h1.95v1.37h-1.95zM372.64,109.44h1.13v0.79h-1.13zM332.91,120.44h1.63v1.14h-1.63zM376.11,113.21h1.64v1.15h-1.64zM344.92,119.61h1.16v0.81h-1.16zM362.8,130.09h1.37v0.96h-1.37zM373.68,106.67h2.54v1.78h-2.54zM334.3,94.1h1.87v1.31h-1.87zM376.47,116.4h1.29v0.9h-1.29zM361.76,86.76h2.08v1.45h-2.08zM354.8,85.99h1.02v0.71h-1.02zM349.36,98.18h2.52v1.76h-2.52zM384.08,104.31h1.42v0.99h-1.42zM329.22,90.17h2.19v1.53h-2.19zM354.39,122.62h1.99v1.39h-1.99zM391.57,89.41h2.55v1.79h-2.55zM386.08,118.1h2.11v1.48h-2.11zM327.56,96.18h2.45v1.71h-2.45zM390.45,95.63h1.88v1.31h-1.88zM350.52,93.85h2.25v1.58h-2.25zM376.04,86.97h2.07v1.45h-2.07zM324.97,88.56h1.66v1.16h-1.66zM326.71,113.16h2.09v1.47h-2.09zM343.91,123.44h1.11v0.78h-1.11zM330.81,111.89h1.05v0.73h-1.05zM376.21,104.05h1.7v1.19h-1.7zM332.67,101.03h2.14v1.5h-2.14zM343.65,96.29h2.18v1.53h-2.18zM354.3,86.17h1.38v0.96h-1.38zM361.8,132.54h1.35v0.94h-1.35zM350.94,120h2.19v1.53h-2.19zM334.84,98.03h1.95v1.36h-1.95zM343.95,92.31h1.26v0.88h-1.26zM384.27,109.68h1.89v1.32h-1.89zM372.94,101.85h2.05v1.44h-2.05zM358.79,88.36h1.84v1.29h-1.84zM362.43,122.95h2.54v1.77h-2.54zM327.7,118.76h2.13v1.49h-2.13zM360.94,108.05h2.14v1.5h-2.14zM365.67,107.15h2.05v1.43h-2.05zM370.72,88.11h1.57v1.1h-1.57zM392.83,92.22h1.83v1.28h-1.83zM373.05,89.96h1.32v0.92h-1.32zM348.85,117.77h1.2v0.84h-1.2zM383.05,122.56h2.29v1.6h-2.29zM342.57,114.41h2.37v1.66h-2.37zM357.62,116.08h1.66v1.16h-1.66zM380.98,119.42h2.2v1.54h-2.2zM368.08,97.76h1.82v1.27h-1.82zM333.45,122.01h1.04v0.73h-1.04zM332.3,104.54h1.15v0.81h-1.15zM374.11,111.92h1.62v1.13h-1.62zM389.54,103.65h1.4v0.98h-1.4zM345.87,84.3h2.16v1.51h-2.16zM373.68,107.11h2.31v1.62h-2.31zM349.5,95.42h1.05v0.74h-1.05zM337.68,109.06h1.53v1.07h-1.53zM358.21,86.12h1.04v0.73h-1.04zM376.06,107.09h2.26v1.58h-2.26zM389.13,103.96h1.73v1.21h-1.73zM382.9,90.75h2.29v1.6h-2.29zM352.25,97.44h1.75v1.22h-1.75zM373.86,131.62h2.32v1.62h-2.32zM326.73,92.51h1.54v1.08h-1.54zM328.61,108.96h1.72v1.21h-1.72zM364.31,103.29h1.38v0.97h-1.38zM369.34,86.27h1.06v0.74h-1.06zM381.33,94.07h1.25v0.88h-1.25zM342.98,116.33h1.38v0.97h-1.38zM375.05,120.12h1.65v1.15h-1.65zM334.68,96.3h1.17v0.82h-1.17zM378.81,94.12h1.72v1.21h-1.72zM381.44,121.55h2.12v1.48h-2.12zM351.89,94h1.03v0.72h-1.03zM355.56,135.66h1.04v0.73h-1.04zM338.94,113.54h1.12v0.78h-1.12zM346.87,126.59h1.34v0.94h-1.34zM347.46,99.36h1.33v0.93h-1.33zM369.46,97.77h1.39v0.97h-1.39zM377.11,124.72h2.31v1.61h-2.31zM334.49,94.54h1.55v1.08h-1.55zM356.99,130.2h1.14v0.8h-1.14zM347,89.68h2.29v1.6h-2.29zM378.72,129.85h1.51v1.06h-1.51zM364.43,134.42h1.03v0.72h-1.03z" fill="#b0a274" opacity="0.8"/><path d="M357.47,127.92h2.21v1.55h-2.21zM363.28,127.92h2.46v1.73h-2.46zM343.74,90.07h2.34v1.64h-2.34zM358.05,114.97h1.77v1.24h-1.77zM391.62,115.95h2.13v1.49h-2.13zM383.14,83.17h1.9v1.33h-1.9zM370.51,89.02h1.27v0.89h-1.27zM329.2,107.03h2.24v1.57h-2.24zM329.2,103h1.37v0.96h-1.37zM389.61,113.06h1.43v1h-1.43zM356.18,90.6h1.97v1.38h-1.97zM375.35,108.65h2.27v1.59h-2.27zM383.02,122.13h2.2v1.54h-2.2zM357.01,92.03h1.85v1.29h-1.85zM359.56,91.62h2.11v1.48h-2.11zM358.19,122.18h1.31v0.91h-1.31zM341.97,88.47h2.45v1.72h-2.45zM377.14,100.92h1.08v0.76h-1.08zM349.93,128.24h2.44v1.71h-2.44zM339.55,85.04h1.21v0.85h-1.21zM325.43,96.98h2.23v1.56h-2.23zM360.86,128.95h1.15v0.8h-1.15zM381.63,90.91h1.52v1.06h-1.52zM380.24,120.45h1.59v1.11h-1.59zM372.33,107.95h2.26v1.59h-2.26zM331.3,84.21h1.61v1.13h-1.61zM368.52,130.87h2.01v1.41h-2.01zM332.66,110.48h2.39v1.67h-2.39zM386.09,86.57h2.6v1.82h-2.6zM364.12,99.79h1.69v1.18h-1.69zM351.37,119.98h1.11v0.78h-1.11zM385,87.37h2.15v1.5h-2.15zM348.41,91.82h1.23v0.86h-1.23zM360.17,92.05h1.78v1.25h-1.78zM387.15,97.45h2.14v1.5h-2.14zM351.38,90.23h2.3v1.61h-2.3zM350.48,120.06h2.52v1.77h-2.52zM379.65,102.18h1.98v1.39h-1.98zM381.68,95.51h2.53v1.77h-2.53zM341.47,85.16h1.85v1.3h-1.85zM360.51,91.99h1.77v1.24h-1.77zM344.94,130.17h1.79v1.25h-1.79zM364.39,91.35h2.51v1.76h-2.51zM343.51,116.85h2.24v1.57h-2.24zM364.06,101.56h2.03v1.42h-2.03zM379.24,91.04h1.41v0.99h-1.41zM338.1,84.32h1.99v1.4h-1.99zM348.45,132.1h2.45v1.72h-2.45zM385.78,122.57h1.5v1.05h-1.5zM387.08,106.12h2.5v1.75h-2.5zM371.95,124.26h1.23v0.86h-1.23zM355.88,88.62h1.57v1.1h-1.57zM367.72,99.85h1.01v0.71h-1.01zM357.18,126.99h1.61v1.12h-1.61zM383.85,105.51h1.88v1.32h-1.88zM347.3,88.03h2.25v1.58h-2.25zM363.52,129.06h2.26v1.58h-2.26zM383.96,105.08h1.47v1.03h-1.47zM341.38,110.16h1.97v1.38h-1.97zM380.18,115.91h1.46v1.02h-1.46zM368.92,99.47h2.39v1.67h-2.39zM341.52,106.77h1.36v0.95h-1.36zM340.78,127.33h1.32v0.93h-1.32zM348.75,85.53h2.46v1.72h-2.46zM393.19,104.8h2.47v1.73h-2.47zM341.61,97.67h1.89v1.32h-1.89zM358.47,107.61h2.58v1.81h-2.58zM360.31,108.31h2.37v1.66h-2.37zM333.9,106.09h1.16v0.81h-1.16zM354.58,129.41h2.33v1.63h-2.33zM334.88,97.43h2.12v1.48h-2.12zM337.28,85.87h2.39v1.67h-2.39zM370.12,105.94h1.48v1.04h-1.48zM354.22,135.02h1.93v1.35h-1.93zM335.16,115.61h1.5v1.05h-1.5zM393.46,92.26h1.79v1.25h-1.79zM325.81,98.3h2.13v1.49h-2.13zM335.97,109.96h1.16v0.81h-1.16zM377.59,89.07h2.48v1.73h-2.48zM361.5,114.28h1.59v1.11h-1.59zM354.69,133.67h2.21v1.55h-2.21zM353.86,130.36h1.61v1.12h-1.61zM330.2,96.26h1.68v1.18h-1.68zM358.06,93.17h2.13v1.49h-2.13zM342.36,120.7h1.84v1.29h-1.84zM378.77,118.67h2.09v1.46h-2.09zM386.87,92.13h1.25v0.87h-1.25zM357.57,136.49h1.23v0.86h-1.23zM381.56,114.57h1.27v0.89h-1.27zM326.46,102.17h1.3v0.91h-1.3zM392.05,112.99h1.81v1.27h-1.81zM371.14,111.62h1.38v0.97h-1.38zM380.5,125.8h2.45v1.72h-2.45zM361.62,90.59h2.54v1.78h-2.54zM325.16,92.09h2.13v1.49h-2.13zM369.84,99.02h1.05v0.73h-1.05zM380.58,120.22h1.19v0.83h-1.19zM338.35,117.98h1.67v1.17h-1.67zM371.36,89.82h2.44v1.71h-2.44zM346.62,120.2h1.37v0.96h-1.37zM390.27,115.32h1.9v1.33h-1.9zM376.58,116.99h2.3v1.61h-2.3zM360.25,105.18h2.19v1.53h-2.19zM362.1,118.17h1.24v0.87h-1.24zM339.47,93.58h2.28v1.6h-2.28zM366.52,128.51h1.19v0.83h-1.19zM346.85,92.19h1.69v1.19h-1.69zM326.47,119.93h2.34v1.64h-2.34zM373.75,132.24h1.64v1.15h-1.64zM369.5,114.84h1.71v1.2h-1.71zM358.53,124.02h1.24v0.87h-1.24zM339.54,103.23h2.35v1.64h-2.35zM356.64,132.16h1.64v1.15h-1.64zM356.37,93.1h2.26v1.58h-2.26zM362.36,132.95h1.99v1.4h-1.99zM370.18,98.26h1.03v0.72h-1.03zM386.54,121.26h1.7v1.19h-1.7zM363.57,128.73h1.37v0.96h-1.37zM325.59,88.47h2.58v1.81h-2.58zM364.58,111.69h1v0.7h-1zM367.7,118.75h2.33v1.63h-2.33zM364.31,133.41h2.45v1.72h-2.45zM330.25,106.79h1.81v1.27h-1.81zM326.7,117.94h1.79v1.25h-1.79zM334.34,122.71h2.16v1.52h-2.16zM332.83,89.05h1.78v1.25h-1.78zM375.16,105.99h2.52v1.77h-2.52zM360.52,91.04h1.96v1.37h-1.96zM362.72,125.77h2.36v1.65h-2.36zM384.49,105.37h1.05v0.73h-1.05zM343.54,120.73h1.51v1.05h-1.51zM378.55,90.1h1.73v1.21h-1.73zM386.66,85.49h2.08v1.46h-2.08zM381.46,89.41h1.93v1.35h-1.93zM350.69,115.37h2.21v1.55h-2.21zM338.89,100.37h1.18v0.83h-1.18zM355.39,87.7h1.05v0.73h-1.05zM380.44,123.84h1.05v0.73h-1.05zM374.33,122.14h1.55v1.09h-1.55zM346.67,96.32h1.96v1.38h-1.96zM334.27,114.8h1.65v1.15h-1.65zM363.46,127.01h1.36v0.95h-1.36zM348.09,110.93h1.52v1.06h-1.52zM376.56,91.26h2.47v1.73h-2.47zM361.47,103.05h1.55v1.09h-1.55zM339.41,114.21h2.28v1.6h-2.28zM342.25,128.47h2.2v1.54h-2.2zM372.55,134.48h1.96v1.37h-1.96zM389.76,116.4h1.47v1.03h-1.47zM370.52,124.83h2.15v1.51h-2.15zM354.63,126.48h1.53v1.07h-1.53zM394.72,107.59h1.88v1.32h-1.88zM351.26,118.46h1.22v0.85h-1.22zM334.66,117.04h2.08v1.45h-2.08zM371.05,118.07h1.44v1.01h-1.44zM352.47,119.29h1.22v0.85h-1.22zM347.28,92.74h1.06v0.74h-1.06zM358.76,104.65h1.9v1.33h-1.9zM354.67,87.23h2.38v1.66h-2.38zM327.02,84.25h1.04v0.73h-1.04zM384.79,104.37h2.51v1.76h-2.51zM348.4,106.71h2.12v1.48h-2.12zM352.92,122.47h1.1v0.77h-1.1zM368.04,120.46h1.44v1.01h-1.44zM374.51,100.74h2.23v1.56h-2.23zM329.53,113.24h2.52v1.76h-2.52zM385.92,125.61h1.82v1.27h-1.82zM390.38,83.41h1.06v0.74h-1.06zM359.72,124.62h1.67v1.17h-1.67zM353.39,84.18h1.97v1.38h-1.97zM342.87,119.87h1.59v1.11h-1.59zM352.19,86.25h2.14v1.5h-2.14zM350.92,103.25h1.78v1.25h-1.78zM338.21,95h2.14v1.5h-2.14zM393.97,91.16h1.44v1.01h-1.44zM394.6,105.36h2.23v1.56h-2.23zM378.69,126.17h1.76v1.23h-1.76zM346.58,104.14h1.23v0.86h-1.23zM330.06,105.05h2.37v1.66h-2.37zM349.48,115.52h2.32v1.62h-2.32zM332.09,104.49h1.59v1.11h-1.59zM324.59,114.58h1v0.7h-1zM347.16,106.2h1.45v1.01h-1.45zM355.78,103.96h1.8v1.26h-1.8zM343.25,105.63h1.35v0.95h-1.35zM356.36,124.08h1.05v0.73h-1.05zM384.98,99.67h1.11v0.78h-1.11zM384.77,115.77h1.42v0.99h-1.42zM353.29,133.13h2.13v1.49h-2.13zM345.44,96.74h1.91v1.33h-1.91zM333.28,96.28h2.29v1.6h-2.29zM379.86,84.48h1.72v1.2h-1.72zM354.7,125.85h1.68v1.18h-1.68zM338.9,120.55h1.45v1.02h-1.45zM371.65,93.01h2.4v1.68h-2.4zM352.46,122.47h2.2v1.54h-2.2zM360.01,114.26h1.19v0.83h-1.19zM365.66,113.84h2.43v1.7h-2.43zM351.1,91.88h1.65v1.15h-1.65zM384.48,83.67h1.06v0.74h-1.06zM379.32,110.03h1.31v0.92h-1.31zM375.38,96.99h1.72v1.21h-1.72zM354.3,123.28h1.29v0.9h-1.29zM370.89,100.13h1.19v0.83h-1.19zM348.34,86.7h1.96v1.37h-1.96zM366.77,132.52h1.04v0.73h-1.04zM350.71,86.4h2.28v1.6h-2.28zM331.17,124.42h1.84v1.29h-1.84zM391.52,112.77h2.09v1.46h-2.09zM376.52,110.94h1.6v1.12h-1.6zM392.37,95.2h1.47v1.03h-1.47zM378.75,127.35h1.08v0.75h-1.08zM371.98,134.69h2.56v1.79h-2.56zM390.36,117.08h1.18v0.82h-1.18zM352.5,101.72h2.52v1.77h-2.52zM341.77,130.58h1.71v1.2h-1.71zM377.64,130.65h1.16v0.81h-1.16zM344.05,89.61h1.64v1.15h-1.64zM384.65,116.72h1.31v0.91h-1.31zM340.21,117.35h2.45v1.72h-2.45zM348.85,123.47h1.83v1.28h-1.83zM366.77,122.27h1.47v1.03h-1.47zM344.61,106.91h1.37v0.96h-1.37zM390.26,104.23h1.06v0.74h-1.06zM366.28,99.42h2.44v1.71h-2.44zM372.49,118.91h1.74v1.22h-1.74zM383.39,121.89h1.87v1.31h-1.87zM349.75,128.48h2.46v1.72h-2.46zM331.03,84.52h1.16v0.81h-1.16zM352.46,113.9h1.95v1.36h-1.95zM345.93,132.55h1.12v0.79h-1.12zM340.04,107.34h1.12v0.78h-1.12zM350.7,84.58h2.29v1.6h-2.29zM376.07,98.08h1.84v1.29h-1.84zM354.01,130.54h1.47v1.03h-1.47zM342.2,128.03h2.21v1.55h-2.21zM378.18,86.71h1.07v0.75h-1.07zM339.76,111.51h1.74v1.22h-1.74zM345.85,87.56h1.4v0.98h-1.4zM339.87,87.39h2.03v1.42h-2.03zM388.72,97.61h2.21v1.54h-2.21zM325.66,90.5h2.02v1.42h-2.02zM331.26,109.97h1.78v1.24h-1.78zM380.86,128.86h2.04v1.43h-2.04zM345.69,123.3h1.91v1.34h-1.91zM372.01,126.63h1.46v1.02h-1.46zM394.37,109.8h1.51v1.05h-1.51zM378.27,88.53h1.44v1.01h-1.44zM365.49,114.36h1v0.7h-1zM342.63,114.11h2.09v1.46h-2.09zM369.86,127.44h2.03v1.42h-2.03zM347.85,116.96h2.11v1.48h-2.11zM390.42,84.82h1.13v0.79h-1.13zM389.9,97.25h2.46v1.72h-2.46zM372.09,108.47h2.45v1.72h-2.45zM372.42,88.43h2.16v1.51h-2.16zM349.52,90.88h1.59v1.11h-1.59zM353.27,130.78h1.9v1.33h-1.9zM350.09,88.92h2.09v1.46h-2.09zM343.08,112.33h1.38v0.97h-1.38zM372.6,86.41h1.45v1.01h-1.45zM372.16,131.89h2.17v1.52h-2.17zM346.19,106.05h1.8v1.26h-1.8zM384.74,89.59h2.34v1.64h-2.34zM332.54,105.18h1.59v1.11h-1.59zM375.37,101.33h2.29v1.6h-2.29zM325.64,88.57h2.29v1.6h-2.29zM355.45,112.72h2.35v1.65h-2.35zM378.96,113.57h1.48v1.04h-1.48zM330.19,89.55h1.08v0.76h-1.08zM332.51,112.87h1.99v1.39h-1.99zM374.49,116.64h2.13v1.49h-2.13zM357.56,128.26h2.34v1.64h-2.34zM340.55,113.65h1.5v1.05h-1.5zM333.64,107.41h1.97v1.38h-1.97zM363.86,105.29h1.89v1.32h-1.89zM362.87,84.58h2.1v1.47h-2.1zM384.74,109.77h2.04v1.43h-2.04zM342.62,125.31h1.73v1.21h-1.73zM373.35,122.01h1.69v1.18h-1.69zM387.8,105.23h1.61v1.12h-1.61zM345.36,130.63h1.54v1.08h-1.54zM388.81,89.41h2.52v1.76h-2.52zM342.99,104.64h1.41v0.98h-1.41zM369.16,97.71h2.08v1.46h-2.08zM376.34,127.5h1.73v1.21h-1.73zM356.95,97.53h1.78v1.24h-1.78zM364.67,99.1h1.89v1.32h-1.89zM337.24,107.27h1.52v1.06h-1.52zM365.09,127.97h1.05v0.73h-1.05zM357.86,88.83h1.57v1.1h-1.57zM380.68,119.85h2.15v1.5h-2.15zM386.69,102.74h1.6v1.12h-1.6zM338.5,102.01h1.99v1.39h-1.99zM375.6,124.18h1.86v1.3h-1.86zM327.9,120.43h2.36v1.65h-2.36zM391.19,84.32h1.6v1.12h-1.6zM361.83,119.19h2.27v1.59h-2.27zM384.75,106h2.52v1.76h-2.52zM359.79,89.29h1.32v0.92h-1.32z" fill="#ddd4c0" opacity="0.85"/><path d="M365.28,126.98h1.17v0.82h-1.17zM380.56,105.43h1.44v1.01h-1.44zM351.17,112.3h1.81v1.27h-1.81zM355.78,100.23h1.51v1.06h-1.51zM341.91,128.96h1.86v1.3h-1.86zM380.74,125.09h1.61v1.13h-1.61zM367.58,105.87h1.66v1.16h-1.66zM356.44,93.28h1.87v1.31h-1.87zM394.52,90.29h1.77v1.24h-1.77zM371.79,102.18h1.2v0.84h-1.2zM335.24,108.88h1.05v0.74h-1.05zM346.9,97.99h1.43v1h-1.43zM332.9,91.23h1.01v0.71h-1.01zM387.82,112.18h1.74v1.22h-1.74zM388.15,100.49h1.01v0.71h-1.01zM365.46,132.39h1.59v1.11h-1.59zM337.07,111.11h1.29v0.9h-1.29zM333.24,91.2h1.65v1.15h-1.65zM374.92,107.37h0.95v0.66h-0.95zM343.81,108.48h1.69v1.18h-1.69zM355.95,126.77h1.24v0.87h-1.24zM370.38,126.39h1.3v0.91h-1.3zM360.14,86.14h0.93v0.65h-0.93zM376.43,88.6h1.03v0.72h-1.03zM361.38,136.81h2v1.4h-2zM383.67,103.98h1.01v0.71h-1.01zM355.42,86.66h1.14v0.8h-1.14zM378.51,118.91h1.92v1.34h-1.92zM348.16,107.2h1.68v1.18h-1.68zM343.39,96.9h1.97v1.38h-1.97zM350.78,133.81h1.28v0.9h-1.28zM346.57,85.91h1.6v1.12h-1.6zM350.26,102.15h1.66v1.16h-1.66zM355.69,99.06h1.83v1.28h-1.83zM363.31,101.3h0.97v0.68h-0.97zM386.36,123.9h1.92v1.35h-1.92zM331.19,86.17h1.87v1.31h-1.87zM343.39,102.22h0.95v0.67h-0.95zM362.61,95h0.87v0.61h-0.87zM352.26,94.62h1.79v1.25h-1.79zM360.56,128.63h1.77v1.24h-1.77zM388.62,92.08h1.39v0.97h-1.39zM374.44,100.75h1.74v1.22h-1.74zM372.95,129.58h1.69v1.19h-1.69zM357.57,89.76h1.09v0.76h-1.09zM339.96,130.35h1.11v0.78h-1.11zM369.28,135.25h1.34v0.94h-1.34zM340.95,100.98h1.7v1.19h-1.7zM375.55,119.36h1.06v0.74h-1.06zM359.57,98.96h1.53v1.07h-1.53zM384.55,109.37h1.47v1.03h-1.47zM330.13,122.95h0.88v0.61h-0.88zM344.73,122.51h1.01v0.71h-1.01zM375.23,128.38h1.62v1.13h-1.62zM387.41,118.4h1.4v0.98h-1.4zM337.25,111.71h1.5v1.05h-1.5zM349.56,93.81h1.44v1.01h-1.44zM341.13,119.42h1.15v0.8h-1.15zM352.22,122.82h1.62v1.13h-1.62zM327.68,115.78h1.48v1.04h-1.48zM351.69,104.47h1.53v1.07h-1.53zM389.1,113.86h1.11v0.78h-1.11zM380.43,92.53h0.82v0.58h-0.82zM334.71,86.12h1.31v0.91h-1.31zM380.68,93.51h0.99v0.69h-0.99zM327.71,107.07h1.12v0.79h-1.12zM366.61,109.21h1.36v0.95h-1.36zM371.84,127.89h1.87v1.31h-1.87zM361.38,104.92h1.83v1.28h-1.83zM328.19,100.14h1.91v1.34h-1.91zM347.94,85.86h0.95v0.67h-0.95zM352.36,135.48h1.82v1.27h-1.82zM343.01,89.96h1.87v1.31h-1.87zM353.35,109.71h0.99v0.69h-0.99zM355.62,134.83h1.89v1.32h-1.89zM338.63,120.27h0.97v0.68h-0.97zM362.94,128.5h1.11v0.78h-1.11zM369.33,94.28h1.14v0.79h-1.14zM373.32,102.54h1.06v0.74h-1.06zM348.73,127.2h1.3v0.91h-1.3zM370.28,98.1h1.55v1.08h-1.55zM327.26,86.3h1.06v0.74h-1.06zM384.8,93.16h1.3v0.91h-1.3zM335.26,99.02h1.44v1.01h-1.44zM364.93,84.03h1.99v1.39h-1.99zM359.17,122.23h1.11v0.78h-1.11zM360.5,130.77h0.94v0.66h-0.94zM340.55,100.61h1.79v1.25h-1.79zM342.89,101.31h1.68v1.18h-1.68zM358.24,103.17h2v1.4h-2zM343.74,128.21h1.01v0.71h-1.01zM394.24,99.53h1.91v1.33h-1.91zM373,88.98h1.28v0.89h-1.28zM364.99,113.25h1.32v0.93h-1.32zM345.61,100.89h1.04v0.73h-1.04zM344.2,85.16h1.7v1.19h-1.7zM392.79,95.78h0.87v0.61h-0.87zM353.59,89.26h1.31v0.92h-1.31zM343.63,116.44h1.69v1.18h-1.69zM354.89,92.08h1v0.7h-1zM359.8,123.27h1.8v1.26h-1.8zM336.8,113.37h0.89v0.62h-0.89zM368.1,133.17h1.21v0.85h-1.21zM376.2,119.7h1.6v1.12h-1.6zM338.06,112.56h0.87v0.61h-0.87zM355.75,86.1h1.96v1.37h-1.96zM350.63,97.37h1.88v1.32h-1.88zM357.28,112.66h1.84v1.29h-1.84zM364.25,105.76h1.69v1.18h-1.69zM347.2,91.77h1.66v1.16h-1.66zM366.04,134.99h0.85v0.6h-0.85zM325.78,103.35h1.8v1.26h-1.8zM360.59,118.35h1.24v0.86h-1.24zM350.6,102.17h1.14v0.8h-1.14zM326.78,122.24h1.17v0.82h-1.17zM335.98,100.06h1.02v0.71h-1.02zM382.1,97.68h1.47v1.03h-1.47zM357.38,104.34h1.84v1.29h-1.84zM363.44,100.99h1v0.7h-1zM346.97,93.99h1.6v1.12h-1.6z" fill="#9c9fb6" opacity="0.8"/></g></g><text x="336.4" y="80.9" font-size="9" fill="#111">H-score 200</text><g clip-path="url(#c4)"><rect x="411" y="83" width="79.5" height="58.5" fill="#c2cadb"/><g filter="url(#bl)"><path d="M470.48,118.21h1.65v1.16h-1.65zM470.86,116.84h1.03v0.72h-1.03zM462.23,84.42h1.37v0.96h-1.37zM423.86,124.12h1.6v1.12h-1.6zM437.5,117.49h1.65v1.16h-1.65zM451.89,98.03h0.94v0.65h-0.94zM480.7,88.19h1.04v0.73h-1.04zM473.4,85.94h0.97v0.68h-0.97zM440.74,91.92h0.85v0.59h-0.85zM473.02,93.21h1.9v1.33h-1.9zM414.94,99.14h1.49v1.04h-1.49zM418.98,111.23h1.38v0.97h-1.38zM459.01,137.64h1.29v0.9h-1.29zM483.71,95.88h1.58v1.11h-1.58zM445.29,128.78h1.42v1h-1.42zM479.3,92.13h1.12v0.78h-1.12zM454.56,120.45h1.25v0.88h-1.25zM475.26,105.33h1.92v1.34h-1.92zM485.47,85.52h1.57v1.1h-1.57zM479.83,85.98h1.69v1.18h-1.69zM457.62,113.52h1.13v0.79h-1.13zM469.78,96h1.02v0.71h-1.02zM438.99,141.48h1.29v0.9h-1.29zM422.45,106.59h1.72v1.2h-1.72zM460.94,125.36h1.79v1.25h-1.79zM434.28,103.48h1.83v1.28h-1.83zM441.58,113.23h1.8v1.26h-1.8zM461.35,136.87h0.82v0.57h-0.82zM460.58,113.1h1.29v0.91h-1.29zM434.69,105.21h1.78v1.25h-1.78zM449.11,95.98h1.63v1.14h-1.63zM476.56,106.97h0.96v0.67h-0.96zM470.55,123.76h1.63v1.14h-1.63zM412.14,90.06h1.96v1.37h-1.96zM455.34,98.34h0.86v0.6h-0.86zM449.05,102.12h0.99v0.69h-0.99zM462.02,93.61h1.94v1.36h-1.94zM429.57,135.45h1.23v0.86h-1.23zM434.39,127.75h1.41v0.98h-1.41zM422.23,132.58h1.46v1.02h-1.46zM456.5,105.29h1.79v1.25h-1.79zM460.17,87.34h1.86v1.3h-1.86zM456.28,99.08h0.85v0.59h-0.85zM414.34,90.22h1.11v0.78h-1.11zM453.25,96.31h1.75v1.22h-1.75zM453.12,108.27h1.32v0.92h-1.32zM430.25,114.74h1.08v0.76h-1.08zM436.85,113.11h1.56v1.09h-1.56zM437.22,125.55h1.23v0.86h-1.23zM484.22,91.79h1.49v1.05h-1.49zM439.38,109.83h0.94v0.66h-0.94zM438.05,94.14h1.61v1.13h-1.61zM473.04,129.36h1.89v1.33h-1.89zM441.62,120.74h1.95v1.36h-1.95zM450.97,113.68h1.59v1.11h-1.59zM413.42,133.1h1.3v0.91h-1.3zM471.41,90.82h1.39v0.97h-1.39zM456.51,128.6h1.52v1.06h-1.52zM460.77,137.54h1.12v0.79h-1.12zM446.9,134.97h1.35v0.94h-1.35zM458.35,112.82h1.97v1.38h-1.97zM465.32,128.61h0.84v0.59h-0.84zM442.58,127.09h1v0.7h-1zM473.37,137.35h1.71v1.2h-1.71zM468.84,99.23h0.95v0.66h-0.95zM486.09,107.88h1.88v1.32h-1.88zM464.4,137.95h0.83v0.58h-0.83zM474.98,126.61h1.48v1.03h-1.48zM424.03,95.01h1.92v1.34h-1.92zM442.18,127.4h1.97v1.38h-1.97zM429.24,86.94h0.84v0.59h-0.84zM445.51,131.65h1.76v1.23h-1.76zM458.24,83.17h1.1v0.77h-1.1zM422.89,92.23h0.96v0.67h-0.96zM413.76,112.73h1.21v0.85h-1.21zM439.2,99.27h1.75v1.22h-1.75zM434.21,92.27h1.14v0.8h-1.14zM430.92,103.45h1.26v0.88h-1.26zM429.2,120.07h0.99v0.69h-0.99zM483.73,135.11h1.39v0.97h-1.39zM469.44,95.63h1.15v0.8h-1.15zM483.67,110.95h1.69v1.18h-1.69zM475.98,124.4h1.34v0.94h-1.34zM441.36,86.54h1.84v1.29h-1.84zM466.42,86.7h1.8v1.26h-1.8zM433.78,133.21h0.98v0.69h-0.98zM412.77,133.66h1.87v1.31h-1.87zM450.46,136.88h0.91v0.64h-0.91zM423.01,140.29h1.93v1.35h-1.93zM466.58,102.76h1.66v1.16h-1.66zM411.02,103.92h1.82v1.28h-1.82zM429.29,90.59h1.39v0.97h-1.39zM464.9,101.34h1.78v1.25h-1.78zM483.56,95.79h1.26v0.88h-1.26zM477.82,112.65h1.7v1.19h-1.7zM436.06,131.26h1.8v1.26h-1.8zM473.01,134.86h1.27v0.89h-1.27zM452.31,130.61h1.67v1.17h-1.67zM453.93,85.08h1.06v0.74h-1.06zM447.3,127.42h1.89v1.32h-1.89zM489.92,105.7h1.96v1.37h-1.96zM441.54,93.72h1.91v1.34h-1.91zM419.46,111.11h1.73v1.21h-1.73zM461.14,133.2h1.44v1.01h-1.44zM446.62,102.94h1.55v1.08h-1.55zM456.17,113.01h1.62v1.13h-1.62zM451.49,123.93h1.4v0.98h-1.4zM473.04,95h1.23v0.86h-1.23zM435.44,134.84h1.5v1.05h-1.5zM486.3,115.9h1.92v1.35h-1.92zM470.14,135.75h1.16v0.81h-1.16zM490.64,100.71h1.7v1.19h-1.7zM460.6,103.96h0.92v0.65h-0.92zM414.62,83.63h1.46v1.02h-1.46zM455.89,89.41h0.85v0.59h-0.85zM412.56,117.19h1.7v1.19h-1.7zM482.88,110.67h1.69v1.18h-1.69zM430.02,85.89h1.49v1.04h-1.49zM437.05,106.67h0.94v0.66h-0.94zM466.32,135.11h1.69v1.18h-1.69zM421.88,99.04h1.04v0.72h-1.04zM490.25,105.96h0.98v0.68h-0.98zM476.1,95.54h0.89v0.63h-0.89zM440.72,85.17h1.35v0.95h-1.35zM445.86,101.43h1.47v1.03h-1.47zM474.05,103.14h1.13v0.79h-1.13zM461.95,107.79h1.11v0.78h-1.11zM486.66,95.37h1.28v0.9h-1.28zM434.34,130.73h1.6v1.12h-1.6zM483.74,98.95h1.79v1.25h-1.79zM464.43,89.64h1.1v0.77h-1.1zM478.13,108.66h0.99v0.7h-0.99zM421.41,100.21h1.58v1.1h-1.58zM421.78,92.22h1.83v1.28h-1.83zM432.08,123.2h1.8v1.26h-1.8zM470.83,120.02h1.34v0.94h-1.34zM467.35,104.58h1.72v1.2h-1.72zM466.85,89.72h0.81v0.57h-0.81zM464.11,111.12h1.53v1.07h-1.53zM464.21,110.65h0.96v0.67h-0.96zM457.41,100.09h1.4v0.98h-1.4zM413.28,139.62h1.02v0.71h-1.02zM490.42,129.78h1.26v0.88h-1.26zM456.24,95.91h0.82v0.57h-0.82zM450.51,87.14h1.01v0.71h-1.01zM416.22,115.61h1.6v1.12h-1.6zM487.88,97.38h1.81v1.26h-1.81zM458.05,83.78h1.24v0.87h-1.24zM489.38,126.16h1.6v1.12h-1.6zM467,139.5h1.45v1.01h-1.45zM421.89,85.98h1.48v1.04h-1.48zM425.19,138.19h1.97v1.38h-1.97zM456.16,119.05h0.96v0.67h-0.96zM475.9,108.11h1.71v1.19h-1.71zM445.27,130.33h0.95v0.66h-0.95zM488.94,123.4h1.21v0.85h-1.21zM443.89,95.68h1.41v0.99h-1.41zM482.59,111.13h1.2v0.84h-1.2zM448.01,107.57h1.31v0.92h-1.31zM452.34,125.43h1.66v1.16h-1.66zM413.25,138.48h1.22v0.86h-1.22zM446.21,113.46h1.89v1.32h-1.89zM414.29,132.78h1.61v1.13h-1.61zM453.87,106.79h1.44v1.01h-1.44zM467.06,109.63h1.91v1.34h-1.91zM456.46,110.04h1.89v1.32h-1.89zM413.22,136.18h1.38v0.97h-1.38zM422.11,124.01h1.1v0.77h-1.1zM449.33,114.72h1.96v1.37h-1.96zM465.53,109.73h1.58v1.11h-1.58zM463.4,91.8h1.26v0.88h-1.26zM425.06,89.97h1.2v0.84h-1.2zM414.06,94h1.02v0.72h-1.02zM454.42,108.17h0.93v0.65h-0.93zM490.58,127.35h1.62v1.14h-1.62zM462.66,126.03h1.04v0.72h-1.04zM469.38,104.73h1.04v0.73h-1.04zM434.44,131.9h1.3v0.91h-1.3zM481.17,141.73h1.93v1.35h-1.93zM449.52,116.41h1.53v1.07h-1.53zM418.35,127.76h1.77v1.24h-1.77zM427.17,103.12h1.56v1.09h-1.56zM487.48,104.24h1.86v1.3h-1.86zM416.6,115.45h1.16v0.81h-1.16zM480.09,94.13h0.92v0.64h-0.92zM441.58,127.72h1.68v1.18h-1.68zM438.5,126.03h0.98v0.69h-0.98zM447.03,134.74h1v0.7h-1zM430.48,104.32h1.06v0.74h-1.06zM453.59,107.87h1.52v1.06h-1.52zM412.65,131.09h1.28v0.89h-1.28zM416.51,119.63h1.01v0.71h-1.01zM428.28,127.67h0.89v0.62h-0.89zM486.81,97.54h1.53v1.07h-1.53zM420.6,141.99h1.94v1.36h-1.94zM463.51,98.8h1.24v0.86h-1.24zM457.53,99.45h1.5v1.05h-1.5zM483.56,91.69h1.13v0.79h-1.13zM488.01,133.8h0.84v0.59h-0.84zM418.97,121.13h1.8v1.26h-1.8zM489.3,90.68h1.37v0.96h-1.37zM452.07,133.34h1.38v0.97h-1.38zM414.11,87.45h1.4v0.98h-1.4zM421.79,113.24h1.51v1.05h-1.51zM451.57,117.14h0.82v0.57h-0.82zM466.64,85.18h1.4v0.98h-1.4zM423.11,106.81h1.77v1.24h-1.77zM478.26,135.21h1.63v1.14h-1.63zM453.73,130.34h0.88v0.62h-0.88zM413.53,135.06h1.67v1.17h-1.67zM445.35,98.05h1.97v1.38h-1.97zM428.15,97.94h1.93v1.35h-1.93zM471.78,133.17h1.93v1.35h-1.93zM487.61,106.17h1.1v0.77h-1.1zM455.96,105.58h1.2v0.84h-1.2zM457.28,135.76h1.46v1.02h-1.46zM438.12,94.16h1.8v1.26h-1.8zM461.98,95.81h1.77v1.24h-1.77zM417.4,88.2h1.15v0.81h-1.15zM473.73,114h1.63v1.14h-1.63zM483.52,141.21h1.81v1.26h-1.81zM446.05,115.15h0.8v0.56h-0.8zM417.29,108.85h1.19v0.83h-1.19zM452.85,83.34h1.94v1.36h-1.94zM449.54,92.62h1.57v1.1h-1.57zM457.16,124.74h1.99v1.39h-1.99zM446.2,83.01h1.04v0.73h-1.04zM443.63,97.88h1.38v0.97h-1.38zM461.54,113.91h0.86v0.6h-0.86zM413.01,84.64h1.62v1.14h-1.62zM443.5,115.52h1.28v0.9h-1.28zM466.26,141.45h1.54v1.08h-1.54zM427.44,125.83h1.06v0.74h-1.06zM466.07,116.87h0.81v0.57h-0.81zM426.08,96.38h1.25v0.88h-1.25zM481.73,124.9h1.38v0.96h-1.38zM443.45,84.77h1.06v0.74h-1.06zM481.38,105.28h1.13v0.79h-1.13zM486.24,96.1h1.76v1.23h-1.76zM441.52,104.54h1.2v0.84h-1.2zM432.61,98.54h1.14v0.8h-1.14zM448.19,109.16h0.82v0.58h-0.82zM442.54,131.35h1.7v1.19h-1.7zM421.13,95.23h1.56v1.09h-1.56zM461.29,85.96h1.17v0.82h-1.17zM451.87,123.23h1.48v1.03h-1.48zM462.45,135.31h1.85v1.3h-1.85zM427.05,134.22h1.05v0.74h-1.05zM411.27,129.08h1.89v1.32h-1.89zM419.29,127.4h0.9v0.63h-0.9zM484.22,110.36h1.39v0.97h-1.39zM483.83,100.94h1.45v1.01h-1.45zM419.07,93.44h1.44v1.01h-1.44zM480.31,104.89h0.81v0.56h-0.81zM429.61,112.35h0.88v0.61h-0.88zM422.49,96.27h1.81v1.27h-1.81zM445.14,91.19h1.45v1.01h-1.45zM457,119.39h1.69v1.18h-1.69zM456.36,86.07h1.51v1.06h-1.51zM459.46,112.66h0.97v0.68h-0.97zM427.48,119.99h1.72v1.21h-1.72zM416.85,127.9h1.34v0.94h-1.34zM461.28,129.36h0.9v0.63h-0.9zM469.34,126.87h1.36v0.95h-1.36zM431.62,116.9h1.5v1.05h-1.5zM443.26,114.02h1.68v1.18h-1.68zM474.39,138.74h1.97v1.38h-1.97zM412.88,136.39h1.86v1.3h-1.86zM490.8,129.74h1.94v1.36h-1.94zM489.5,90.92h0.94v0.66h-0.94zM455.9,137.03h1.44v1.01h-1.44zM451.56,133.58h1.5v1.05h-1.5zM476.96,118.62h1.42v0.99h-1.42zM450.83,129.88h0.95v0.66h-0.95zM438.11,88.74h1.59v1.11h-1.59zM443.4,135.8h1.21v0.85h-1.21zM484.41,101.39h1.93v1.35h-1.93zM482.87,100.06h1.44v1.01h-1.44zM416.95,119.64h1.61v1.13h-1.61zM447.84,108.46h1.39v0.97h-1.39zM474.09,94.79h1.8v1.26h-1.8zM468.36,106.41h1.97v1.38h-1.97zM457.66,113.1h1.44v1.01h-1.44zM438.4,114.13h0.91v0.64h-0.91zM459.49,103.07h1.59v1.11h-1.59zM459.31,141.56h1.69v1.18h-1.69zM411.64,90.08h1.39v0.98h-1.39zM454.21,111.1h1.68v1.18h-1.68zM485.72,86.66h1.55v1.09h-1.55zM434.1,106.04h1.95v1.36h-1.95zM416.37,95.1h1.4v0.98h-1.4zM470.83,139.15h1.97v1.38h-1.97zM485.24,128.89h1.34v0.94h-1.34zM433.78,133.9h1.7v1.19h-1.7zM467.82,128.51h1.9v1.33h-1.9zM454.7,98.06h0.81v0.57h-0.81zM430.21,121.72h1.24v0.87h-1.24zM426.73,90.82h0.84v0.59h-0.84zM456.66,121.8h1.94v1.36h-1.94zM473.56,92.21h1.05v0.73h-1.05zM488.33,100.14h1.45v1.01h-1.45zM475.33,120.73h0.85v0.59h-0.85zM448.77,114.42h1.44v1.01h-1.44zM419.93,139.85h1.4v0.98h-1.4zM464.79,128.22h1.1v0.77h-1.1zM413.1,119.31h1.89v1.32h-1.89zM482.14,134.78h1.04v0.73h-1.04zM481.69,87.49h1.14v0.8h-1.14zM477.04,88.5h1.74v1.22h-1.74zM474.65,136.52h1.83v1.28h-1.83zM468.4,92.87h0.94v0.66h-0.94zM417.4,101.36h1.17v0.82h-1.17zM490.29,133.39h0.91v0.64h-0.91zM448.66,130.28h1.27v0.89h-1.27zM452.75,134.71h1.9v1.33h-1.9zM424.71,131.42h1.34v0.94h-1.34zM412.81,100.88h1.87v1.31h-1.87zM425.71,92.75h1.95v1.36h-1.95zM445.64,136.86h1.14v0.8h-1.14zM415.9,137.02h1.18v0.83h-1.18zM486.22,122.68h1.8v1.26h-1.8zM436.63,125.05h1.78v1.25h-1.78zM465.33,137.53h1.89v1.32h-1.89zM456.37,138.61h1.66v1.16h-1.66zM483.84,91.43h1.16v0.81h-1.16zM423.06,84.42h1.59v1.11h-1.59zM488.66,120.12h1.97v1.38h-1.97zM476.73,119.51h1.28v0.9h-1.28zM426.83,139.48h1.93v1.35h-1.93zM482.91,102.69h1.7v1.19h-1.7zM453.83,131.58h1.48v1.04h-1.48zM411.93,99.37h1.12v0.79h-1.12zM437.28,103.34h0.82v0.58h-0.82zM451.9,138.49h1.54v1.08h-1.54zM428.05,140.31h1.85v1.3h-1.85zM481.63,89.89h1.65v1.15h-1.65zM437.31,130.03h1.25v0.87h-1.25zM430.67,140.15h1.83v1.28h-1.83zM462.87,111.38h1.48v1.04h-1.48zM463.72,108.26h1.29v0.9h-1.29zM432.25,119.89h1.14v0.8h-1.14zM444.4,100h1.9v1.33h-1.9zM452.52,91.85h0.95v0.66h-0.95zM472.73,138.29h1.07v0.75h-1.07zM456.65,111.72h1.33v0.93h-1.33zM466.86,130.43h1.78v1.25h-1.78zM428.69,118.56h0.99v0.69h-0.99zM425.93,103.41h1.49v1.04h-1.49zM450.39,85.78h1.39v0.97h-1.39zM424.57,93.13h1.84v1.29h-1.84zM462.81,97.57h1.73v1.21h-1.73zM489.55,133.36h0.98v0.68h-0.98zM463.79,107.19h1.33v0.93h-1.33zM425.74,90.39h1.97v1.38h-1.97zM447.56,92.73h1.36v0.95h-1.36zM447.51,92.2h1.69v1.18h-1.69zM461.06,125.53h1.81v1.27h-1.81zM481.28,141.99h1.65v1.15h-1.65zM489.51,141.27h1.03v0.72h-1.03zM442.26,111.39h1.36v0.95h-1.36zM418.77,106.17h1.75v1.22h-1.75zM451.76,122.32h1.63v1.14h-1.63zM461.13,83.77h1.26v0.88h-1.26zM470.78,104.62h1.96v1.37h-1.96zM487.76,113.24h1.98v1.38h-1.98zM427.66,111.36h1.91v1.34h-1.91zM418.17,113.18h1.3v0.91h-1.3zM442.14,108.58h1.52v1.07h-1.52zM484.93,86.03h0.97v0.68h-0.97zM465.95,114.86h1.67v1.17h-1.67zM478.63,131.46h1.18v0.83h-1.18zM428.3,119.62h0.87v0.61h-0.87zM458.54,119.58h1.38v0.97h-1.38zM479.29,86.96h0.82v0.58h-0.82zM485.57,132.69h0.84v0.59h-0.84zM468.61,117.62h0.97v0.68h-0.97zM444.1,118.22h1.53v1.07h-1.53zM427.12,83.69h0.88v0.61h-0.88zM430.29,101.46h1.05v0.73h-1.05zM438.34,89h1.27v0.89h-1.27zM437.8,100.68h1.26v0.88h-1.26zM480.03,129.55h0.95v0.67h-0.95zM418.92,116.18h0.9v0.63h-0.9zM475.95,104.96h1.98v1.38h-1.98zM440.42,114.89h0.88v0.61h-0.88zM424.77,93.7h1.93v1.35h-1.93zM490.55,120.63h1.55v1.09h-1.55zM472.01,109.02h1.92v1.34h-1.92zM429.69,136.8h0.82v0.58h-0.82zM458.08,119.35h1.71v1.2h-1.71zM425.52,103.19h1.9v1.33h-1.9zM426.78,100.46h1.49v1.04h-1.49zM490.04,102.51h1.01v0.7h-1.01zM420.87,141.26h1.11v0.77h-1.11zM470.46,87.23h1.31v0.92h-1.31zM457.73,126.36h1.56v1.09h-1.56zM444.79,92.77h1.3v0.91h-1.3zM448.13,101.65h0.97v0.68h-0.97zM481.78,94.42h1.25v0.88h-1.25zM447.94,92.77h1.74v1.22h-1.74zM423.85,132.09h0.83v0.58h-0.83zM412.9,113.51h1.44v1.01h-1.44zM447.69,137.12h1.7v1.19h-1.7zM476.96,128.96h1.78v1.25h-1.78zM475.56,135.47h1.71v1.2h-1.71zM425.57,113.32h1.64v1.15h-1.64zM451.72,112.96h1.19v0.83h-1.19zM424.71,136.24h1.24v0.87h-1.24zM413.02,104.14h2v1.4h-2zM412.52,141.31h1.03v0.72h-1.03zM413.74,141.64h1.11v0.78h-1.11zM488.85,98.26h1.22v0.86h-1.22zM489.53,98.21h1.78v1.25h-1.78zM478.03,106.47h0.95v0.66h-0.95zM475.6,92.27h1.24v0.87h-1.24zM427.12,136.04h1.14v0.8h-1.14zM454.92,122.68h1.12v0.78h-1.12zM456.53,125.36h1.98v1.39h-1.98zM445.49,103.28h1.22v0.85h-1.22zM455.71,101.63h1.29v0.9h-1.29z" fill="#8292b8" opacity="0.9"/><path d="M462.18,126.47h1.67v1.17h-1.67zM463.56,91.31h1.61v1.13h-1.61zM428.26,133.04h1.88v1.31h-1.88zM433.08,139.29h1.56v1.09h-1.56zM469.61,125.89h1.6v1.12h-1.6zM421.98,117.74h1.97v1.38h-1.97zM477,109.62h1.98v1.38h-1.98zM483.04,109.19h1.82v1.27h-1.82zM432.26,91.61h1.4v0.98h-1.4zM475.82,124.21h1.17v0.82h-1.17zM450.44,128.43h1.68v1.17h-1.68zM486.99,91.8h1.69v1.18h-1.69zM464.3,99.68h1.95v1.36h-1.95zM450.57,120.69h1.99v1.39h-1.99zM454.03,122.23h1.5v1.05h-1.5zM478.17,122.71h0.97v0.68h-0.97zM415.48,136.19h1.71v1.19h-1.71zM421.11,134.28h1.59v1.12h-1.59zM459.57,127.4h1.91v1.34h-1.91zM435.17,86.3h1.61v1.13h-1.61zM435.96,125.45h1.62v1.13h-1.62zM465.03,130.96h0.99v0.69h-0.99zM425.46,113.69h1v0.7h-1zM451.31,98.8h1.98v1.39h-1.98zM478.02,129.54h1.84v1.29h-1.84zM430.58,114.32h1.54v1.08h-1.54zM414.99,97.69h1.79v1.25h-1.79zM431.58,136.44h1.36v0.96h-1.36zM451.01,90.26h1.82v1.28h-1.82zM443.7,96.09h1v0.7h-1zM424.2,128.79h1.24v0.87h-1.24zM458.39,103.47h1.91v1.34h-1.91zM452.18,110.4h1.93v1.35h-1.93zM476.16,140.86h1.72v1.2h-1.72zM429.32,110.24h1.75v1.22h-1.75zM429.47,109.37h0.95v0.67h-0.95zM446.44,115.79h1.01v0.71h-1.01zM458.83,91.73h1.39v0.98h-1.39zM466.42,126.07h1.32v0.92h-1.32zM424.78,140.62h1.45v1.02h-1.45zM449.96,85.26h1.71v1.2h-1.71zM473.95,125.45h1.35v0.94h-1.35zM448.1,131.54h1.92v1.34h-1.92zM458.49,120.74h1.81v1.26h-1.81zM438.11,93.38h1.7v1.19h-1.7zM460.28,103.1h1.81v1.27h-1.81zM471.34,84.95h1.41v0.99h-1.41zM467.29,136.49h1.65v1.16h-1.65zM429.92,91.9h1.96v1.37h-1.96zM479.76,108.01h1.29v0.91h-1.29zM472.29,121h1.12v0.78h-1.12zM449.86,140.71h1.34v0.94h-1.34zM412.66,89.21h0.98v0.69h-0.98zM463.23,104.69h1.59v1.11h-1.59zM433.89,129.73h1.4v0.98h-1.4zM485.86,128.14h1.37v0.96h-1.37zM488.81,102.05h1.36v0.95h-1.36zM439.48,84.9h1.17v0.82h-1.17zM416.69,89.79h0.94v0.66h-0.94zM440.73,115.82h1.48v1.04h-1.48zM461.88,94.06h1.15v0.8h-1.15zM421.12,136.42h0.99v0.69h-0.99zM461.55,112.21h0.89v0.62h-0.89zM477.43,112.9h1.47v1.03h-1.47zM471.04,101.04h1.27v0.89h-1.27zM422.48,134.8h1.26v0.88h-1.26zM478.9,133.28h1.29v0.9h-1.29zM458.73,96.99h1.38v0.96h-1.38zM436.22,137.86h1.6v1.12h-1.6zM482.83,97.68h1.05v0.73h-1.05zM411.16,117.62h1.15v0.81h-1.15zM432.97,109.62h1.48v1.04h-1.48zM471.1,135.25h1.03v0.72h-1.03zM450.47,137.24h1.18v0.83h-1.18zM455.35,109.29h1.7v1.19h-1.7zM469.27,106.53h1.12v0.78h-1.12zM461.41,138.12h1.28v0.9h-1.28zM450.97,97.57h1.86v1.31h-1.86zM415.34,105.49h0.91v0.64h-0.91zM446.31,118.39h0.93v0.65h-0.93zM464.32,98.69h1.05v0.74h-1.05zM438.03,137.82h1.86v1.3h-1.86zM435.13,84.84h0.92v0.64h-0.92zM447.22,84.51h1.63v1.14h-1.63zM458.91,107.36h0.98v0.69h-0.98zM487.45,104.72h1.1v0.77h-1.1zM489.8,127.29h1.45v1.02h-1.45zM439.05,130.7h1.64v1.15h-1.64zM481.75,140.66h1.5v1.05h-1.5zM477.17,136.89h1.05v0.73h-1.05zM461.23,133.07h1.76v1.23h-1.76zM470.21,110.11h1.84v1.29h-1.84zM450.28,100.36h1.33v0.93h-1.33zM476.96,87.66h0.81v0.57h-0.81zM416.06,90.85h1.08v0.75h-1.08zM421.97,84.08h1.12v0.79h-1.12zM459.31,126.86h1.37v0.96h-1.37zM485.13,85.56h1.86v1.3h-1.86zM414.85,118.4h1.05v0.73h-1.05zM468.39,127.08h1.78v1.24h-1.78zM434.58,92.32h1.71v1.2h-1.71zM465.96,109.82h1.32v0.92h-1.32zM451.11,139.35h0.95v0.67h-0.95zM458.64,133.64h0.92v0.65h-0.92zM470.44,131.32h1.1v0.77h-1.1zM438.48,108.24h1.99v1.39h-1.99zM483.63,137.78h1.24v0.87h-1.24zM481.77,112.27h1.52v1.06h-1.52zM463.74,126.5h1.2v0.84h-1.2zM440.78,90.36h1.84v1.29h-1.84zM447.23,139.64h1.12v0.78h-1.12zM461.25,141.82h1.64v1.15h-1.64zM482.64,138.04h1.44v1.01h-1.44zM425.57,120.12h1.58v1.11h-1.58zM436.72,93.82h1.22v0.85h-1.22zM473.41,101.77h1.75v1.23h-1.75zM440.01,130.36h1.53v1.07h-1.53zM486.21,96.35h1.72v1.21h-1.72zM446.89,95.15h1v0.7h-1zM430.75,123.08h1.82v1.27h-1.82zM435.3,103.04h0.95v0.66h-0.95zM453.35,89.51h1.18v0.82h-1.18zM483.49,113.57h1.17v0.82h-1.17zM471.31,83.05h1.69v1.18h-1.69zM475.53,111.72h1.06v0.74h-1.06zM428.9,136.11h1.66v1.16h-1.66zM488.9,94.29h1.3v0.91h-1.3zM473.56,117.58h1.38v0.97h-1.38zM421.62,138.61h1.05v0.74h-1.05zM468.6,118.63h1.74v1.22h-1.74zM472.66,110.18h1.45v1.01h-1.45zM417.25,127.32h1.14v0.8h-1.14zM420.5,85.59h1.15v0.81h-1.15zM421.46,92.97h1.28v0.9h-1.28zM438.71,98.85h1.02v0.71h-1.02zM459.82,114.82h1.27v0.89h-1.27zM426.52,129.29h0.92v0.65h-0.92zM441.59,95.19h1.67v1.17h-1.67zM453.82,136.7h1.6v1.12h-1.6zM462.57,87.67h0.81v0.57h-0.81zM462.26,129.29h1.83v1.28h-1.83zM490.12,134.71h1.46v1.02h-1.46zM465.98,103.87h1.97v1.38h-1.97zM488.96,124.74h1.08v0.75h-1.08zM456,123.37h1.78v1.24h-1.78zM462.55,130.13h1.73v1.21h-1.73zM463.26,89.84h1.68v1.18h-1.68zM448.52,130.12h0.93v0.65h-0.93zM450.17,101.73h1.38v0.97h-1.38zM489.56,128.42h1.86v1.3h-1.86zM478.05,86.65h1.67v1.17h-1.67zM470.51,127.7h1.1v0.77h-1.1zM440.91,121.22h1.13v0.79h-1.13zM451.46,107.31h0.89v0.62h-0.89zM416.76,95.13h1.35v0.94h-1.35zM484.22,128h1.17v0.82h-1.17zM473.85,130.7h1.91v1.34h-1.91zM467.15,119.42h1.6v1.12h-1.6zM417,118.12h0.85v0.6h-0.85zM461.71,122.32h1.25v0.88h-1.25zM424.9,113.41h0.99v0.69h-0.99zM441.52,124.65h0.84v0.59h-0.84zM485.85,135.32h1.24v0.87h-1.24zM476.82,131.19h1.65v1.16h-1.65zM444.53,104.37h1.04v0.73h-1.04zM475.2,122.63h1.96v1.37h-1.96zM460.49,83.24h1.04v0.73h-1.04zM414.58,100.12h1.49v1.04h-1.49zM455.14,118.74h1.24v0.87h-1.24zM484.12,108.79h1.08v0.76h-1.08zM444.04,105.73h1.02v0.71h-1.02zM456.87,114.15h0.82v0.57h-0.82zM434.95,89.9h1.21v0.84h-1.21zM424.43,87h1.25v0.87h-1.25zM414.28,86.96h1.67v1.17h-1.67zM428.91,128.16h1.3v0.91h-1.3zM456.53,132.26h0.93v0.65h-0.93zM412.88,103.87h1.94v1.36h-1.94zM439.71,107.15h1.53v1.07h-1.53zM411.11,117.96h1.59v1.11h-1.59zM483.71,121.06h1.6v1.12h-1.6zM418.51,109.23h1.05v0.74h-1.05zM435.39,87.41h1.26v0.89h-1.26zM423,100.85h0.84v0.59h-0.84zM488.99,107.18h1.2v0.84h-1.2zM466,127.27h1.61v1.13h-1.61zM436.27,115.13h1.32v0.92h-1.32zM471.4,106.13h1.91v1.34h-1.91zM444.04,95.96h1.84v1.29h-1.84zM416.41,141.63h1.99v1.39h-1.99zM450.36,101.76h0.94v0.65h-0.94zM446.98,125.43h1.05v0.73h-1.05zM465.93,101.28h1.45v1.02h-1.45zM474.48,111.59h1.59v1.11h-1.59zM438.79,117.35h1.78v1.24h-1.78zM481.51,139.03h1.14v0.8h-1.14zM419.15,84.66h0.99v0.69h-0.99zM468.39,94.13h1.72v1.2h-1.72zM415.33,129.3h1.29v0.9h-1.29zM423.69,118.06h1.71v1.19h-1.71z" fill="#dde2ea" opacity="0.9"/></g><g fill="#7c4818" filter="url(#bl2)"><path d="M409.5,90.5C410.26,86.36 414.66,89.5 416,89.5C417.34,89.5 419.83,90.09 421,90.5C422.17,90.91 424.72,92.24 426,93C427.28,93.76 430.83,95.95 432,97C433.17,98.05 435.59,100.72 436,102C436.41,103.28 436.02,106.83 435.5,108C434.98,109.17 432.61,111.18 431.5,112C430.39,112.82 426.99,114.07 426,115C425.01,115.93 423.12,118.72 423,120C422.88,121.28 425.35,124.89 425,126C424.65,127.11 421.28,129.27 420,129.5C418.72,129.73 415.23,128.53 414,128C412.77,127.47 410.02,129.38 409.5,125C408.98,120.62 408.74,94.64 409.5,90.5Z"/><path d="M429,83.8C430.63,83.25 440.45,82.59 445,82.5C449.55,82.41 465.43,82.42 468,83C470.57,83.58 468.52,86.88 467,87.5C465.48,88.12 458.15,88.24 455,88.3C451.85,88.36 442.8,88.13 440,88C437.2,87.87 432.28,87.69 431,87.2C429.72,86.71 427.37,84.35 429,83.8Z"/><path d="M469,86C469.47,85.12 473.32,82.97 476,82.5C478.68,82.03 490.13,80.54 492,82C493.87,83.46 492.82,93.54 492,95C491.18,96.46 486.57,94.79 485,94.5C483.43,94.21 480.02,93.03 478.5,92.5C476.98,91.97 473.11,90.76 472,90C470.89,89.24 468.53,86.88 469,86Z"/><path d="M437,106C438.05,104.37 443.9,102.71 446,103C448.1,103.29 452.84,107.57 455,108.5C457.16,109.43 462.05,111 464.5,111C466.95,111 473.84,108.21 476,108.5C478.16,108.79 482.42,111.63 483,113.5C483.58,115.37 482.05,122.4 481,124.5C479.95,126.6 475.63,130.16 474,131.5C472.37,132.84 468.87,135.71 467,136C465.13,136.29 459.87,133.94 458,134C456.13,134.06 452.87,136.5 451,136.5C449.13,136.5 443.87,135.11 442,134C440.13,132.89 435.58,128.98 435,127C434.42,125.02 436.77,119.45 437,117C437.23,114.55 435.95,107.63 437,106Z"/><path d="M476,97.5C476.35,95.98 482.13,96.12 484,96C485.87,95.88 491.07,94.75 492,96.5C492.93,98.25 493.28,109.54 492,111C490.72,112.46 482.87,110.58 481,109C479.13,107.42 475.65,99.02 476,97.5Z"/><path d="M484,110C485.28,108.6 491.07,104.27 492,108C492.93,111.73 493.4,138.03 492,142C490.6,145.97 481.52,143.4 480,142C478.48,140.6 478.88,132.57 479,130C479.12,127.43 480.42,122.33 481,120C481.58,117.67 482.72,111.4 484,110Z"/><path d="M417,131.5C417.93,130.22 423.43,130.71 425,131C426.57,131.29 429.57,132.72 430.5,134C431.43,135.28 434.57,141.07 433,142C431.43,142.93 418.87,143.22 417,142C415.13,140.78 416.07,132.78 417,131.5Z"/><path d="M446,90.2C446.7,89.44 450.6,89.41 452,89.5C453.4,89.59 457.36,90.12 458,91C458.64,91.88 458.32,96.24 457.5,97C456.68,97.76 452.34,97.62 451,97.5C449.66,97.38 446.58,96.85 446,96C445.42,95.15 445.3,90.96 446,90.2Z"/><path d="M440,114C440.82,112.25 446.83,110.3 448,111C449.17,111.7 450.12,118.02 450,120C449.88,121.98 448.05,127.3 447,128C445.95,128.7 441.82,127.63 441,126C440.18,124.37 439.18,115.75 440,114Z"/><path d="M448,136C449.05,135.18 454.72,134.3 456,135C457.28,135.7 460.05,141.18 459,142C457.95,142.82 448.28,142.7 447,142C445.72,141.3 446.95,136.82 448,136Z"/></g><g fill="#52270a" filter="url(#bl2)"><path d="M414.99,97.9C415.44,95.42 418.08,97.3 418.89,97.3C419.69,97.3 421.19,97.66 421.89,97.9C422.59,98.15 424.12,98.95 424.89,99.4C425.66,99.86 427.79,101.17 428.49,101.8C429.19,102.43 430.64,104.03 430.89,104.8C431.13,105.57 430.9,107.7 430.59,108.4C430.27,109.1 428.85,110.31 428.19,110.8C427.52,111.29 425.48,112.04 424.89,112.6C424.29,113.16 423.16,114.83 423.09,115.6C423.02,116.37 424.5,118.53 424.29,119.2C424.08,119.87 422.06,121.16 421.29,121.3C420.52,121.44 418.42,120.72 417.69,120.4C416.95,120.09 415.3,121.22 414.99,118.6C414.67,115.97 414.53,100.39 414.99,97.9Z"/><path d="M436.54,84.58C437.52,84.25 443.41,83.86 446.14,83.8C448.87,83.75 458.4,83.75 459.94,84.1C461.48,84.45 460.25,86.43 459.34,86.8C458.43,87.17 454.03,87.25 452.14,87.28C450.25,87.32 444.82,87.18 443.14,87.1C441.46,87.03 438.51,86.92 437.74,86.62C436.97,86.33 435.56,84.91 436.54,84.58Z"/><path d="M473.66,87.17C473.94,86.65 476.25,85.35 477.86,85.07C479.47,84.79 486.34,83.9 487.46,84.77C488.58,85.65 487.95,91.7 487.46,92.57C486.97,93.45 484.2,92.45 483.26,92.27C482.31,92.1 480.27,91.39 479.36,91.07C478.45,90.76 476.12,90.03 475.46,89.57C474.79,89.12 473.38,87.7 473.66,87.17Z"/><path d="M445.24,111.91C445.87,110.93 449.38,109.94 450.64,110.11C451.9,110.29 454.75,112.85 456.04,113.41C457.34,113.97 460.27,114.91 461.74,114.91C463.21,114.91 467.35,113.24 468.64,113.41C469.94,113.59 472.49,115.29 472.84,116.41C473.19,117.53 472.27,121.75 471.64,123.01C471.01,124.27 468.42,126.41 467.44,127.21C466.46,128.02 464.36,129.74 463.24,129.91C462.12,130.09 458.96,128.68 457.84,128.71C456.72,128.75 454.76,130.21 453.64,130.21C452.52,130.21 449.36,129.38 448.24,128.71C447.12,128.05 444.39,125.7 444.04,124.51C443.69,123.32 445.1,119.98 445.24,118.51C445.38,117.04 444.61,112.89 445.24,111.91Z"/><path d="M479.6,99.3C479.81,98.39 483.28,98.47 484.4,98.4C485.52,98.33 488.64,97.65 489.2,98.7C489.76,99.75 489.97,106.53 489.2,107.4C488.43,108.28 483.72,107.15 482.6,106.2C481.48,105.25 479.39,100.21 479.6,99.3Z"/><path d="M484.27,116.13C485.04,115.29 488.51,112.69 489.07,114.93C489.63,117.17 489.91,132.95 489.07,135.33C488.23,137.71 482.78,136.17 481.87,135.33C480.96,134.49 481.2,129.67 481.27,128.13C481.34,126.59 482.12,123.53 482.47,122.13C482.82,120.73 483.5,116.97 484.27,116.13Z"/><path d="M420,133.34C420.56,132.57 423.86,132.86 424.8,133.04C425.75,133.22 427.54,134.07 428.1,134.84C428.66,135.61 430.55,139.08 429.6,139.64C428.66,140.2 421.12,140.37 420,139.64C418.88,138.91 419.44,134.11 420,133.34Z"/><path d="M448.3,91.53C448.72,91.08 451.06,91.06 451.9,91.11C452.74,91.17 455.12,91.49 455.5,92.01C455.88,92.54 455.69,95.16 455.2,95.61C454.71,96.07 452.11,95.98 451.3,95.91C450.5,95.84 448.65,95.52 448.3,95.01C447.95,94.5 447.88,91.99 448.3,91.53Z"/><path d="M442.08,116.32C442.57,115.27 446.18,114.1 446.88,114.52C447.58,114.94 448.15,118.73 448.08,119.92C448.01,121.11 446.91,124.3 446.28,124.72C445.65,125.14 443.17,124.5 442.68,123.52C442.19,122.54 441.59,117.37 442.08,116.32Z"/><path d="M449.8,137.1C450.43,136.61 453.83,136.08 454.6,136.5C455.37,136.92 457.03,140.21 456.4,140.7C455.77,141.19 449.97,141.12 449.2,140.7C448.43,140.28 449.17,137.59 449.8,137.1Z"/></g><g filter="url(#bl)"><path d="M415.57,107.35h0.93v0.65h-0.93zM487.27,108.33h1.46v1.02h-1.46zM458.8,131.33h2.11v1.48h-2.11zM477.87,126.52h1.75v1.23h-1.75zM415.18,116.6h1.17v0.82h-1.17zM484.53,84.27h1.36v0.95h-1.36zM448.58,87.72h1.26v0.89h-1.26zM441.57,89.02h1.88v1.31h-1.88zM418.37,133.32h1.76v1.23h-1.76zM487.98,104.02h1.88v1.31h-1.88zM418.91,137.3h1.27v0.89h-1.27zM422.14,107.87h0.98v0.69h-0.98zM457.01,120.43h1.14v0.79h-1.14zM465.38,119.57h2.15v1.5h-2.15zM419.68,114.12h0.87v0.61h-0.87zM480.4,132.76h1.35v0.95h-1.35zM458.18,126.71h1.71v1.2h-1.71zM469.03,126.97h1.48v1.04h-1.48zM454.4,107.02h1.65v1.16h-1.65zM483.89,85.08h1.87v1.31h-1.87zM427.76,119.96h1.87v1.31h-1.87zM423.26,116.27h1.84v1.29h-1.84zM454.65,87.5h1.97v1.38h-1.97zM455.14,83.34h1.01v0.71h-1.01zM421.17,121.18h1.87v1.31h-1.87zM440.09,121.03h1.59v1.11h-1.59zM479.62,97.2h0.98v0.68h-0.98zM418.13,133.66h1.43v1h-1.43zM453.14,124.05h1.03v0.72h-1.03zM413.02,105.94h0.99v0.69h-0.99zM420.4,133.05h1.67v1.17h-1.67zM485.92,103.5h1v0.7h-1zM452.18,106.77h2.03v1.42h-2.03zM481.95,108.16h1.12v0.78h-1.12zM456.39,129.05h1.71v1.19h-1.71zM485.17,87.7h1.83v1.28h-1.83zM467.2,125.53h1.52v1.06h-1.52zM421.84,103.37h1.14v0.8h-1.14zM487.65,128.74h2.08v1.46h-2.08zM457.11,86.43h1.84v1.29h-1.84zM439.99,121.48h1.41v0.99h-1.41zM456.47,92.51h2.06v1.44h-2.06zM483.58,116.69h1.03v0.72h-1.03zM443.14,112.93h1.21v0.84h-1.21zM459.36,113.21h0.94v0.66h-0.94zM452.7,130.65h1.05v0.74h-1.05zM484.23,94.96h0.98v0.69h-0.98zM481.8,98.58h0.92v0.64h-0.92zM419.76,117.55h1.84v1.29h-1.84zM451.33,132.08h1.04v0.73h-1.04zM479.59,91.19h1.55v1.09h-1.55zM413.18,106.51h1.99v1.39h-1.99zM465.66,117.07h1.02v0.71h-1.02zM485.36,131.22h1.86v1.3h-1.86zM429.58,106.85h1.98v1.39h-1.98zM444.38,112.79h1.87v1.31h-1.87zM418.82,119.68h1.64v1.15h-1.64zM413.31,104.77h1.7v1.19h-1.7zM416.88,113.44h1.04v0.73h-1.04zM476.66,87.14h0.81v0.57h-0.81zM483.84,105.91h1.91v1.33h-1.91zM449.33,111.87h1.34v0.94h-1.34zM475.94,121.99h1.83v1.28h-1.83zM452.24,125.32h1.54v1.07h-1.54zM482.23,130.81h1.6v1.12h-1.6zM454.87,141.01h0.87v0.61h-0.87zM467.23,112.13h1.6v1.12h-1.6zM483.48,122.25h2.16v1.51h-2.16zM415.05,115.86h1.89v1.32h-1.89zM485.13,105.31h1.18v0.82h-1.18zM430.05,138.26h1.75v1.22h-1.75zM453.63,137.27h1.84v1.29h-1.84zM453.7,128.59h1.73v1.21h-1.73zM414.58,112.55h1.87v1.31h-1.87zM428.84,135.42h1.45v1.02h-1.45zM464.18,134.3h1.92v1.34h-1.92zM425.2,116.71h1.63v1.14h-1.63zM458.9,106.41h1.05v0.73h-1.05zM485.12,122.96h1.77v1.24h-1.77zM412.94,114.31h1.55v1.08h-1.55zM423.57,119.48h2.02v1.41h-2.02zM478.74,115.45h1.95v1.36h-1.95zM472.7,116.25h1.25v0.87h-1.25zM468.13,110.85h0.9v0.63h-0.9zM475.29,130.71h1.58v1.1h-1.58zM462.69,116.08h1.2v0.84h-1.2zM435.64,105.8h2.07v1.45h-2.07zM419.91,98.64h1.77v1.24h-1.77zM474.95,92.24h1.2v0.84h-1.2zM426.72,108.65h2.07v1.45h-2.07zM449.84,125.72h1.02v0.71h-1.02zM453.85,96.03h1.11v0.77h-1.11zM435.62,105.8h1.8v1.26h-1.8zM419.14,98.47h2.16v1.51h-2.16zM439.86,84.23h2.02v1.41h-2.02zM411.5,105.33h1.8v1.26h-1.8zM486.32,135.62h2.11v1.48h-2.11zM429.64,101.96h1.71v1.2h-1.71zM461.19,131.41h0.97v0.68h-0.97zM440.8,119.95h0.92v0.65h-0.92zM451.36,134.77h0.83v0.58h-0.83zM477.81,125.42h1.4v0.98h-1.4zM439.47,120.06h0.98v0.69h-0.98zM448.96,134.11h1.45v1.01h-1.45zM487.29,92.4h1.95v1.37h-1.95zM487.53,107.65h1.97v1.38h-1.97zM439.27,83.23h0.91v0.64h-0.91zM425.83,122.44h1.53v1.07h-1.53zM442.78,119.02h1.25v0.87h-1.25zM470.87,126.6h1.57v1.1h-1.57z" fill="#d9c4a0" opacity="0.65"/><path d="M485.38,100.45h2.04v1.43h-2.04zM456.65,87.13h1.18v0.82h-1.18zM462.74,123.2h1.52v1.06h-1.52zM446.7,130.79h2.1v1.47h-2.1zM466.04,128.26h1.34v0.94h-1.34zM446.22,120.59h1.64v1.15h-1.64zM481.38,117.54h2.11v1.48h-2.11zM487.94,129.97h1.3v0.91h-1.3zM438.31,85.81h1.56v1.1h-1.56zM441.15,95.01h2.15v1.51h-2.15zM442.51,84.16h1.62v1.14h-1.62zM440.34,93.65h1.98v1.39h-1.98zM444.2,129.07h1.86v1.3h-1.86zM487.47,102.89h1.05v0.74h-1.05zM426.58,118h1.16v0.81h-1.16zM479.43,105.73h1.41v0.99h-1.41zM482.16,124.51h1.84v1.29h-1.84zM483.43,130.63h1.01v0.71h-1.01zM483.79,94.7h2.02v1.41h-2.02zM444.85,83.41h2.18v1.53h-2.18zM412.47,111.7h1.58v1.11h-1.58zM468.6,108.49h1.71v1.2h-1.71zM456.51,91.58h1.53v1.07h-1.53zM479.28,115.3h1.06v0.74h-1.06zM423.91,120.79h1.17v0.82h-1.17zM453.3,140.03h1.73v1.21h-1.73zM447.34,130.27h1.73v1.21h-1.73zM478.01,83.71h2.18v1.53h-2.18zM424.27,95.9h1.79v1.26h-1.79zM463.77,128.39h1.47v1.03h-1.47zM485.14,126.07h1.11v0.77h-1.11zM462.12,105.44h1.45v1.02h-1.45zM447.14,109.53h1.27v0.89h-1.27zM433.84,106.18h1.58v1.11h-1.58zM424.36,104.2h1.08v0.76h-1.08zM483.6,95.81h1.98v1.39h-1.98zM429.42,139.01h1.35v0.94h-1.35zM447.39,132.82h1.55v1.09h-1.55zM447.68,121.44h1.03v0.72h-1.03zM483.58,125.05h1.83v1.28h-1.83zM458.52,122.92h1.21v0.85h-1.21zM443.62,92.61h1.6v1.12h-1.6zM414.1,101.25h1.82v1.27h-1.82zM417.43,108.76h1.67v1.17h-1.67zM414.68,113.7h1.9v1.33h-1.9zM480.02,85.61h1.83v1.28h-1.83zM480.55,101.37h2.19v1.53h-2.19zM483.16,97.75h2.22v1.56h-2.22zM483.77,83.13h2.24v1.57h-2.24zM453.22,133.49h2.19v1.53h-2.19zM419.27,103.27h1.42v0.99h-1.42zM448.22,120.81h2.14v1.5h-2.14zM414.28,109.67h1.45v1.02h-1.45zM461.37,125.43h2v1.4h-2zM480.17,101.41h1.98v1.38h-1.98zM465.98,119.76h1.66v1.16h-1.66zM462.14,106.28h1.02v0.71h-1.02zM447.87,130.33h1.9v1.33h-1.9zM424.94,119.95h1.43v1h-1.43zM430.67,134.48h1.02v0.71h-1.02zM452.39,91.37h1.39v0.97h-1.39zM462.68,123.03h1.24v0.87h-1.24zM465.54,117.54h1.92v1.35h-1.92zM423.25,97.48h1.19v0.83h-1.19zM471.28,119.81h1.22v0.85h-1.22zM439.86,88.7h1.03v0.72h-1.03zM415.64,109.1h1.23v0.86h-1.23zM463.23,114.28h1.58v1.11h-1.58zM437.68,83.95h1.99v1.4h-1.99zM486.37,129.65h1.71v1.2h-1.71zM455.62,135.31h1.34v0.93h-1.34zM458.04,118.2h1.84v1.29h-1.84zM434.2,109.97h1.71v1.2h-1.71zM449.88,121.06h1.76v1.23h-1.76zM442.74,115.47h2.36v1.65h-2.36zM451.54,141.79h1.23v0.86h-1.23zM458.96,118.98h2.25v1.57h-2.25zM438.85,119.34h1.35v0.95h-1.35zM442.1,87.45h1.39v0.97h-1.39zM431.39,103.23h1.94v1.36h-1.94zM421.96,130.59h1.11v0.78h-1.11zM450.97,83.74h1.09v0.76h-1.09zM462.7,121.3h1.13v0.79h-1.13zM460.67,108.22h2.22v1.55h-2.22zM457.12,114.01h2.39v1.67h-2.39zM433.1,109.78h2.08v1.46h-2.08zM422.27,101.68h2.21v1.55h-2.21zM442.86,85.65h1.58v1.11h-1.58zM432.29,102.74h1.02v0.71h-1.02zM428.29,109.34h2.06v1.44h-2.06zM451.51,92.87h1.25v0.87h-1.25zM454.04,88.34h1.23v0.86h-1.23zM487.41,134.61h1.86v1.3h-1.86zM457.5,83.28h1.15v0.8h-1.15zM489.78,114.83h1.68v1.18h-1.68zM421.24,106.26h1.49v1.04h-1.49zM436.92,84.51h2.35v1.65h-2.35zM449.72,107.23h2.06v1.44h-2.06zM462.32,114.81h1.2v0.84h-1.2zM429.55,119.89h2.04v1.43h-2.04zM488.75,123.3h1.89v1.32h-1.89zM484.19,117.31h1.08v0.75h-1.08zM426.3,116.65h1.57v1.1h-1.57zM469.13,123.71h1.1v0.77h-1.1zM416.73,99.05h1.67v1.17h-1.67zM475.15,86.84h1.34v0.94h-1.34zM465.69,106.91h1.9v1.33h-1.9zM413.5,99.35h2.39v1.67h-2.39zM433.82,103.56h2.38v1.66h-2.38zM448.37,91.27h2.07v1.45h-2.07z" fill="#a06a30" opacity="0.6"/></g></g><text x="425.4" y="80.7" font-size="9" fill="#111">H-score 290</text><line x1="81.5" y1="297.3" x2="508" y2="297.3" stroke="#c9ced6" stroke-width="1.05"/><line x1="81.5" y1="273.72" x2="508" y2="273.72" stroke="#cdcdcd" stroke-width="1.05"/><line x1="81.5" y1="250.13" x2="508" y2="250.13" stroke="#cdcdcd" stroke-width="1.05"/><line x1="81.5" y1="226.55" x2="508" y2="226.55" stroke="#cdcdcd" stroke-width="1.05"/><line x1="81.5" y1="202.96" x2="508" y2="202.96" stroke="#cdcdcd" stroke-width="1.05"/><line x1="81.5" y1="179.38" x2="508" y2="179.38" stroke="#cdcdcd" stroke-width="1.05"/><line x1="81.5" y1="155.79" x2="508" y2="155.79" stroke="#cdcdcd" stroke-width="1.05"/><line x1="88.05" y1="148" x2="88.05" y2="297.8" stroke="#a5a5a5" stroke-width="1"/><text x="80" y="253.43" font-size="8.6" fill="#111" text-anchor="end">100</text><text x="80" y="206.26" font-size="8.6" fill="#111" text-anchor="end">200</text><text x="80" y="159.09" font-size="8.6" fill="#111" text-anchor="end">300</text><text transform="translate(60.0,203) rotate(-90)" font-size="9" fill="#1a1a1a" text-anchor="middle">HER3 H-score</text><path d="M151.25,295.41h2.35V297.3h-2.35zM159.99,292.58h2.35V297.3h-2.35zM168.72,287.87h2.35V297.3h-2.35zM177.46,287.87h2.35V297.3h-2.35zM186.2,287.87h2.35V297.3h-2.35zM194.93,287.87h2.35V297.3h-2.35zM203.67,287.87h2.35V297.3h-2.35zM212.4,287.87h2.35V297.3h-2.35zM221.14,287.87h2.35V297.3h-2.35zM229.88,287.87h2.35V297.3h-2.35zM238.61,287.87h2.35V297.3h-2.35zM247.35,283.15h2.35V297.3h-2.35zM256.08,269h2.35V297.3h-2.35zM264.82,269h2.35V297.3h-2.35zM273.56,264.28h2.35V297.3h-2.35zM282.29,259.56h2.35V297.3h-2.35zM291.03,259.56h2.35V297.3h-2.35zM299.76,247.77h2.35V297.3h-2.35zM308.5,240.7h2.35V297.3h-2.35zM317.24,240.7h2.35V297.3h-2.35zM325.97,240.7h2.35V297.3h-2.35zM334.71,235.98h2.35V297.3h-2.35zM343.44,231.26h2.35V297.3h-2.35zM352.18,228.9h2.35V297.3h-2.35zM360.92,226.55h2.35V297.3h-2.35zM369.65,221.83h2.35V297.3h-2.35zM378.39,217.11h2.35V297.3h-2.35zM387.12,212.39h2.35V297.3h-2.35zM395.86,212.39h2.35V297.3h-2.35zM404.6,212.39h2.35V297.3h-2.35zM413.33,212.39h2.35V297.3h-2.35zM422.07,207.68h2.35V297.3h-2.35zM430.8,207.68h2.35V297.3h-2.35zM439.54,207.68h2.35V297.3h-2.35zM448.28,207.68h2.35V297.3h-2.35zM457.01,207.68h2.35V297.3h-2.35zM465.75,202.96h2.35V297.3h-2.35zM474.48,200.6h2.35V297.3h-2.35zM483.22,169.94h2.35V297.3h-2.35zM491.96,169.94h2.35V297.3h-2.35zM500.69,160.51h2.35V297.3h-2.35z" fill="#5b93d3"/><path d="M92.45,250.13h2.55V297.3h-2.55zM109.92,202.96h2.55V297.3h-2.55zM118.66,202.96h2.55V297.3h-2.55zM127.39,202.96h2.55V297.3h-2.55zM136.13,160.51h2.55V297.3h-2.55zM144.87,287.87h2.55V297.3h-2.55zM153.6,184.09h2.55V297.3h-2.55zM162.34,269h2.55V297.3h-2.55zM171.07,292.58h2.55V297.3h-2.55zM179.81,235.98h2.55V297.3h-2.55zM188.55,292.58h2.55V297.3h-2.55zM197.28,250.13h2.55V297.3h-2.55zM206.02,259.56h2.55V297.3h-2.55zM214.75,287.87h2.55V297.3h-2.55zM223.49,221.83h2.55V297.3h-2.55zM232.23,169.94h2.55V297.3h-2.55zM240.96,169.94h2.55V297.3h-2.55zM249.7,212.39h2.55V297.3h-2.55zM258.43,264.28h2.55V297.3h-2.55zM267.17,165.22h2.55V297.3h-2.55zM275.91,212.39h2.55V297.3h-2.55zM284.64,202.96h2.55V297.3h-2.55zM293.38,231.26h2.55V297.3h-2.55zM302.11,205.32h2.55V297.3h-2.55zM310.85,269h2.55V297.3h-2.55zM319.59,165.22h2.55V297.3h-2.55zM328.32,198.24h2.55V297.3h-2.55zM337.06,259.56h2.55V297.3h-2.55zM345.79,160.51h2.55V297.3h-2.55zM354.53,294.94h2.55V297.3h-2.55zM363.27,250.13h2.55V297.3h-2.55zM372,202.96h2.55V297.3h-2.55zM380.74,240.7h2.55V297.3h-2.55zM389.47,221.83h2.55V297.3h-2.55zM398.21,210.04h2.55V297.3h-2.55zM406.95,217.11h2.55V297.3h-2.55zM415.68,205.32h2.55V297.3h-2.55zM424.42,217.11h2.55V297.3h-2.55zM433.15,207.68h2.55V297.3h-2.55zM441.89,254.85h2.55V297.3h-2.55zM450.63,243.05h2.55V297.3h-2.55zM459.36,217.11h2.55V297.3h-2.55zM468.1,202.96h2.55V297.3h-2.55zM476.83,207.68h2.55V297.3h-2.55zM485.57,193.53h2.55V297.3h-2.55zM494.31,207.68h2.55V297.3h-2.55zM503.04,160.51h2.55V297.3h-2.55z" fill="#ec7d33"/><rect x="366" y="160.9" width="12" height="7" fill="#36a4d2"/><rect x="366" y="168.6" width="12" height="7" fill="#f58b3a"/><text x="386.7" y="167.3" font-size="9.1" fill="#111">Pretreatment sample</text><text x="386.7" y="175.2" font-size="9.1" fill="#111">Posttreatment sample</text><rect x="48.2" y="298.8" width="460.5" height="14" fill="#eee6d6"/><rect x="4" y="313.3" width="43.6" height="168.6" fill="#cac1a0"/><rect x="48.2" y="313.3" width="38.6" height="168.6" fill="#efece3"/><line x1="48.2" y1="327.3" x2="86.8" y2="327.3" stroke="#f5f3ec" stroke-width="0.6"/><line x1="48.2" y1="341.6" x2="86.8" y2="341.6" stroke="#f5f3ec" stroke-width="0.6"/><line x1="48.2" y1="394.4" x2="86.8" y2="394.4" stroke="#f5f3ec" stroke-width="0.6"/><line x1="48.2" y1="423.9" x2="86.8" y2="423.9" stroke="#f5f3ec" stroke-width="0.6"/><line x1="48.2" y1="439" x2="86.8" y2="439" stroke="#f5f3ec" stroke-width="0.6"/><line x1="48.2" y1="453.6" x2="86.8" y2="453.6" stroke="#f5f3ec" stroke-width="0.6"/><text x="91.25" y="308" font-size="5.3" fill="#333" text-anchor="middle">6</text><text x="100.05" y="308" font-size="5.3" fill="#333" text-anchor="middle">9</text><text x="108.85" y="308" font-size="5.3" fill="#333" text-anchor="middle">11</text><text x="117.65" y="308" font-size="5.3" fill="#333" text-anchor="middle">13</text><text x="126.45" y="308" font-size="5.3" fill="#333" text-anchor="middle">16</text><text x="135.25" y="308" font-size="5.3" fill="#333" text-anchor="middle">45</text><text x="144.05" y="308" font-size="5.3" fill="#333" text-anchor="middle">60</text><text x="152.85" y="308" font-size="5.3" fill="#333" text-anchor="middle">5</text><text x="161.65" y="308" font-size="5.3" fill="#333" text-anchor="middle">1</text><text x="170.45" y="308" font-size="5.3" fill="#333" text-anchor="middle">7</text><text x="179.25" y="308" font-size="5.3" fill="#333" text-anchor="middle">10</text><text x="188.05" y="308" font-size="5.3" fill="#333" text-anchor="middle">19</text><text x="196.85" y="308" font-size="5.3" fill="#333" text-anchor="middle">34</text><text x="205.65" y="308" font-size="5.3" fill="#333" text-anchor="middle">36</text><text x="214.45" y="308" font-size="5.3" fill="#333" text-anchor="middle">44</text><text x="223.25" y="308" font-size="5.3" fill="#333" text-anchor="middle">53</text><text x="232.05" y="308" font-size="5.3" fill="#333" text-anchor="middle">54</text><text x="240.85" y="308" font-size="5.3" fill="#333" text-anchor="middle">57</text><text x="249.65" y="308" font-size="5.3" fill="#333" text-anchor="middle">35</text><text x="258.45" y="308" font-size="5.3" fill="#333" text-anchor="middle">18</text><text x="267.25" y="308" font-size="5.3" fill="#333" text-anchor="middle">39</text><text x="276.05" y="308" font-size="5.3" fill="#333" text-anchor="middle">30</text><text x="284.85" y="308" font-size="5.3" fill="#333" text-anchor="middle">14</text><text x="293.65" y="308" font-size="5.3" fill="#333" text-anchor="middle">43</text><text x="302.45" y="308" font-size="5.3" fill="#333" text-anchor="middle">12</text><text x="311.25" y="308" font-size="5.3" fill="#333" text-anchor="middle">3</text><text x="320.05" y="308" font-size="5.3" fill="#333" text-anchor="middle">15</text><text x="328.85" y="308" font-size="5.3" fill="#333" text-anchor="middle">49</text><text x="337.65" y="308" font-size="5.3" fill="#333" text-anchor="middle">28</text><text x="346.45" y="308" font-size="5.3" fill="#333" text-anchor="middle">50</text><text x="355.25" y="308" font-size="5.3" fill="#333" text-anchor="middle">4</text><text x="364.05" y="308" font-size="5.3" fill="#333" text-anchor="middle">26</text><text x="372.85" y="308" font-size="5.3" fill="#333" text-anchor="middle">31</text><text x="381.65" y="308" font-size="5.3" fill="#333" text-anchor="middle">32</text><text x="390.45" y="308" font-size="5.3" fill="#333" text-anchor="middle">2</text><text x="399.25" y="308" font-size="5.3" fill="#333" text-anchor="middle">20</text><text x="408.05" y="308" font-size="5.3" fill="#333" text-anchor="middle">36</text><text x="416.85" y="308" font-size="5.3" fill="#333" text-anchor="middle">61</text><text x="425.65" y="308" font-size="5.3" fill="#333" text-anchor="middle">8</text><text x="434.45" y="308" font-size="5.3" fill="#333" text-anchor="middle">37</text><text x="443.25" y="308" font-size="5.3" fill="#333" text-anchor="middle">42</text><text x="452.05" y="308" font-size="5.3" fill="#333" text-anchor="middle">51</text><text x="460.85" y="308" font-size="5.3" fill="#333" text-anchor="middle">58</text><text x="469.65" y="308" font-size="5.3" fill="#333" text-anchor="middle">17</text><text x="478.45" y="308" font-size="5.3" fill="#333" text-anchor="middle">29</text><text x="487.25" y="308" font-size="5.3" fill="#333" text-anchor="middle">47</text><text x="496.05" y="308" font-size="5.3" fill="#333" text-anchor="middle">52</text><text x="504.85" y="308" font-size="5.3" fill="#333" text-anchor="middle">46</text><text x="67.6" y="307.8" font-size="6.6" fill="#111" text-anchor="middle" font-weight="bold">ID</text><path d="M87.3,313.9h7.9v13.1h-7.9zM96.1,313.9h7.9v13.1h-7.9zM104.9,313.9h7.9v13.1h-7.9zM122.5,313.9h7.9v13.1h-7.9zM131.3,313.9h7.9v13.1h-7.9zM148.9,313.9h7.9v13.1h-7.9zM157.7,313.9h7.9v13.1h-7.9zM192.9,313.9h7.9v13.1h-7.9zM210.5,313.9h7.9v13.1h-7.9zM219.3,313.9h7.9v13.1h-7.9zM236.9,313.9h7.9v13.1h-7.9zM254.5,313.9h7.9v13.1h-7.9zM263.3,313.9h7.9v13.1h-7.9zM272.1,313.9h7.9v13.1h-7.9zM280.9,313.9h7.9v13.1h-7.9zM289.7,313.9h7.9v13.1h-7.9zM316.1,313.9h7.9v13.1h-7.9zM324.9,313.9h7.9v13.1h-7.9zM342.5,313.9h7.9v13.1h-7.9zM351.3,313.9h7.9v13.1h-7.9zM360.1,313.9h7.9v13.1h-7.9zM368.9,313.9h7.9v13.1h-7.9zM377.7,313.9h7.9v13.1h-7.9zM386.5,313.9h7.9v13.1h-7.9zM395.3,313.9h7.9v13.1h-7.9zM404.1,313.9h7.9v13.1h-7.9zM421.7,313.9h7.9v13.1h-7.9zM430.5,313.9h7.9v13.1h-7.9zM439.3,313.9h7.9v13.1h-7.9zM448.1,313.9h7.9v13.1h-7.9zM500.9,313.9h7.9v13.1h-7.9zM87.3,327.9h7.9v13.2h-7.9zM96.1,327.9h7.9v13.2h-7.9zM104.9,327.9h7.9v13.2h-7.9zM122.5,327.9h7.9v13.2h-7.9zM131.3,327.9h7.9v13.2h-7.9zM157.7,327.9h7.9v13.2h-7.9zM184.1,327.9h7.9v13.2h-7.9zM192.9,327.9h7.9v13.2h-7.9zM210.5,327.9h7.9v13.2h-7.9zM219.3,327.9h7.9v13.2h-7.9zM236.9,327.9h7.9v13.2h-7.9zM254.5,327.9h7.9v13.2h-7.9zM263.3,327.9h7.9v13.2h-7.9zM272.1,327.9h7.9v13.2h-7.9zM280.9,327.9h7.9v13.2h-7.9zM289.7,327.9h7.9v13.2h-7.9zM307.3,327.9h7.9v13.2h-7.9zM316.1,327.9h7.9v13.2h-7.9zM324.9,327.9h7.9v13.2h-7.9zM342.5,327.9h7.9v13.2h-7.9zM351.3,327.9h7.9v13.2h-7.9zM360.1,327.9h7.9v13.2h-7.9zM368.9,327.9h7.9v13.2h-7.9zM377.7,327.9h7.9v13.2h-7.9zM386.5,327.9h7.9v13.2h-7.9zM395.3,327.9h7.9v13.2h-7.9zM412.9,327.9h7.9v13.2h-7.9zM421.7,327.9h7.9v13.2h-7.9zM430.5,327.9h7.9v13.2h-7.9zM439.3,327.9h7.9v13.2h-7.9zM448.1,327.9h7.9v13.2h-7.9zM465.7,327.9h7.9v13.2h-7.9zM474.5,327.9h7.9v13.2h-7.9zM483.3,327.9h7.9v13.2h-7.9zM492.1,327.9h7.9v13.2h-7.9zM87.3,342.2h7.9v13.6h-7.9zM113.7,342.2h7.9v13.6h-7.9zM140.1,342.2h7.9v13.6h-7.9zM157.7,342.2h7.9v13.6h-7.9zM166.5,342.2h7.9v13.6h-7.9zM175.3,342.2h7.9v13.6h-7.9zM184.1,342.2h7.9v13.6h-7.9zM192.9,342.2h7.9v13.6h-7.9zM201.7,342.2h7.9v13.6h-7.9zM228.1,342.2h7.9v13.6h-7.9zM263.3,342.2h7.9v13.6h-7.9zM280.9,342.2h7.9v13.6h-7.9zM324.9,342.2h7.9v13.6h-7.9zM333.7,342.2h7.9v13.6h-7.9zM351.3,342.2h7.9v13.6h-7.9zM430.5,342.2h7.9v13.6h-7.9zM439.3,342.2h7.9v13.6h-7.9zM448.1,342.2h7.9v13.6h-7.9zM465.7,342.2h7.9v13.6h-7.9zM474.5,342.2h7.9v13.6h-7.9zM492.1,342.2h7.9v13.6h-7.9zM500.9,342.2h7.9v13.6h-7.9zM87.3,395h7.9v14.7h-7.9zM104.9,395h7.9v14.7h-7.9zM113.7,395h7.9v14.7h-7.9zM131.3,395h7.9v14.7h-7.9zM148.9,395h7.9v14.7h-7.9zM166.5,395h7.9v14.7h-7.9zM175.3,395h7.9v14.7h-7.9zM184.1,395h7.9v14.7h-7.9zM210.5,395h7.9v14.7h-7.9zM228.1,395h7.9v14.7h-7.9zM236.9,395h7.9v14.7h-7.9zM254.5,395h7.9v14.7h-7.9zM263.3,395h7.9v14.7h-7.9zM272.1,395h7.9v14.7h-7.9zM280.9,395h7.9v14.7h-7.9zM289.7,395h7.9v14.7h-7.9zM298.5,395h7.9v14.7h-7.9zM307.3,395h7.9v14.7h-7.9zM316.1,395h7.9v14.7h-7.9zM342.5,395h7.9v14.7h-7.9zM351.3,395h7.9v14.7h-7.9zM360.1,395h7.9v14.7h-7.9zM368.9,395h7.9v14.7h-7.9zM377.7,395h7.9v14.7h-7.9zM386.5,395h7.9v14.7h-7.9zM395.3,395h7.9v14.7h-7.9zM404.1,395h7.9v14.7h-7.9zM412.9,395h7.9v14.7h-7.9zM421.7,395h7.9v14.7h-7.9zM430.5,395h7.9v14.7h-7.9zM439.3,395h7.9v14.7h-7.9zM448.1,395h7.9v14.7h-7.9zM456.9,395h7.9v14.7h-7.9zM465.7,395h7.9v14.7h-7.9zM483.3,395h7.9v14.7h-7.9zM492.1,395h7.9v14.7h-7.9zM500.9,395h7.9v14.7h-7.9zM87.3,410.9h7.9v12.7h-7.9zM96.1,410.9h7.9v12.7h-7.9zM104.9,410.9h7.9v12.7h-7.9zM113.7,410.9h7.9v12.7h-7.9zM122.5,410.9h7.9v12.7h-7.9zM131.3,410.9h7.9v12.7h-7.9zM140.1,410.9h7.9v12.7h-7.9zM148.9,410.9h7.9v12.7h-7.9zM157.7,410.9h7.9v12.7h-7.9zM166.5,410.9h7.9v12.7h-7.9zM175.3,410.9h7.9v12.7h-7.9zM184.1,410.9h7.9v12.7h-7.9zM192.9,410.9h7.9v12.7h-7.9zM201.7,410.9h7.9v12.7h-7.9zM228.1,410.9h7.9v12.7h-7.9zM236.9,410.9h7.9v12.7h-7.9zM245.7,410.9h7.9v12.7h-7.9zM263.3,410.9h7.9v12.7h-7.9zM272.1,410.9h7.9v12.7h-7.9zM280.9,410.9h7.9v12.7h-7.9zM289.7,410.9h7.9v12.7h-7.9zM298.5,410.9h7.9v12.7h-7.9zM307.3,410.9h7.9v12.7h-7.9zM316.1,410.9h7.9v12.7h-7.9zM324.9,410.9h7.9v12.7h-7.9zM333.7,410.9h7.9v12.7h-7.9zM342.5,410.9h7.9v12.7h-7.9zM351.3,410.9h7.9v12.7h-7.9zM360.1,410.9h7.9v12.7h-7.9zM368.9,410.9h7.9v12.7h-7.9zM377.7,410.9h7.9v12.7h-7.9zM386.5,410.9h7.9v12.7h-7.9zM395.3,410.9h7.9v12.7h-7.9zM404.1,410.9h7.9v12.7h-7.9zM412.9,410.9h7.9v12.7h-7.9zM421.7,410.9h7.9v12.7h-7.9zM430.5,410.9h7.9v12.7h-7.9zM439.3,410.9h7.9v12.7h-7.9zM448.1,410.9h7.9v12.7h-7.9zM456.9,410.9h7.9v12.7h-7.9zM474.5,410.9h7.9v12.7h-7.9zM483.3,410.9h7.9v12.7h-7.9zM492.1,410.9h7.9v12.7h-7.9zM500.9,410.9h7.9v12.7h-7.9zM87.3,424.4h7.9v14.2h-7.9zM96.1,424.4h7.9v14.2h-7.9zM104.9,424.4h7.9v14.2h-7.9zM113.7,424.4h7.9v14.2h-7.9zM122.5,424.4h7.9v14.2h-7.9zM131.3,424.4h7.9v14.2h-7.9zM140.1,424.4h7.9v14.2h-7.9zM148.9,424.4h7.9v14.2h-7.9zM157.7,424.4h7.9v14.2h-7.9zM166.5,424.4h7.9v14.2h-7.9zM175.3,424.4h7.9v14.2h-7.9zM184.1,424.4h7.9v14.2h-7.9zM192.9,424.4h7.9v14.2h-7.9zM201.7,424.4h7.9v14.2h-7.9zM210.5,424.4h7.9v14.2h-7.9zM228.1,424.4h7.9v14.2h-7.9zM236.9,424.4h7.9v14.2h-7.9zM245.7,424.4h7.9v14.2h-7.9zM254.5,424.4h7.9v14.2h-7.9zM272.1,424.4h7.9v14.2h-7.9zM280.9,424.4h7.9v14.2h-7.9zM289.7,424.4h7.9v14.2h-7.9zM298.5,424.4h7.9v14.2h-7.9zM307.3,424.4h7.9v14.2h-7.9zM316.1,424.4h7.9v14.2h-7.9zM324.9,424.4h7.9v14.2h-7.9zM333.7,424.4h7.9v14.2h-7.9zM342.5,424.4h7.9v14.2h-7.9zM351.3,424.4h7.9v14.2h-7.9zM360.1,424.4h7.9v14.2h-7.9zM368.9,424.4h7.9v14.2h-7.9zM377.7,424.4h7.9v14.2h-7.9zM386.5,424.4h7.9v14.2h-7.9zM395.3,424.4h7.9v14.2h-7.9zM412.9,424.4h7.9v14.2h-7.9zM421.7,424.4h7.9v14.2h-7.9zM430.5,424.4h7.9v14.2h-7.9zM448.1,424.4h7.9v14.2h-7.9zM456.9,424.4h7.9v14.2h-7.9zM474.5,424.4h7.9v14.2h-7.9zM483.3,424.4h7.9v14.2h-7.9zM492.1,424.4h7.9v14.2h-7.9zM500.9,424.4h7.9v14.2h-7.9zM87.3,439.6h7.9v13.5h-7.9zM104.9,439.6h7.9v13.5h-7.9zM113.7,439.6h7.9v13.5h-7.9zM148.9,439.6h7.9v13.5h-7.9zM157.7,439.6h7.9v13.5h-7.9zM184.1,439.6h7.9v13.5h-7.9zM228.1,439.6h7.9v13.5h-7.9zM236.9,439.6h7.9v13.5h-7.9zM263.3,439.6h7.9v13.5h-7.9zM289.7,439.6h7.9v13.5h-7.9zM298.5,439.6h7.9v13.5h-7.9zM307.3,439.6h7.9v13.5h-7.9zM316.1,439.6h7.9v13.5h-7.9zM333.7,439.6h7.9v13.5h-7.9zM342.5,439.6h7.9v13.5h-7.9zM351.3,439.6h7.9v13.5h-7.9zM360.1,439.6h7.9v13.5h-7.9zM377.7,439.6h7.9v13.5h-7.9zM395.3,439.6h7.9v13.5h-7.9zM421.7,439.6h7.9v13.5h-7.9zM430.5,439.6h7.9v13.5h-7.9zM483.3,439.6h7.9v13.5h-7.9zM500.9,439.6h7.9v13.5h-7.9zM87.3,454h7.9v12.7h-7.9zM96.1,454h7.9v12.7h-7.9zM104.9,454h7.9v12.7h-7.9zM122.5,454h7.9v12.7h-7.9zM131.3,454h7.9v12.7h-7.9zM140.1,454h7.9v12.7h-7.9zM148.9,454h7.9v12.7h-7.9zM157.7,454h7.9v12.7h-7.9zM166.5,454h7.9v12.7h-7.9zM175.3,454h7.9v12.7h-7.9zM184.1,454h7.9v12.7h-7.9zM192.9,454h7.9v12.7h-7.9zM201.7,454h7.9v12.7h-7.9zM210.5,454h7.9v12.7h-7.9zM228.1,454h7.9v12.7h-7.9zM236.9,454h7.9v12.7h-7.9zM254.5,454h7.9v12.7h-7.9zM263.3,454h7.9v12.7h-7.9zM272.1,454h7.9v12.7h-7.9zM280.9,454h7.9v12.7h-7.9zM289.7,454h7.9v12.7h-7.9zM298.5,454h7.9v12.7h-7.9zM307.3,454h7.9v12.7h-7.9zM316.1,454h7.9v12.7h-7.9zM324.9,454h7.9v12.7h-7.9zM333.7,454h7.9v12.7h-7.9zM342.5,454h7.9v12.7h-7.9zM351.3,454h7.9v12.7h-7.9zM360.1,454h7.9v12.7h-7.9zM368.9,454h7.9v12.7h-7.9zM377.7,454h7.9v12.7h-7.9zM386.5,454h7.9v12.7h-7.9zM395.3,454h7.9v12.7h-7.9zM404.1,454h7.9v12.7h-7.9zM412.9,454h7.9v12.7h-7.9zM430.5,454h7.9v12.7h-7.9zM439.3,454h7.9v12.7h-7.9zM448.1,454h7.9v12.7h-7.9zM456.9,454h7.9v12.7h-7.9zM483.3,454h7.9v12.7h-7.9zM492.1,454h7.9v12.7h-7.9zM500.9,454h7.9v12.7h-7.9zM87.3,468.2h7.9v13h-7.9zM96.1,468.2h7.9v13h-7.9zM104.9,468.2h7.9v13h-7.9zM113.7,468.2h7.9v13h-7.9zM122.5,468.2h7.9v13h-7.9zM131.3,468.2h7.9v13h-7.9zM140.1,468.2h7.9v13h-7.9zM148.9,468.2h7.9v13h-7.9zM166.5,468.2h7.9v13h-7.9zM175.3,468.2h7.9v13h-7.9zM184.1,468.2h7.9v13h-7.9zM192.9,468.2h7.9v13h-7.9zM201.7,468.2h7.9v13h-7.9zM210.5,468.2h7.9v13h-7.9zM228.1,468.2h7.9v13h-7.9zM236.9,468.2h7.9v13h-7.9zM245.7,468.2h7.9v13h-7.9zM254.5,468.2h7.9v13h-7.9zM289.7,468.2h7.9v13h-7.9zM298.5,468.2h7.9v13h-7.9zM316.1,468.2h7.9v13h-7.9zM324.9,468.2h7.9v13h-7.9zM333.7,468.2h7.9v13h-7.9zM342.5,468.2h7.9v13h-7.9zM351.3,468.2h7.9v13h-7.9zM360.1,468.2h7.9v13h-7.9zM368.9,468.2h7.9v13h-7.9zM377.7,468.2h7.9v13h-7.9zM386.5,468.2h7.9v13h-7.9zM395.3,468.2h7.9v13h-7.9zM404.1,468.2h7.9v13h-7.9zM412.9,468.2h7.9v13h-7.9zM421.7,468.2h7.9v13h-7.9zM430.5,468.2h7.9v13h-7.9zM439.3,468.2h7.9v13h-7.9zM448.1,468.2h7.9v13h-7.9zM456.9,468.2h7.9v13h-7.9zM474.5,468.2h7.9v13h-7.9zM483.3,468.2h7.9v13h-7.9zM492.1,468.2h7.9v13h-7.9z" fill="#ebe9df"/><path d="M113.7,313.9h7.9v13.1h-7.9zM140.1,313.9h7.9v13.1h-7.9zM166.5,313.9h7.9v13.1h-7.9zM175.3,313.9h7.9v13.1h-7.9zM184.1,313.9h7.9v13.1h-7.9zM201.7,313.9h7.9v13.1h-7.9zM228.1,313.9h7.9v13.1h-7.9zM245.7,313.9h7.9v13.1h-7.9zM298.5,313.9h7.9v13.1h-7.9zM307.3,313.9h7.9v13.1h-7.9zM333.7,313.9h7.9v13.1h-7.9zM412.9,313.9h7.9v13.1h-7.9zM456.9,313.9h7.9v13.1h-7.9zM465.7,313.9h7.9v13.1h-7.9zM474.5,313.9h7.9v13.1h-7.9zM492.1,313.9h7.9v13.1h-7.9zM113.7,327.9h7.9v13.2h-7.9zM140.1,327.9h7.9v13.2h-7.9zM148.9,327.9h7.9v13.2h-7.9zM166.5,327.9h7.9v13.2h-7.9zM175.3,327.9h7.9v13.2h-7.9zM201.7,327.9h7.9v13.2h-7.9zM228.1,327.9h7.9v13.2h-7.9zM245.7,327.9h7.9v13.2h-7.9zM298.5,327.9h7.9v13.2h-7.9zM333.7,327.9h7.9v13.2h-7.9zM404.1,327.9h7.9v13.2h-7.9zM456.9,327.9h7.9v13.2h-7.9zM500.9,327.9h7.9v13.2h-7.9zM96.1,342.2h7.9v13.6h-7.9zM104.9,342.2h7.9v13.6h-7.9zM122.5,342.2h7.9v13.6h-7.9zM131.3,342.2h7.9v13.6h-7.9zM148.9,342.2h7.9v13.6h-7.9zM210.5,342.2h7.9v13.6h-7.9zM219.3,342.2h7.9v13.6h-7.9zM236.9,342.2h7.9v13.6h-7.9zM245.7,342.2h7.9v13.6h-7.9zM254.5,342.2h7.9v13.6h-7.9zM272.1,342.2h7.9v13.6h-7.9zM289.7,342.2h7.9v13.6h-7.9zM298.5,342.2h7.9v13.6h-7.9zM307.3,342.2h7.9v13.6h-7.9zM316.1,342.2h7.9v13.6h-7.9zM342.5,342.2h7.9v13.6h-7.9zM360.1,342.2h7.9v13.6h-7.9zM368.9,342.2h7.9v13.6h-7.9zM377.7,342.2h7.9v13.6h-7.9zM386.5,342.2h7.9v13.6h-7.9zM395.3,342.2h7.9v13.6h-7.9zM404.1,342.2h7.9v13.6h-7.9zM412.9,342.2h7.9v13.6h-7.9zM421.7,342.2h7.9v13.6h-7.9zM456.9,342.2h7.9v13.6h-7.9zM483.3,342.2h7.9v13.6h-7.9zM96.1,395h7.9v14.7h-7.9zM122.5,395h7.9v14.7h-7.9zM140.1,395h7.9v14.7h-7.9zM157.7,395h7.9v14.7h-7.9zM192.9,395h7.9v14.7h-7.9zM201.7,395h7.9v14.7h-7.9zM245.7,395h7.9v14.7h-7.9zM324.9,395h7.9v14.7h-7.9zM333.7,395h7.9v14.7h-7.9zM474.5,395h7.9v14.7h-7.9zM210.5,410.9h7.9v12.7h-7.9zM254.5,410.9h7.9v12.7h-7.9zM465.7,410.9h7.9v12.7h-7.9zM263.3,424.4h7.9v14.2h-7.9zM404.1,424.4h7.9v14.2h-7.9zM439.3,424.4h7.9v14.2h-7.9zM465.7,424.4h7.9v14.2h-7.9zM96.1,439.6h7.9v13.5h-7.9zM122.5,439.6h7.9v13.5h-7.9zM131.3,439.6h7.9v13.5h-7.9zM140.1,439.6h7.9v13.5h-7.9zM166.5,439.6h7.9v13.5h-7.9zM175.3,439.6h7.9v13.5h-7.9zM192.9,439.6h7.9v13.5h-7.9zM201.7,439.6h7.9v13.5h-7.9zM210.5,439.6h7.9v13.5h-7.9zM245.7,439.6h7.9v13.5h-7.9zM254.5,439.6h7.9v13.5h-7.9zM272.1,439.6h7.9v13.5h-7.9zM280.9,439.6h7.9v13.5h-7.9zM324.9,439.6h7.9v13.5h-7.9zM368.9,439.6h7.9v13.5h-7.9zM386.5,439.6h7.9v13.5h-7.9zM404.1,439.6h7.9v13.5h-7.9zM412.9,439.6h7.9v13.5h-7.9zM439.3,439.6h7.9v13.5h-7.9zM448.1,439.6h7.9v13.5h-7.9zM456.9,439.6h7.9v13.5h-7.9zM465.7,439.6h7.9v13.5h-7.9zM474.5,439.6h7.9v13.5h-7.9zM492.1,439.6h7.9v13.5h-7.9zM113.7,454h7.9v12.7h-7.9zM245.7,454h7.9v12.7h-7.9zM421.7,454h7.9v12.7h-7.9zM465.7,454h7.9v12.7h-7.9zM474.5,454h7.9v12.7h-7.9zM157.7,468.2h7.9v13h-7.9zM263.3,468.2h7.9v13h-7.9zM280.9,468.2h7.9v13h-7.9zM307.3,468.2h7.9v13h-7.9zM465.7,468.2h7.9v13h-7.9zM500.9,468.2h7.9v13h-7.9z" fill="#8cbb45"/><path d="M483.3,313.9h7.9v13.1h-7.9z" fill="#aaa5be"/><path d="M87.3,356.8h7.9v37h-7.9zM113.7,356.8h7.9v37h-7.9zM140.1,356.8h7.9v37h-7.9zM157.7,356.8h7.9v37h-7.9zM184.1,356.8h7.9v37h-7.9zM192.9,356.8h7.9v37h-7.9zM201.7,356.8h7.9v37h-7.9zM210.5,356.8h7.9v37h-7.9zM219.3,356.8h7.9v37h-7.9zM228.1,356.8h7.9v37h-7.9zM236.9,356.8h7.9v37h-7.9zM254.5,356.8h7.9v37h-7.9zM263.3,356.8h7.9v37h-7.9zM289.7,356.8h7.9v37h-7.9zM307.3,356.8h7.9v37h-7.9zM316.1,356.8h7.9v37h-7.9zM333.7,356.8h7.9v37h-7.9zM342.5,356.8h7.9v37h-7.9zM368.9,356.8h7.9v37h-7.9zM386.5,356.8h7.9v37h-7.9zM395.3,356.8h7.9v37h-7.9zM421.7,356.8h7.9v37h-7.9zM456.9,356.8h7.9v37h-7.9zM465.7,356.8h7.9v37h-7.9zM474.5,356.8h7.9v37h-7.9zM483.3,356.8h7.9v37h-7.9zM492.1,356.8h7.9v37h-7.9z" fill="#c83b45"/><path d="M96.1,356.8h7.9v37h-7.9zM175.3,356.8h7.9v37h-7.9z" fill="#8bbb45"/><path d="M104.9,356.8h7.9v37h-7.9z" fill="#b3b3bd"/><path d="M122.5,356.8h7.9v37h-7.9zM131.3,356.8h7.9v37h-7.9zM166.5,356.8h7.9v37h-7.9zM245.7,356.8h7.9v37h-7.9zM272.1,356.8h7.9v37h-7.9zM280.9,356.8h7.9v37h-7.9zM298.5,356.8h7.9v37h-7.9zM324.9,356.8h7.9v37h-7.9zM351.3,356.8h7.9v37h-7.9zM360.1,356.8h7.9v37h-7.9zM377.7,356.8h7.9v37h-7.9zM404.1,356.8h7.9v37h-7.9zM412.9,356.8h7.9v37h-7.9zM430.5,356.8h7.9v37h-7.9zM439.3,356.8h7.9v37h-7.9zM448.1,356.8h7.9v37h-7.9zM500.9,356.8h7.9v37h-7.9z" fill="#7250a6"/><path d="M148.9,356.8h7.9v37h-7.9z" fill="#2aa5d5"/><path d="M219.3,395h7.9v14.7h-7.9zM219.3,410.9h7.9v12.7h-7.9zM219.3,424.4h7.9v14.2h-7.9zM219.3,439.6h7.9v13.5h-7.9zM219.3,454h7.9v12.7h-7.9zM219.3,468.2h7.9v13h-7.9z" fill="#a5a4ab"/><path d="M272.1,468.2h7.9v13h-7.9z" fill="#fbfbf6"/><text transform="translate(91.25,375.3) rotate(90) scale(1,1.12)" font-size="6.3" fill="#fbe3e3" stroke="#fbe3e3" stroke-width="0.15" text-anchor="middle" dy="0.35em" textLength="22.6" lengthAdjust="spacingAndGlyphs">Ex19del</text><text transform="translate(100.05,375.3) rotate(90) scale(1,1.12)" font-size="6.3" fill="#f3f7df" stroke="#f3f7df" stroke-width="0.15" text-anchor="middle" dy="0.35em" textLength="19.5" lengthAdjust="spacingAndGlyphs">L861Q</text><text transform="translate(108.85,375.3) rotate(90) scale(1,1.12)" font-size="5.6" fill="#f4f4f6" stroke="#f4f4f6" stroke-width="0.15" text-anchor="middle" dy="0.35em" textLength="34" lengthAdjust="spacingAndGlyphs">L858R+S768I</text><text transform="translate(117.65,375.3) rotate(90) scale(1,1.12)" font-size="6.3" fill="#fbe3e3" stroke="#fbe3e3" stroke-width="0.15" text-anchor="middle" dy="0.35em" textLength="22.6" lengthAdjust="spacingAndGlyphs">Ex19del</text><text transform="translate(126.45,375.3) rotate(90) scale(1,1.12)" font-size="6.3" fill="#e8e0f4" stroke="#e8e0f4" stroke-width="0.15" text-anchor="middle" dy="0.35em" textLength="19" lengthAdjust="spacingAndGlyphs">L858R</text><text transform="translate(135.25,375.3) rotate(90) scale(1,1.12)" font-size="6.3" fill="#e8e0f4" stroke="#e8e0f4" stroke-width="0.15" text-anchor="middle" dy="0.35em" textLength="19" lengthAdjust="spacingAndGlyphs">L858R</text><text transform="translate(144.05,375.3) rotate(90) scale(1,1.12)" font-size="6.3" fill="#fbe3e3" stroke="#fbe3e3" stroke-width="0.15" text-anchor="middle" dy="0.35em" textLength="22.6" lengthAdjust="spacingAndGlyphs">Ex19del</text><text transform="translate(152.85,375.3) rotate(90) scale(1,1.12)" font-size="6.3" fill="#e6f6fb" stroke="#e6f6fb" stroke-width="0.15" text-anchor="middle" dy="0.35em" textLength="20" lengthAdjust="spacingAndGlyphs">G719A</text><text transform="translate(161.65,375.3) rotate(90) scale(1,1.12)" font-size="6.3" fill="#fbe3e3" stroke="#fbe3e3" stroke-width="0.15" text-anchor="middle" dy="0.35em" textLength="22.6" lengthAdjust="spacingAndGlyphs">Ex19del</text><text transform="translate(170.45,375.3) rotate(90) scale(1,1.12)" font-size="6.3" fill="#e8e0f4" stroke="#e8e0f4" stroke-width="0.15" text-anchor="middle" dy="0.35em" textLength="19" lengthAdjust="spacingAndGlyphs">L858R</text><text transform="translate(179.25,375.3) rotate(90) scale(1,1.12)" font-size="6.3" fill="#f3f7df" stroke="#f3f7df" stroke-width="0.15" text-anchor="middle" dy="0.35em" textLength="19.5" lengthAdjust="spacingAndGlyphs">L861Q</text><text transform="translate(188.05,375.3) rotate(90) scale(1,1.12)" font-size="6.3" fill="#fbe3e3" stroke="#fbe3e3" stroke-width="0.15" text-anchor="middle" dy="0.35em" textLength="22.6" lengthAdjust="spacingAndGlyphs">Ex19del</text><text transform="translate(196.85,375.3) rotate(90) scale(1,1.12)" font-size="6.3" fill="#fbe3e3" stroke="#fbe3e3" stroke-width="0.15" text-anchor="middle" dy="0.35em" textLength="22.6" lengthAdjust="spacingAndGlyphs">Ex19del</text><text transform="translate(205.65,375.3) rotate(90) scale(1,1.12)" font-size="6.3" fill="#fbe3e3" stroke="#fbe3e3" stroke-width="0.15" text-anchor="middle" dy="0.35em" textLength="22.6" lengthAdjust="spacingAndGlyphs">Ex19del</text><text transform="translate(214.45,375.3) rotate(90) scale(1,1.12)" font-size="6.3" fill="#fbe3e3" stroke="#fbe3e3" stroke-width="0.15" text-anchor="middle" dy="0.35em" textLength="22.6" lengthAdjust="spacingAndGlyphs">Ex19del</text><text transform="translate(223.25,375.3) rotate(90) scale(1,1.12)" font-size="6.3" fill="#fbe3e3" stroke="#fbe3e3" stroke-width="0.15" text-anchor="middle" dy="0.35em" textLength="22.6" lengthAdjust="spacingAndGlyphs">Ex19del</text><text transform="translate(232.05,375.3) rotate(90) scale(1,1.12)" font-size="6.3" fill="#fbe3e3" stroke="#fbe3e3" stroke-width="0.15" text-anchor="middle" dy="0.35em" textLength="22.6" lengthAdjust="spacingAndGlyphs">Ex19del</text><text transform="translate(240.85,375.3) rotate(90) scale(1,1.12)" font-size="6.3" fill="#fbe3e3" stroke="#fbe3e3" stroke-width="0.15" text-anchor="middle" dy="0.35em" textLength="22.6" lengthAdjust="spacingAndGlyphs">Ex19del</text><text transform="translate(249.65,375.3) rotate(90) scale(1,1.12)" font-size="6.3" fill="#e8e0f4" stroke="#e8e0f4" stroke-width="0.15" text-anchor="middle" dy="0.35em" textLength="19" lengthAdjust="spacingAndGlyphs">L858R</text><text transform="translate(258.45,375.3) rotate(90) scale(1,1.12)" font-size="6.3" fill="#fbe3e3" stroke="#fbe3e3" stroke-width="0.15" text-anchor="middle" dy="0.35em" textLength="22.6" lengthAdjust="spacingAndGlyphs">Ex19del</text><text transform="translate(267.25,375.3) rotate(90) scale(1,1.12)" font-size="6.3" fill="#fbe3e3" stroke="#fbe3e3" stroke-width="0.15" text-anchor="middle" dy="0.35em" textLength="22.6" lengthAdjust="spacingAndGlyphs">Ex19del</text><text transform="translate(276.05,375.3) rotate(90) scale(1,1.12)" font-size="6.3" fill="#e8e0f4" stroke="#e8e0f4" stroke-width="0.15" text-anchor="middle" dy="0.35em" textLength="19" lengthAdjust="spacingAndGlyphs">L858R</text><text transform="translate(284.85,375.3) rotate(90) scale(1,1.12)" font-size="6.3" fill="#e8e0f4" stroke="#e8e0f4" stroke-width="0.15" text-anchor="middle" dy="0.35em" textLength="19" lengthAdjust="spacingAndGlyphs">L858R</text><text transform="translate(293.65,375.3) rotate(90) scale(1,1.12)" font-size="6.3" fill="#fbe3e3" stroke="#fbe3e3" stroke-width="0.15" text-anchor="middle" dy="0.35em" textLength="22.6" lengthAdjust="spacingAndGlyphs">Ex19del</text><text transform="translate(302.45,375.3) rotate(90) scale(1,1.12)" font-size="6.3" fill="#e8e0f4" stroke="#e8e0f4" stroke-width="0.15" text-anchor="middle" dy="0.35em" textLength="19" lengthAdjust="spacingAndGlyphs">L858R</text><text transform="translate(311.25,375.3) rotate(90) scale(1,1.12)" font-size="6.3" fill="#fbe3e3" stroke="#fbe3e3" stroke-width="0.15" text-anchor="middle" dy="0.35em" textLength="22.6" lengthAdjust="spacingAndGlyphs">Ex19del</text><text transform="translate(320.05,375.3) rotate(90) scale(1,1.12)" font-size="6.3" fill="#fbe3e3" stroke="#fbe3e3" stroke-width="0.15" text-anchor="middle" dy="0.35em" textLength="22.6" lengthAdjust="spacingAndGlyphs">Ex19del</text><text transform="translate(328.85,375.3) rotate(90) scale(1,1.12)" font-size="6.3" fill="#e8e0f4" stroke="#e8e0f4" stroke-width="0.15" text-anchor="middle" dy="0.35em" textLength="19" lengthAdjust="spacingAndGlyphs">L858R</text><text transform="translate(337.65,375.3) rotate(90) scale(1,1.12)" font-size="6.3" fill="#fbe3e3" stroke="#fbe3e3" stroke-width="0.15" text-anchor="middle" dy="0.35em" textLength="22.6" lengthAdjust="spacingAndGlyphs">Ex19del</text><text transform="translate(346.45,375.3) rotate(90) scale(1,1.12)" font-size="6.3" fill="#fbe3e3" stroke="#fbe3e3" stroke-width="0.15" text-anchor="middle" dy="0.35em" textLength="22.6" lengthAdjust="spacingAndGlyphs">Ex19del</text><text transform="translate(355.25,375.3) rotate(90) scale(1,1.12)" font-size="6.3" fill="#e8e0f4" stroke="#e8e0f4" stroke-width="0.15" text-anchor="middle" dy="0.35em" textLength="19" lengthAdjust="spacingAndGlyphs">L858R</text><text transform="translate(364.05,375.3) rotate(90) scale(1,1.12)" font-size="6.3" fill="#e8e0f4" stroke="#e8e0f4" stroke-width="0.15" text-anchor="middle" dy="0.35em" textLength="19" lengthAdjust="spacingAndGlyphs">L858R</text><text transform="translate(372.85,375.3) rotate(90) scale(1,1.12)" font-size="6.3" fill="#fbe3e3" stroke="#fbe3e3" stroke-width="0.15" text-anchor="middle" dy="0.35em" textLength="22.6" lengthAdjust="spacingAndGlyphs">Ex19del</text><text transform="translate(381.65,375.3) rotate(90) scale(1,1.12)" font-size="6.3" fill="#e8e0f4" stroke="#e8e0f4" stroke-width="0.15" text-anchor="middle" dy="0.35em" textLength="19" lengthAdjust="spacingAndGlyphs">L858R</text><text transform="translate(390.45,375.3) rotate(90) scale(1,1.12)" font-size="6.3" fill="#fbe3e3" stroke="#fbe3e3" stroke-width="0.15" text-anchor="middle" dy="0.35em" textLength="22.6" lengthAdjust="spacingAndGlyphs">Ex19del</text><text transform="translate(399.25,375.3) rotate(90) scale(1,1.12)" font-size="6.3" fill="#fbe3e3" stroke="#fbe3e3" stroke-width="0.15" text-anchor="middle" dy="0.35em" textLength="22.6" lengthAdjust="spacingAndGlyphs">Ex19del</text><text transform="translate(408.05,375.3) rotate(90) scale(1,1.12)" font-size="6.3" fill="#e8e0f4" stroke="#e8e0f4" stroke-width="0.15" text-anchor="middle" dy="0.35em" textLength="19" lengthAdjust="spacingAndGlyphs">L858R</text><text transform="translate(416.85,375.3) rotate(90) scale(1,1.12)" font-size="6.3" fill="#e8e0f4" stroke="#e8e0f4" stroke-width="0.15" text-anchor="middle" dy="0.35em" textLength="19" lengthAdjust="spacingAndGlyphs">L858R</text><text transform="translate(425.65,375.3) rotate(90) scale(1,1.12)" font-size="6.3" fill="#fbe3e3" stroke="#fbe3e3" stroke-width="0.15" text-anchor="middle" dy="0.35em" textLength="22.6" lengthAdjust="spacingAndGlyphs">Ex19del</text><text transform="translate(434.45,375.3) rotate(90) scale(1,1.12)" font-size="6.3" fill="#e8e0f4" stroke="#e8e0f4" stroke-width="0.15" text-anchor="middle" dy="0.35em" textLength="19" lengthAdjust="spacingAndGlyphs">L858R</text><text transform="translate(443.25,375.3) rotate(90) scale(1,1.12)" font-size="6.3" fill="#e8e0f4" stroke="#e8e0f4" stroke-width="0.15" text-anchor="middle" dy="0.35em" textLength="19" lengthAdjust="spacingAndGlyphs">L858R</text><text transform="translate(452.05,375.3) rotate(90) scale(1,1.12)" font-size="6.3" fill="#e8e0f4" stroke="#e8e0f4" stroke-width="0.15" text-anchor="middle" dy="0.35em" textLength="19" lengthAdjust="spacingAndGlyphs">L858R</text><text transform="translate(460.85,375.3) rotate(90) scale(1,1.12)" font-size="6.3" fill="#fbe3e3" stroke="#fbe3e3" stroke-width="0.15" text-anchor="middle" dy="0.35em" textLength="22.6" lengthAdjust="spacingAndGlyphs">Ex19del</text><text transform="translate(469.65,375.3) rotate(90) scale(1,1.12)" font-size="6.3" fill="#fbe3e3" stroke="#fbe3e3" stroke-width="0.15" text-anchor="middle" dy="0.35em" textLength="22.6" lengthAdjust="spacingAndGlyphs">Ex19del</text><text transform="translate(478.45,375.3) rotate(90) scale(1,1.12)" font-size="6.3" fill="#fbe3e3" stroke="#fbe3e3" stroke-width="0.15" text-anchor="middle" dy="0.35em" textLength="22.6" lengthAdjust="spacingAndGlyphs">Ex19del</text><text transform="translate(487.25,375.3) rotate(90) scale(1,1.12)" font-size="6.3" fill="#fbe3e3" stroke="#fbe3e3" stroke-width="0.15" text-anchor="middle" dy="0.35em" textLength="22.6" lengthAdjust="spacingAndGlyphs">Ex19del</text><text transform="translate(496.05,375.3) rotate(90) scale(1,1.12)" font-size="6.3" fill="#fbe3e3" stroke="#fbe3e3" stroke-width="0.15" text-anchor="middle" dy="0.35em" textLength="22.6" lengthAdjust="spacingAndGlyphs">Ex19del</text><text transform="translate(504.85,375.3) rotate(90) scale(1,1.12)" font-size="6.3" fill="#e8e0f4" stroke="#e8e0f4" stroke-width="0.15" text-anchor="middle" dy="0.35em" textLength="19" lengthAdjust="spacingAndGlyphs">L858R</text><line x1="4" y1="313.3" x2="509.3" y2="313.3" stroke="#4f7fad" stroke-width="1.1"/><line x1="4" y1="356.3" x2="509.3" y2="356.3" stroke="#4f7fad" stroke-width="1.1"/><line x1="4" y1="410.3" x2="509.3" y2="410.3" stroke="#4f7fad" stroke-width="1.1"/><line x1="4" y1="467.4" x2="509.3" y2="467.4" stroke="#4f7fad" stroke-width="1.1"/><line x1="4" y1="481.8" x2="509.3" y2="481.8" stroke="#4f7fad" stroke-width="1.1"/><text transform="translate(26.2,331.8) scale(1,1.1)" font-size="6.1" fill="#141414" text-anchor="middle" stroke="#141414" stroke-width="0.12">Clinical</text><text transform="translate(26.2,340.1) scale(1,1.1)" font-size="6.1" fill="#141414" text-anchor="middle" stroke="#141414" stroke-width="0.12">characteristics</text><text transform="translate(26.2,380.8) scale(1,1.1)" font-size="6.1" fill="#141414" text-anchor="middle" stroke="#141414" stroke-width="0.12">Variances of</text><text transform="translate(26.2,388.3) scale(1,1.1)" font-size="6.1" fill="#141414" text-anchor="middle" stroke="#141414" stroke-width="0.12"><tspan font-style="italic">EGFR</tspan></text><text transform="translate(26.2,437) scale(1,1.1)" font-size="6.1" fill="#141414" text-anchor="middle" stroke="#141414" stroke-width="0.12">Other</text><text transform="translate(26.2,444.6) scale(1,1.1)" font-size="6.1" fill="#141414" text-anchor="middle" stroke="#141414" stroke-width="0.12">variances</text><text transform="translate(26.2,476.6) scale(1,1.1)" font-size="6.1" fill="#141414" text-anchor="middle" stroke="#141414" stroke-width="0.12">TMB</text><text transform="translate(67.4,318.9) scale(1,1.1)" font-size="5.4" fill="#141414" text-anchor="middle" stroke="#141414" stroke-width="0.12">Smoking</text><text transform="translate(67.4,326.4) scale(1,1.1)" font-size="5.4" fill="#141414" text-anchor="middle" stroke="#141414" stroke-width="0.12">history</text><text transform="translate(67.4,336.7) scale(1,1.1)" font-size="6.1" fill="#141414" text-anchor="middle" stroke="#141414" stroke-width="0.12">Male sex</text><text transform="translate(67.4,350.8) scale(1,1.1)" font-size="6.1" fill="#141414" text-anchor="middle" stroke="#141414" stroke-width="0.12"><tspan text-decoration="underline">&gt;</tspan>70 y.o</text><text transform="translate(67.4,369) scale(1,1.1)" font-size="6.1" fill="#141414" text-anchor="middle" stroke="#141414" stroke-width="0.12">EGFR-</text><text transform="translate(67.4,376.7) scale(1,1.1)" font-size="6.1" fill="#141414" text-anchor="middle" stroke="#141414" stroke-width="0.12">activating</text><text transform="translate(67.4,385.4) scale(1,1.1)" font-size="6.1" fill="#141414" text-anchor="middle" stroke="#141414" stroke-width="0.12">mutation</text><text transform="translate(67.4,405.1) scale(1,1.1)" font-size="6.1" fill="#141414" text-anchor="middle" stroke="#141414" stroke-width="0.12"><tspan font-style="italic">EGFR</tspan> CNG</text><text transform="translate(67.4,419.1) scale(1,1.1)" font-size="6.1" fill="#141414" text-anchor="middle" stroke="#141414" stroke-width="0.12"><tspan font-style="italic">MYCN</tspan> mut</text><text transform="translate(67.4,433.9) scale(1,1.1)" font-size="6.1" fill="#141414" text-anchor="middle" stroke="#141414" stroke-width="0.12"><tspan font-style="italic">RB1</tspan> mut</text><text transform="translate(67.4,448.4) scale(1,1.1)" font-size="6.1" fill="#141414" text-anchor="middle" stroke="#141414" stroke-width="0.12"><tspan font-style="italic">p53</tspan> mut</text><text transform="translate(67.4,462.6) scale(1,1.1)" font-size="6.1" fill="#141414" text-anchor="middle" stroke="#141414" stroke-width="0.12"><tspan font-style="italic">MYC</tspan> CNG</text><text transform="translate(66.2,476.6) scale(1,1.1)" font-size="6.1" fill="#141414" text-anchor="middle" stroke="#141414" stroke-width="0.12"><tspan text-decoration="underline">&gt;</tspan>10 mut/Mb</text><rect x="430" y="484.7" width="12.1" height="8.7" fill="#8cbb45"/><rect x="430" y="493.4" width="12.1" height="9.2" fill="#ebe8da"/><rect x="430" y="503" width="12.1" height="9.2" fill="#a5a4ab"/><text x="448.8" y="491.8" font-size="9" fill="#111">Yes</text><text x="448.8" y="501.4" font-size="9" fill="#111">No</text><text x="448.8" y="511.6" font-size="9" fill="#111">Not detected</text><line x1="32.8" y1="537.5" x2="32.8" y2="619.5" stroke="#707070" stroke-width="1"/><line x1="32.4" y1="619.1" x2="107.5" y2="619.1" stroke="#707070" stroke-width="1"/><line x1="31" y1="619.1" x2="32.8" y2="619.1" stroke="#707070" stroke-width="0.7"/><text x="30.2" y="621" font-size="5.4" fill="#222" text-anchor="end" stroke="#222" stroke-width="0.1">0</text><line x1="31" y1="593.25" x2="32.8" y2="593.25" stroke="#707070" stroke-width="0.7"/><text x="30.2" y="595.15" font-size="5.4" fill="#222" text-anchor="end" stroke="#222" stroke-width="0.1">100</text><line x1="31" y1="567.4" x2="32.8" y2="567.4" stroke="#707070" stroke-width="0.7"/><text x="30.2" y="569.3" font-size="5.4" fill="#222" text-anchor="end" stroke="#222" stroke-width="0.1">200</text><line x1="31" y1="541.55" x2="32.8" y2="541.55" stroke="#707070" stroke-width="0.7"/><text x="30.2" y="543.45" font-size="5.4" fill="#222" text-anchor="end" stroke="#222" stroke-width="0.1">300</text><line x1="32.8" y1="619.1" x2="32.8" y2="620.9" stroke="#707070" stroke-width="0.7"/><text x="32.8" y="626.4" font-size="5.4" fill="#222" text-anchor="middle" stroke="#222" stroke-width="0.1">0</text><line x1="51.4" y1="619.1" x2="51.4" y2="620.9" stroke="#707070" stroke-width="0.7"/><text x="51.4" y="626.4" font-size="5.4" fill="#222" text-anchor="middle" stroke="#222" stroke-width="0.1">100</text><line x1="70" y1="619.1" x2="70" y2="620.9" stroke="#707070" stroke-width="0.7"/><text x="70" y="626.4" font-size="5.4" fill="#222" text-anchor="middle" stroke="#222" stroke-width="0.1">200</text><line x1="88.6" y1="619.1" x2="88.6" y2="620.9" stroke="#707070" stroke-width="0.7"/><text x="88.6" y="626.4" font-size="5.4" fill="#222" text-anchor="middle" stroke="#222" stroke-width="0.1">300</text><line x1="107.2" y1="619.1" x2="107.2" y2="620.9" stroke="#707070" stroke-width="0.7"/><text x="107.2" y="626.4" font-size="5.4" fill="#222" text-anchor="middle" stroke="#222" stroke-width="0.1">400</text><text transform="translate(17.0,580) rotate(-90)" font-size="9.1" fill="#111" text-anchor="middle">HER3 H-score</text><text x="65.5" y="641.6" font-size="9.1" fill="#111" text-anchor="middle">HER3 mRNA</text><g fill="#4a72b0"><circle cx="67.77" cy="544.39" r="0.95"/><circle cx="51.4" cy="549.56" r="0.95"/><circle cx="66.09" cy="567.4" r="0.95"/><circle cx="47.87" cy="570.24" r="0.95"/><circle cx="58.84" cy="572.83" r="0.95"/><circle cx="36.15" cy="575.41" r="0.95"/><circle cx="52.89" cy="580.58" r="0.95"/><circle cx="70.93" cy="582.91" r="0.95"/><circle cx="93.06" cy="581.62" r="0.95"/><circle cx="46.38" cy="585.5" r="0.95"/><circle cx="50.84" cy="588.34" r="0.95"/><circle cx="49.17" cy="591.96" r="0.95"/><circle cx="48.61" cy="598.42" r="0.95"/><circle cx="54.93" cy="603.85" r="0.95"/><circle cx="42.29" cy="603.85" r="0.95"/><circle cx="36.71" cy="614.19" r="0.95"/><circle cx="41.73" cy="614.19" r="0.95"/><circle cx="43.22" cy="614.19" r="0.95"/><circle cx="45.63" cy="614.19" r="0.95"/><circle cx="46.94" cy="611.09" r="0.95"/><circle cx="50.1" cy="614.19" r="0.95"/><circle cx="60.89" cy="616.26" r="0.95"/><circle cx="37.08" cy="619.1" r="0.95"/><circle cx="39.68" cy="619.1" r="0.95"/><circle cx="44.33" cy="619.1" r="0.95"/><circle cx="64.23" cy="619.1" r="0.95"/></g><line x1="35.78" y1="606.95" x2="93.62" y2="564.56" stroke="#333" stroke-width="0.8"/><line x1="138.5" y1="537.5" x2="138.5" y2="618.6" stroke="#555" stroke-width="1"/><line x1="138.1" y1="618.2" x2="207.5" y2="618.2" stroke="#555" stroke-width="1"/><line x1="136.7" y1="537.8" x2="138.5" y2="537.8" stroke="#555" stroke-width="0.7"/><text x="135.9" y="539.6" font-size="5" fill="#222" text-anchor="end" stroke="#222" stroke-width="0.1">2</text><line x1="136.7" y1="549.3" x2="138.5" y2="549.3" stroke="#555" stroke-width="0.7"/><text x="135.9" y="551.1" font-size="5" fill="#222" text-anchor="end" stroke="#222" stroke-width="0.1">1.5</text><line x1="136.7" y1="560.8" x2="138.5" y2="560.8" stroke="#555" stroke-width="0.7"/><text x="135.9" y="562.6" font-size="5" fill="#222" text-anchor="end" stroke="#222" stroke-width="0.1">1</text><line x1="136.7" y1="572.3" x2="138.5" y2="572.3" stroke="#555" stroke-width="0.7"/><text x="135.9" y="574.1" font-size="5" fill="#222" text-anchor="end" stroke="#222" stroke-width="0.1">0.5</text><line x1="136.7" y1="583.8" x2="138.5" y2="583.8" stroke="#555" stroke-width="0.7"/><text x="135.9" y="585.6" font-size="5" fill="#222" text-anchor="end" stroke="#222" stroke-width="0.1">0</text><line x1="136.7" y1="595.3" x2="138.5" y2="595.3" stroke="#555" stroke-width="0.7"/><text x="135.9" y="597.1" font-size="5" fill="#222" text-anchor="end" stroke="#222" stroke-width="0.1">-0.5</text><line x1="136.7" y1="606.8" x2="138.5" y2="606.8" stroke="#555" stroke-width="0.7"/><text x="135.9" y="608.6" font-size="5" fill="#222" text-anchor="end" stroke="#222" stroke-width="0.1">-1</text><line x1="136.7" y1="618.3" x2="138.5" y2="618.3" stroke="#555" stroke-width="0.7"/><text x="135.9" y="620.1" font-size="5" fill="#222" text-anchor="end" stroke="#222" stroke-width="0.1">-1.5</text><line x1="138.5" y1="618.2" x2="138.5" y2="620" stroke="#555" stroke-width="0.7"/><text x="138.5" y="625.4" font-size="5" fill="#222" text-anchor="middle" stroke="#222" stroke-width="0.1">0</text><line x1="166.65" y1="618.2" x2="166.65" y2="620" stroke="#555" stroke-width="0.7"/><text x="166.65" y="625.4" font-size="5" fill="#222" text-anchor="middle" stroke="#222" stroke-width="0.1">10,000</text><line x1="194.8" y1="618.2" x2="194.8" y2="620" stroke="#555" stroke-width="0.7"/><text x="194.8" y="625.4" font-size="5" fill="#222" text-anchor="middle" stroke="#222" stroke-width="0.1">20,000</text><text transform="translate(122.2,580) rotate(-90)" font-size="9.1" fill="#111" text-anchor="middle">HER3 protein</text><text x="178" y="641.6" font-size="9.1" fill="#111" text-anchor="middle">HER3 mRNA</text><g fill="#2a78c4"><rect x="175.09" y="593.52" width="1.2" height="1.2" fill="#5ea6e4"/><rect x="153.13" y="586.87" width="1.2" height="1.2"/><rect x="147.34" y="586.79" width="1.2" height="1.2"/><rect x="141.89" y="590.06" width="1.2" height="1.2" fill="#5ea6e4"/><rect x="145.42" y="553.7" width="1.2" height="1.2"/><rect x="151.6" y="585.67" width="1.2" height="1.2"/><rect x="148.27" y="590.62" width="1.2" height="1.2" fill="#5ea6e4"/><rect x="144.68" y="590" width="1.2" height="1.2"/><rect x="153.68" y="583.38" width="1.2" height="1.2"/><rect x="158.4" y="580.31" width="1.2" height="1.2" fill="#5ea6e4"/><rect x="150.17" y="568.15" width="1.2" height="1.2"/><rect x="154.24" y="585.64" width="1.2" height="1.2"/><rect x="148.85" y="578.62" width="1.2" height="1.2" fill="#5ea6e4"/><rect x="172.99" y="572.64" width="1.2" height="1.2"/><rect x="148.49" y="574.36" width="1.2" height="1.2"/><rect x="145.33" y="588.67" width="1.2" height="1.2" fill="#5ea6e4"/><rect x="157.57" y="573.25" width="1.2" height="1.2"/><rect x="150.63" y="576.35" width="1.2" height="1.2"/><rect x="140.46" y="578.77" width="1.2" height="1.2" fill="#5ea6e4"/><rect x="145.04" y="602.13" width="1.2" height="1.2"/><rect x="151.99" y="575.27" width="1.2" height="1.2"/><rect x="147.38" y="595.08" width="1.2" height="1.2" fill="#5ea6e4"/><rect x="150.18" y="583.59" width="1.2" height="1.2"/><rect x="164.12" y="567.88" width="1.2" height="1.2"/><rect x="151.37" y="571.66" width="1.2" height="1.2" fill="#5ea6e4"/><rect x="148.71" y="592.86" width="1.2" height="1.2"/><rect x="154.59" y="574.93" width="1.2" height="1.2"/><rect x="148.66" y="591.51" width="1.2" height="1.2" fill="#5ea6e4"/><rect x="151.63" y="606.34" width="1.2" height="1.2"/><rect x="155.59" y="575.23" width="1.2" height="1.2"/><rect x="142.81" y="586.7" width="1.2" height="1.2" fill="#5ea6e4"/><rect x="145.02" y="578.71" width="1.2" height="1.2"/><rect x="141.85" y="596.67" width="1.2" height="1.2"/><rect x="155.78" y="568.7" width="1.2" height="1.2" fill="#5ea6e4"/><rect x="141.59" y="592.8" width="1.2" height="1.2"/><rect x="152.4" y="587.69" width="1.2" height="1.2"/><rect x="166.93" y="585" width="1.2" height="1.2" fill="#5ea6e4"/><rect x="152.61" y="591.81" width="1.2" height="1.2"/><rect x="164.13" y="575.31" width="1.2" height="1.2"/><rect x="147.76" y="601.06" width="1.2" height="1.2" fill="#5ea6e4"/><rect x="168.43" y="565.37" width="1.2" height="1.2"/><rect x="156.22" y="568.63" width="1.2" height="1.2"/><rect x="152.57" y="587.89" width="1.2" height="1.2" fill="#5ea6e4"/><rect x="145.69" y="593.37" width="1.2" height="1.2"/><rect x="163.62" y="589.5" width="1.2" height="1.2"/><rect x="146.62" y="588.22" width="1.2" height="1.2" fill="#5ea6e4"/><rect x="151.6" y="576.71" width="1.2" height="1.2"/><rect x="143.99" y="603.33" width="1.2" height="1.2"/><rect x="149.98" y="571.47" width="1.2" height="1.2" fill="#5ea6e4"/><rect x="156.26" y="577.52" width="1.2" height="1.2"/><rect x="148.07" y="581.45" width="1.2" height="1.2"/><rect x="148.49" y="576.15" width="1.2" height="1.2" fill="#5ea6e4"/><rect x="145.72" y="584.33" width="1.2" height="1.2"/><rect x="149.29" y="578.34" width="1.2" height="1.2"/><rect x="151.6" y="557.63" width="1.2" height="1.2" fill="#5ea6e4"/><rect x="165.5" y="559.86" width="1.2" height="1.2"/><rect x="141.84" y="591.13" width="1.2" height="1.2"/><rect x="146.56" y="580" width="1.2" height="1.2" fill="#5ea6e4"/><rect x="141.36" y="576.78" width="1.2" height="1.2"/><rect x="159.67" y="590.23" width="1.2" height="1.2"/><rect x="144.97" y="593.8" width="1.2" height="1.2" fill="#5ea6e4"/><rect x="150.3" y="576.82" width="1.2" height="1.2"/><rect x="175.23" y="570.65" width="1.2" height="1.2"/><rect x="156.36" y="578.04" width="1.2" height="1.2" fill="#5ea6e4"/><rect x="169.77" y="564.71" width="1.2" height="1.2"/><rect x="163.59" y="585.81" width="1.2" height="1.2"/><rect x="148.79" y="591.73" width="1.2" height="1.2" fill="#5ea6e4"/><rect x="165.6" y="567.91" width="1.2" height="1.2"/><rect x="148.13" y="588.62" width="1.2" height="1.2"/><rect x="153.7" y="587.84" width="1.2" height="1.2" fill="#5ea6e4"/><rect x="145.16" y="581.3" width="1.2" height="1.2"/><rect x="145.64" y="591.04" width="1.2" height="1.2"/><rect x="144.26" y="599.36" width="1.2" height="1.2" fill="#5ea6e4"/><rect x="154.06" y="572.64" width="1.2" height="1.2"/><rect x="150.07" y="579.93" width="1.2" height="1.2"/><rect x="150.8" y="581.38" width="1.2" height="1.2" fill="#5ea6e4"/><rect x="143.13" y="591.53" width="1.2" height="1.2"/><rect x="150.77" y="590.3" width="1.2" height="1.2"/><rect x="147.21" y="592.69" width="1.2" height="1.2" fill="#5ea6e4"/><rect x="147.98" y="576.1" width="1.2" height="1.2"/><rect x="147.58" y="586.05" width="1.2" height="1.2"/><rect x="156.84" y="573.04" width="1.2" height="1.2" fill="#5ea6e4"/><rect x="168.65" y="592.71" width="1.2" height="1.2"/><rect x="157.29" y="583.67" width="1.2" height="1.2"/><rect x="150.94" y="574.55" width="1.2" height="1.2" fill="#5ea6e4"/><rect x="159.86" y="567.5" width="1.2" height="1.2"/><rect x="151.08" y="567.01" width="1.2" height="1.2"/><rect x="148.26" y="585.54" width="1.2" height="1.2" fill="#5ea6e4"/><rect x="156.69" y="584.68" width="1.2" height="1.2"/><rect x="177.63" y="557.53" width="1.2" height="1.2"/><rect x="177.95" y="567.45" width="1.2" height="1.2" fill="#5ea6e4"/><rect x="147.7" y="582.88" width="1.2" height="1.2"/><rect x="156.03" y="585.41" width="1.2" height="1.2"/><rect x="152.82" y="581.73" width="1.2" height="1.2" fill="#5ea6e4"/><rect x="167.34" y="579.67" width="1.2" height="1.2"/><rect x="159.42" y="584.01" width="1.2" height="1.2"/><rect x="145.04" y="592.88" width="1.2" height="1.2" fill="#5ea6e4"/><rect x="144.19" y="585.09" width="1.2" height="1.2"/><rect x="159.24" y="576.31" width="1.2" height="1.2"/><rect x="154.96" y="564.57" width="1.2" height="1.2" fill="#5ea6e4"/><rect x="151.94" y="580.18" width="1.2" height="1.2"/><rect x="148.31" y="599.68" width="1.2" height="1.2"/><rect x="156.28" y="596.55" width="1.2" height="1.2" fill="#5ea6e4"/><rect x="155.23" y="580.33" width="1.2" height="1.2"/><rect x="160.4" y="577.89" width="1.2" height="1.2"/><rect x="145.6" y="582.24" width="1.2" height="1.2" fill="#5ea6e4"/><rect x="146.79" y="586.76" width="1.2" height="1.2"/><rect x="150.29" y="584.32" width="1.2" height="1.2"/><rect x="148.81" y="591.9" width="1.2" height="1.2" fill="#5ea6e4"/><rect x="148.81" y="604.52" width="1.2" height="1.2"/><rect x="149" y="595.32" width="1.2" height="1.2"/><rect x="160.31" y="565.01" width="1.2" height="1.2" fill="#5ea6e4"/><rect x="142.04" y="586.33" width="1.2" height="1.2"/><rect x="149.19" y="593.75" width="1.2" height="1.2"/><rect x="154.12" y="585.29" width="1.2" height="1.2" fill="#5ea6e4"/><rect x="142.48" y="590.06" width="1.2" height="1.2"/><rect x="149.06" y="582.69" width="1.2" height="1.2"/><rect x="144.05" y="580.64" width="1.2" height="1.2" fill="#5ea6e4"/><rect x="156.04" y="590.79" width="1.2" height="1.2"/><rect x="146.33" y="586.06" width="1.2" height="1.2"/><rect x="146.77" y="568.18" width="1.2" height="1.2" fill="#5ea6e4"/><rect x="151.47" y="592.1" width="1.2" height="1.2"/><rect x="145.75" y="586.17" width="1.2" height="1.2"/><rect x="180.69" y="567.35" width="1.2" height="1.2" fill="#5ea6e4"/><rect x="150.88" y="577.71" width="1.2" height="1.2"/><rect x="149.74" y="561.3" width="1.2" height="1.2"/><rect x="146.94" y="577.74" width="1.2" height="1.2" fill="#5ea6e4"/><rect x="151.12" y="576.54" width="1.2" height="1.2"/><rect x="144.24" y="569.4" width="1.2" height="1.2"/><rect x="149.22" y="583.29" width="1.2" height="1.2" fill="#5ea6e4"/><rect x="145.14" y="593.01" width="1.2" height="1.2"/><rect x="154.41" y="571.13" width="1.2" height="1.2"/><rect x="156.22" y="567.94" width="1.2" height="1.2" fill="#5ea6e4"/><rect x="155.83" y="579.57" width="1.2" height="1.2"/><rect x="157.08" y="573.4" width="1.2" height="1.2"/><rect x="149.35" y="576.54" width="1.2" height="1.2" fill="#5ea6e4"/><rect x="162.45" y="573.79" width="1.2" height="1.2"/><rect x="147.85" y="577.47" width="1.2" height="1.2"/><rect x="172.33" y="572.44" width="1.2" height="1.2" fill="#5ea6e4"/><rect x="149.41" y="584.84" width="1.2" height="1.2"/><rect x="161.62" y="594.28" width="1.2" height="1.2"/><rect x="152.7" y="570.12" width="1.2" height="1.2" fill="#5ea6e4"/><rect x="145.64" y="571.29" width="1.2" height="1.2"/><rect x="154.15" y="586.11" width="1.2" height="1.2"/><rect x="151.44" y="597.18" width="1.2" height="1.2" fill="#5ea6e4"/><rect x="146.77" y="567.38" width="1.2" height="1.2"/><rect x="145.3" y="568.05" width="1.2" height="1.2"/><rect x="149.47" y="573.87" width="1.2" height="1.2" fill="#5ea6e4"/><rect x="150.3" y="604.66" width="1.2" height="1.2"/><rect x="146.73" y="583.21" width="1.2" height="1.2"/><rect x="144.33" y="599.44" width="1.2" height="1.2" fill="#5ea6e4"/><rect x="152.71" y="587.91" width="1.2" height="1.2"/><rect x="142.66" y="593.98" width="1.2" height="1.2"/><rect x="157.33" y="583.56" width="1.2" height="1.2" fill="#5ea6e4"/><rect x="158.14" y="563.77" width="1.2" height="1.2"/><rect x="150.22" y="593.96" width="1.2" height="1.2"/><rect x="143.82" y="586.97" width="1.2" height="1.2" fill="#5ea6e4"/><rect x="157.55" y="576.26" width="1.2" height="1.2"/><rect x="154.26" y="585.03" width="1.2" height="1.2"/><rect x="152.18" y="586.49" width="1.2" height="1.2" fill="#5ea6e4"/><rect x="148.02" y="596.8" width="1.2" height="1.2"/><rect x="143" y="591.84" width="1.2" height="1.2"/><rect x="144.48" y="595.6" width="1.2" height="1.2" fill="#5ea6e4"/><rect x="155.41" y="581.12" width="1.2" height="1.2"/><rect x="156.3" y="585.69" width="1.2" height="1.2"/><rect x="156.47" y="576.03" width="1.2" height="1.2" fill="#5ea6e4"/><rect x="146.2" y="574.7" width="1.2" height="1.2"/><rect x="145.8" y="615.12" width="1.2" height="1.2"/><rect x="156.63" y="585.35" width="1.2" height="1.2" fill="#5ea6e4"/><rect x="165.31" y="580.7" width="1.2" height="1.2"/><rect x="144.22" y="571.53" width="1.2" height="1.2"/><rect x="144.6" y="584.3" width="1.2" height="1.2" fill="#5ea6e4"/><rect x="164.77" y="573.63" width="1.2" height="1.2"/><rect x="149.48" y="582.49" width="1.2" height="1.2"/><rect x="157.1" y="586.91" width="1.2" height="1.2" fill="#5ea6e4"/><rect x="154.84" y="574.84" width="1.2" height="1.2"/><rect x="181.57" y="568.38" width="1.2" height="1.2"/><rect x="145.22" y="578.81" width="1.2" height="1.2" fill="#5ea6e4"/><rect x="147.63" y="581.74" width="1.2" height="1.2"/><rect x="150.92" y="571.37" width="1.2" height="1.2"/><rect x="146.33" y="586.17" width="1.2" height="1.2" fill="#5ea6e4"/><rect x="140.87" y="597" width="1.2" height="1.2"/><rect x="166.08" y="580.57" width="1.2" height="1.2"/><rect x="146.13" y="597.16" width="1.2" height="1.2" fill="#5ea6e4"/><rect x="154.55" y="578.86" width="1.2" height="1.2"/><rect x="144.2" y="580.05" width="1.2" height="1.2"/><rect x="151.87" y="574.83" width="1.2" height="1.2" fill="#5ea6e4"/><rect x="146.41" y="568.45" width="1.2" height="1.2"/><rect x="153.07" y="582.56" width="1.2" height="1.2"/><rect x="147" y="587.26" width="1.2" height="1.2" fill="#5ea6e4"/><rect x="157.31" y="581.6" width="1.2" height="1.2"/><rect x="159.8" y="571.96" width="1.2" height="1.2"/><rect x="163.28" y="567.72" width="1.2" height="1.2" fill="#5ea6e4"/><rect x="149.59" y="601.86" width="1.2" height="1.2"/><rect x="152.16" y="574.32" width="1.2" height="1.2"/><rect x="151.14" y="577.15" width="1.2" height="1.2" fill="#5ea6e4"/><rect x="147.24" y="588.43" width="1.2" height="1.2"/><rect x="145.11" y="572.82" width="1.2" height="1.2"/><rect x="151.11" y="587.3" width="1.2" height="1.2" fill="#5ea6e4"/><rect x="143.72" y="588.25" width="1.2" height="1.2"/><rect x="164.66" y="570.33" width="1.2" height="1.2"/><rect x="146.03" y="571.64" width="1.2" height="1.2" fill="#5ea6e4"/><rect x="164.46" y="565.44" width="1.2" height="1.2"/><rect x="156.58" y="568.25" width="1.2" height="1.2"/><rect x="154.22" y="573.28" width="1.2" height="1.2" fill="#5ea6e4"/><rect x="145.78" y="571.11" width="1.2" height="1.2"/><rect x="151.65" y="562.68" width="1.2" height="1.2"/><rect x="141.84" y="581.03" width="1.2" height="1.2" fill="#5ea6e4"/><rect x="158.67" y="581.54" width="1.2" height="1.2"/><rect x="153.42" y="573.99" width="1.2" height="1.2"/><rect x="154.53" y="585.8" width="1.2" height="1.2" fill="#5ea6e4"/><rect x="149.1" y="573.85" width="1.2" height="1.2"/><rect x="162.34" y="575.17" width="1.2" height="1.2"/><rect x="150.53" y="580.94" width="1.2" height="1.2" fill="#5ea6e4"/><rect x="159.32" y="588.03" width="1.2" height="1.2"/><rect x="143.73" y="585.57" width="1.2" height="1.2"/><rect x="144.49" y="592" width="1.2" height="1.2" fill="#5ea6e4"/><rect x="150.59" y="578.18" width="1.2" height="1.2"/><rect x="144.61" y="578.52" width="1.2" height="1.2"/><rect x="142.46" y="582.22" width="1.2" height="1.2" fill="#5ea6e4"/><rect x="142.98" y="599.51" width="1.2" height="1.2"/><rect x="155.13" y="584.17" width="1.2" height="1.2"/><rect x="145.71" y="589.93" width="1.2" height="1.2" fill="#5ea6e4"/><rect x="153.53" y="581.68" width="1.2" height="1.2"/><rect x="149.81" y="573.1" width="1.2" height="1.2"/><rect x="146.06" y="589.99" width="1.2" height="1.2" fill="#5ea6e4"/><rect x="146.98" y="573.61" width="1.2" height="1.2"/><rect x="158.78" y="565.72" width="1.2" height="1.2"/><rect x="149.78" y="584.82" width="1.2" height="1.2" fill="#5ea6e4"/><rect x="157.25" y="582.84" width="1.2" height="1.2"/><rect x="157.01" y="572.17" width="1.2" height="1.2"/><rect x="146.14" y="586.19" width="1.2" height="1.2" fill="#5ea6e4"/><rect x="149.24" y="566.87" width="1.2" height="1.2"/><rect x="148.42" y="583.95" width="1.2" height="1.2"/><rect x="141.35" y="586.08" width="1.2" height="1.2" fill="#5ea6e4"/><rect x="149.96" y="593.57" width="1.2" height="1.2"/><rect x="156.55" y="594.56" width="1.2" height="1.2"/><rect x="148.66" y="582.61" width="1.2" height="1.2" fill="#5ea6e4"/><rect x="143.99" y="578.34" width="1.2" height="1.2"/><rect x="159.53" y="591.12" width="1.2" height="1.2"/><rect x="143.48" y="581.09" width="1.2" height="1.2" fill="#5ea6e4"/><rect x="149.8" y="594.99" width="1.2" height="1.2"/><rect x="148.19" y="585.25" width="1.2" height="1.2"/><rect x="149.09" y="575.71" width="1.2" height="1.2" fill="#5ea6e4"/><rect x="152.85" y="564.46" width="1.2" height="1.2"/><rect x="163.68" y="568.8" width="1.2" height="1.2"/><rect x="159.79" y="564.79" width="1.2" height="1.2" fill="#5ea6e4"/><rect x="155.75" y="591.73" width="1.2" height="1.2"/><rect x="157.32" y="578.3" width="1.2" height="1.2"/><rect x="167.39" y="572.33" width="1.2" height="1.2" fill="#5ea6e4"/><rect x="154.07" y="577.67" width="1.2" height="1.2"/><rect x="168.42" y="570.94" width="1.2" height="1.2"/><rect x="148.34" y="581.15" width="1.2" height="1.2" fill="#5ea6e4"/><rect x="147.41" y="583.1" width="1.2" height="1.2"/><rect x="149.95" y="580.58" width="1.2" height="1.2"/><rect x="172.76" y="574.08" width="1.2" height="1.2" fill="#5ea6e4"/><rect x="150.25" y="584.96" width="1.2" height="1.2"/><rect x="155.42" y="591.49" width="1.2" height="1.2"/><rect x="146.17" y="585.75" width="1.2" height="1.2" fill="#5ea6e4"/><rect x="154.25" y="581.2" width="1.2" height="1.2"/><rect x="147.09" y="593.22" width="1.2" height="1.2"/><rect x="153.94" y="566.99" width="1.2" height="1.2" fill="#5ea6e4"/><rect x="152.36" y="580.01" width="1.2" height="1.2"/><rect x="153.35" y="590.37" width="1.2" height="1.2"/><rect x="148.1" y="586.86" width="1.2" height="1.2" fill="#5ea6e4"/><rect x="152.14" y="582.27" width="1.2" height="1.2"/><rect x="144.1" y="575.68" width="1.2" height="1.2"/><rect x="168.6" y="575.08" width="1.2" height="1.2" fill="#5ea6e4"/><rect x="152.97" y="578.9" width="1.2" height="1.2"/><rect x="156.54" y="593.74" width="1.2" height="1.2"/><rect x="167.29" y="577.81" width="1.2" height="1.2" fill="#5ea6e4"/><rect x="162.16" y="575.44" width="1.2" height="1.2"/><rect x="147.67" y="585.87" width="1.2" height="1.2"/><rect x="157.73" y="587.1" width="1.2" height="1.2" fill="#5ea6e4"/><rect x="147.75" y="589.13" width="1.2" height="1.2"/><rect x="142.61" y="574.84" width="1.2" height="1.2"/><rect x="154.54" y="580.79" width="1.2" height="1.2" fill="#5ea6e4"/><rect x="160.86" y="586.21" width="1.2" height="1.2"/><rect x="149.53" y="566.78" width="1.2" height="1.2"/><rect x="158.65" y="599.73" width="1.2" height="1.2" fill="#5ea6e4"/><rect x="139.84" y="599.02" width="1.2" height="1.2"/><rect x="159.6" y="582.25" width="1.2" height="1.2"/><rect x="148.64" y="578.08" width="1.2" height="1.2" fill="#5ea6e4"/><rect x="145.34" y="583.79" width="1.2" height="1.2"/><rect x="156.61" y="574.89" width="1.2" height="1.2"/><rect x="152.95" y="587.31" width="1.2" height="1.2" fill="#5ea6e4"/><rect x="153.96" y="585.04" width="1.2" height="1.2"/><rect x="162.71" y="551.08" width="1.2" height="1.2"/><rect x="145.96" y="606.5" width="1.2" height="1.2" fill="#5ea6e4"/><rect x="147.48" y="580.98" width="1.2" height="1.2"/><rect x="159.47" y="567.34" width="1.2" height="1.2"/><rect x="145.76" y="593.26" width="1.2" height="1.2" fill="#5ea6e4"/><rect x="162.2" y="586.75" width="1.2" height="1.2"/><rect x="159.95" y="579.68" width="1.2" height="1.2"/><rect x="156.35" y="572.73" width="1.2" height="1.2" fill="#5ea6e4"/><rect x="156.45" y="571.56" width="1.2" height="1.2"/><rect x="144.92" y="583.21" width="1.2" height="1.2"/><rect x="150.1" y="580.14" width="1.2" height="1.2" fill="#5ea6e4"/><rect x="161.75" y="579.08" width="1.2" height="1.2"/><rect x="146.08" y="592.45" width="1.2" height="1.2"/><rect x="148.1" y="576.99" width="1.2" height="1.2" fill="#5ea6e4"/><rect x="145.63" y="574.48" width="1.2" height="1.2"/><rect x="152.1" y="584.16" width="1.2" height="1.2"/><rect x="143.72" y="584.41" width="1.2" height="1.2" fill="#5ea6e4"/><rect x="155.61" y="597.03" width="1.2" height="1.2"/><rect x="161.22" y="560.85" width="1.2" height="1.2"/><rect x="152.48" y="577.01" width="1.2" height="1.2" fill="#5ea6e4"/><rect x="158.48" y="587" width="1.2" height="1.2"/><rect x="149.89" y="584.76" width="1.2" height="1.2"/><rect x="149.04" y="606.57" width="1.2" height="1.2" fill="#5ea6e4"/><rect x="156.26" y="585.75" width="1.2" height="1.2"/><rect x="151.14" y="583.84" width="1.2" height="1.2"/><rect x="157.44" y="581.78" width="1.2" height="1.2" fill="#5ea6e4"/><rect x="145.72" y="580.49" width="1.2" height="1.2"/><rect x="164.11" y="578.2" width="1.2" height="1.2"/><rect x="163.61" y="572.86" width="1.2" height="1.2" fill="#5ea6e4"/><rect x="146.93" y="570.2" width="1.2" height="1.2"/><rect x="145.62" y="575.89" width="1.2" height="1.2"/><rect x="147.1" y="580.49" width="1.2" height="1.2" fill="#5ea6e4"/><rect x="144.04" y="594.68" width="1.2" height="1.2"/><rect x="159.64" y="575.85" width="1.2" height="1.2"/><rect x="150.26" y="587.28" width="1.2" height="1.2" fill="#5ea6e4"/><rect x="153.37" y="594.75" width="1.2" height="1.2"/><rect x="144.44" y="587.89" width="1.2" height="1.2"/><rect x="145.55" y="592.49" width="1.2" height="1.2" fill="#5ea6e4"/><rect x="149.54" y="584.77" width="1.2" height="1.2"/><rect x="148.61" y="567.89" width="1.2" height="1.2"/><rect x="159.01" y="566.15" width="1.2" height="1.2" fill="#5ea6e4"/><rect x="149.82" y="588.16" width="1.2" height="1.2"/><rect x="143.34" y="590.35" width="1.2" height="1.2"/><rect x="141.74" y="593.54" width="1.2" height="1.2" fill="#5ea6e4"/><rect x="156.33" y="563.9" width="1.2" height="1.2"/><rect x="158.49" y="586.65" width="1.2" height="1.2"/><rect x="153.77" y="588.65" width="1.2" height="1.2" fill="#5ea6e4"/><rect x="156.93" y="580.29" width="1.2" height="1.2"/><rect x="157.31" y="554.15" width="1.2" height="1.2"/><rect x="158" y="556.07" width="1.2" height="1.2" fill="#5ea6e4"/><rect x="151.25" y="585.65" width="1.2" height="1.2"/><rect x="163.11" y="559.03" width="1.2" height="1.2"/><rect x="146.82" y="584.26" width="1.2" height="1.2" fill="#5ea6e4"/><rect x="143.4" y="588.89" width="1.2" height="1.2"/><rect x="157.63" y="579.65" width="1.2" height="1.2"/><rect x="146.75" y="598.63" width="1.2" height="1.2" fill="#5ea6e4"/><rect x="152.72" y="573.92" width="1.2" height="1.2"/><rect x="154.7" y="578.02" width="1.2" height="1.2"/><rect x="143.91" y="569.65" width="1.2" height="1.2" fill="#5ea6e4"/><rect x="149.63" y="584.79" width="1.2" height="1.2"/><rect x="156.01" y="600.64" width="1.2" height="1.2"/><rect x="149.58" y="584.74" width="1.2" height="1.2" fill="#5ea6e4"/><rect x="152.75" y="568.59" width="1.2" height="1.2"/><rect x="153.59" y="598.82" width="1.2" height="1.2"/><rect x="147.95" y="582.37" width="1.2" height="1.2" fill="#5ea6e4"/><rect x="151.03" y="594.97" width="1.2" height="1.2"/><rect x="142.75" y="582.02" width="1.2" height="1.2"/><rect x="152.52" y="581.94" width="1.2" height="1.2" fill="#5ea6e4"/><rect x="142.59" y="570.28" width="1.2" height="1.2"/><rect x="140.36" y="592.21" width="1.2" height="1.2"/><rect x="176.13" y="569.75" width="1.2" height="1.2" fill="#5ea6e4"/><rect x="151.65" y="593.63" width="1.2" height="1.2"/><rect x="163.45" y="587.97" width="1.2" height="1.2"/><rect x="151.82" y="580.83" width="1.2" height="1.2" fill="#5ea6e4"/><rect x="144.69" y="577.65" width="1.2" height="1.2"/><rect x="143.46" y="593.53" width="1.2" height="1.2"/><rect x="149.81" y="587.27" width="1.2" height="1.2" fill="#5ea6e4"/><rect x="153.56" y="572.22" width="1.2" height="1.2"/><rect x="148.2" y="589.44" width="1.2" height="1.2"/><rect x="147.01" y="588.42" width="1.2" height="1.2" fill="#5ea6e4"/><rect x="156.79" y="581.4" width="1.2" height="1.2"/><rect x="153.05" y="582.32" width="1.2" height="1.2"/><rect x="145.51" y="577.41" width="1.2" height="1.2" fill="#5ea6e4"/><rect x="144.74" y="586.13" width="1.2" height="1.2"/><rect x="165.32" y="584.97" width="1.2" height="1.2"/><rect x="149.64" y="598.69" width="1.2" height="1.2" fill="#5ea6e4"/><rect x="147.05" y="599.31" width="1.2" height="1.2"/><rect x="147.82" y="589.63" width="1.2" height="1.2"/><rect x="150.92" y="567.35" width="1.2" height="1.2" fill="#5ea6e4"/><rect x="152.04" y="575.65" width="1.2" height="1.2"/><rect x="149.67" y="585.73" width="1.2" height="1.2"/><rect x="145.55" y="603.12" width="1.2" height="1.2" fill="#5ea6e4"/><rect x="150.47" y="567.17" width="1.2" height="1.2"/><rect x="153.63" y="586.26" width="1.2" height="1.2"/><rect x="167.89" y="577.13" width="1.2" height="1.2" fill="#5ea6e4"/><rect x="146.51" y="596.89" width="1.2" height="1.2"/><rect x="145.03" y="588.4" width="1.2" height="1.2"/><rect x="174.24" y="571.31" width="1.2" height="1.2" fill="#5ea6e4"/><rect x="144.76" y="592.02" width="1.2" height="1.2"/><rect x="148.61" y="600.51" width="1.2" height="1.2"/><rect x="150.88" y="575.91" width="1.2" height="1.2" fill="#5ea6e4"/><rect x="152.34" y="576.04" width="1.2" height="1.2"/><rect x="143.86" y="603.1" width="1.2" height="1.2"/><rect x="162.45" y="565.49" width="1.2" height="1.2" fill="#5ea6e4"/><rect x="143.09" y="585.14" width="1.2" height="1.2"/><rect x="150.18" y="577.82" width="1.2" height="1.2"/><rect x="151.48" y="587.19" width="1.2" height="1.2" fill="#5ea6e4"/><rect x="151.38" y="580.88" width="1.2" height="1.2"/><rect x="149.69" y="601.25" width="1.2" height="1.2"/><rect x="140.23" y="596.4" width="1.2" height="1.2" fill="#5ea6e4"/><rect x="142.83" y="584.84" width="1.2" height="1.2"/><rect x="155.85" y="577.29" width="1.2" height="1.2"/><rect x="147.78" y="583.77" width="1.2" height="1.2" fill="#5ea6e4"/><rect x="160.9" y="583.98" width="1.2" height="1.2"/><rect x="158" y="571.77" width="1.2" height="1.2"/><rect x="151.88" y="568.08" width="1.2" height="1.2" fill="#5ea6e4"/><rect x="146.06" y="576.33" width="1.2" height="1.2"/><rect x="145.16" y="593.36" width="1.2" height="1.2"/><rect x="144.66" y="581.93" width="1.2" height="1.2" fill="#5ea6e4"/><rect x="145.12" y="585.47" width="1.2" height="1.2"/><rect x="144.38" y="576.1" width="1.2" height="1.2"/><rect x="171.13" y="568.91" width="1.2" height="1.2" fill="#5ea6e4"/><rect x="167.79" y="567.59" width="1.2" height="1.2"/><rect x="177.81" y="566.31" width="1.2" height="1.2"/><rect x="143" y="572.78" width="1.2" height="1.2" fill="#5ea6e4"/><rect x="149.19" y="593.65" width="1.2" height="1.2"/><rect x="146.34" y="600.98" width="1.2" height="1.2"/><rect x="148.94" y="594.14" width="1.2" height="1.2" fill="#5ea6e4"/><rect x="165.28" y="568.02" width="1.2" height="1.2"/><rect x="142.76" y="601.9" width="1.2" height="1.2"/><rect x="146.76" y="603.63" width="1.2" height="1.2" fill="#5ea6e4"/><rect x="149.3" y="584" width="1.2" height="1.2"/><rect x="145.81" y="590.85" width="1.2" height="1.2"/><rect x="184.35" y="551" width="1.2" height="1.2" fill="#5ea6e4"/><rect x="199.83" y="572.85" width="1.2" height="1.2"/><rect x="180.12" y="562.5" width="1.2" height="1.2"/><rect x="175.9" y="564.8" width="1.2" height="1.2" fill="#5ea6e4"/><rect x="185.75" y="577.45" width="1.2" height="1.2"/><rect x="139.87" y="613.1" width="1.2" height="1.2"/><rect x="139.03" y="608.5" width="1.2" height="1.2" fill="#5ea6e4"/><rect x="140.43" y="603.9" width="1.2" height="1.2"/></g><line x1="138.5" y1="589.4" x2="199.8" y2="557.8" stroke="#333" stroke-width="0.8"/><line x1="248" y1="537.6" x2="248" y2="618.6" stroke="#333" stroke-width="1"/><line x1="247.5" y1="618.1" x2="303" y2="618.1" stroke="#333" stroke-width="1"/><line x1="246.2" y1="618.1" x2="248" y2="618.1" stroke="#333" stroke-width="0.8"/><text x="245.4" y="619.8" font-size="4.8" fill="#222" text-anchor="end" stroke="#222" stroke-width="0.1">0</text><line x1="246.2" y1="592.9" x2="248" y2="592.9" stroke="#333" stroke-width="0.8"/><text x="245.4" y="594.6" font-size="4.8" fill="#222" text-anchor="end" stroke="#222" stroke-width="0.1">100</text><line x1="246.2" y1="567.7" x2="248" y2="567.7" stroke="#333" stroke-width="0.8"/><text x="245.4" y="569.4" font-size="4.8" fill="#222" text-anchor="end" stroke="#222" stroke-width="0.1">200</text><line x1="246.2" y1="542.5" x2="248" y2="542.5" stroke="#333" stroke-width="0.8"/><text x="245.4" y="544.2" font-size="4.8" fill="#222" text-anchor="end" stroke="#222" stroke-width="0.1">300</text><line x1="261.55" y1="545.02" x2="261.55" y2="571.48" stroke="#2a2a2a" stroke-width="0.9"/><line x1="261.55" y1="612.3" x2="261.55" y2="618.1" stroke="#2a2a2a" stroke-width="0.9"/><line x1="256.95" y1="545.02" x2="266.15" y2="545.02" stroke="#2a2a2a" stroke-width="1"/><line x1="256.95" y1="618.1" x2="266.15" y2="618.1" stroke="#2a2a2a" stroke-width="1"/><rect x="252.4" y="571.48" width="18.3" height="40.82" fill="#86a8d8" stroke="#1b2d4a" stroke-width="1"/><line x1="252.4" y1="587.86" x2="270.7" y2="587.86" stroke="#1b2d4a" stroke-width="1.3"/><line x1="288.45" y1="566.44" x2="288.45" y2="587.36" stroke="#2a2a2a" stroke-width="0.9"/><line x1="288.45" y1="617.6" x2="288.45" y2="618.1" stroke="#2a2a2a" stroke-width="0.9"/><line x1="284.2" y1="566.44" x2="292.7" y2="566.44" stroke="#2a2a2a" stroke-width="1"/><line x1="284.2" y1="618.1" x2="292.7" y2="618.1" stroke="#2a2a2a" stroke-width="1"/><rect x="279.6" y="587.36" width="17.7" height="30.24" fill="#86a8d8" stroke="#1b2d4a" stroke-width="1"/><line x1="279.6" y1="613.06" x2="297.3" y2="613.06" stroke="#1b2d4a" stroke-width="1.3"/><line x1="260.7" y1="535.5" x2="285.8" y2="535.5" stroke="#6a6a6a" stroke-width="0.8"/><text x="274" y="533.5" font-size="7.5" fill="#111" text-anchor="middle" font-weight="bold">*</text><text transform="translate(233.6,579.6) rotate(-90)" font-size="9" fill="#111" text-anchor="middle">HER3 H-score</text><text x="251.7" y="633.4" font-size="9" fill="#111" text-anchor="middle" font-style="italic">EGFR</text><text x="251.8" y="642.9" font-size="9" fill="#111" text-anchor="middle">Non-CNG</text><text x="289.3" y="633.4" font-size="9" fill="#111" text-anchor="middle" font-style="italic">EGFR</text><text x="289.6" y="642.9" font-size="9" fill="#111" text-anchor="middle">CNG</text><line x1="349.4" y1="536.8" x2="349.4" y2="618.8" stroke="#333" stroke-width="1"/><line x1="348.9" y1="618.3" x2="403.4" y2="618.3" stroke="#333" stroke-width="1"/><line x1="347.6" y1="618" x2="349.4" y2="618" stroke="#333" stroke-width="0.8"/><text x="346.8" y="619.7" font-size="4.8" fill="#222" text-anchor="end" stroke="#222" stroke-width="0.1">-1</text><line x1="347.6" y1="590.7" x2="349.4" y2="590.7" stroke="#333" stroke-width="0.8"/><text x="346.8" y="592.4" font-size="4.8" fill="#222" text-anchor="end" stroke="#222" stroke-width="0.1">0</text><line x1="347.6" y1="563.4" x2="349.4" y2="563.4" stroke="#333" stroke-width="0.8"/><text x="346.8" y="565.1" font-size="4.8" fill="#222" text-anchor="end" stroke="#222" stroke-width="0.1">1</text><line x1="347.6" y1="536.1" x2="349.4" y2="536.1" stroke="#333" stroke-width="0.8"/><text x="346.8" y="537.8" font-size="4.8" fill="#222" text-anchor="end" stroke="#222" stroke-width="0.1">2</text><line x1="362.65" y1="548.38" x2="362.65" y2="578.42" stroke="#444" stroke-width="0.9"/><line x1="362.65" y1="594.8" x2="362.65" y2="613.91" stroke="#444" stroke-width="0.9"/><line x1="358.15" y1="548.38" x2="367.15" y2="548.38" stroke="#444" stroke-width="1"/><line x1="358.15" y1="613.91" x2="367.15" y2="613.91" stroke="#444" stroke-width="1"/><rect x="354" y="578.42" width="17.3" height="16.38" fill="#86a8d8" stroke="#1b2d4a" stroke-width="1"/><line x1="354" y1="587.15" x2="371.3" y2="587.15" stroke="#1b2d4a" stroke-width="1.3"/><line x1="389.6" y1="572.96" x2="389.6" y2="586.61" stroke="#444" stroke-width="0.9"/><line x1="389.6" y1="598.89" x2="389.6" y2="613.91" stroke="#444" stroke-width="0.9"/><line x1="385.1" y1="572.96" x2="394.1" y2="572.96" stroke="#444" stroke-width="1"/><line x1="385.1" y1="613.91" x2="394.1" y2="613.91" stroke="#444" stroke-width="1"/><rect x="381.1" y="586.61" width="17" height="12.29" fill="#86a8d8" stroke="#1b2d4a" stroke-width="1"/><line x1="381.1" y1="593.43" x2="398.1" y2="593.43" stroke="#1b2d4a" stroke-width="1.3"/><line x1="361.5" y1="538.5" x2="385.4" y2="538.5" stroke="#9a9a9a" stroke-width="1.3"/><text x="374" y="536.4" font-size="7.5" fill="#111" text-anchor="middle" font-weight="bold">*</text><text transform="translate(339.0,576) rotate(-90)" font-size="9" fill="#111" text-anchor="middle">HER3 PPPA</text><text x="358.2" y="633.4" font-size="9" fill="#111" text-anchor="middle" font-style="italic">EGFR</text><text x="356.3" y="642.9" font-size="9" fill="#111" text-anchor="middle">diploid</text><text x="397.7" y="633.4" font-size="9" fill="#111" text-anchor="middle" font-style="italic">EGFR</text><text x="399.4" y="642.9" font-size="9" fill="#111" text-anchor="middle">amplification</text><line x1="449.5" y1="536.8" x2="449.5" y2="618.8" stroke="#333" stroke-width="1"/><line x1="449" y1="618.3" x2="503.5" y2="618.3" stroke="#333" stroke-width="1"/><line x1="447.7" y1="618.3" x2="449.5" y2="618.3" stroke="#333" stroke-width="0.8"/><text x="446.9" y="620" font-size="4.8" fill="#222" text-anchor="end" stroke="#222" stroke-width="0.1">0</text><line x1="447.7" y1="593.03" x2="449.5" y2="593.03" stroke="#333" stroke-width="0.8"/><text x="446.9" y="594.73" font-size="4.8" fill="#222" text-anchor="end" stroke="#222" stroke-width="0.1">100</text><line x1="447.7" y1="567.76" x2="449.5" y2="567.76" stroke="#333" stroke-width="0.8"/><text x="446.9" y="569.46" font-size="4.8" fill="#222" text-anchor="end" stroke="#222" stroke-width="0.1">200</text><line x1="447.7" y1="542.49" x2="449.5" y2="542.49" stroke="#333" stroke-width="0.8"/><text x="446.9" y="544.19" font-size="4.8" fill="#222" text-anchor="end" stroke="#222" stroke-width="0.1">300</text><line x1="463" y1="545.02" x2="463" y2="572.81" stroke="#2a2a2a" stroke-width="0.9"/><line x1="463" y1="613.25" x2="463" y2="618.3" stroke="#2a2a2a" stroke-width="0.9"/><line x1="458.5" y1="545.02" x2="467.5" y2="545.02" stroke="#2a2a2a" stroke-width="1"/><line x1="458.5" y1="618.3" x2="467.5" y2="618.3" stroke="#2a2a2a" stroke-width="1"/><rect x="454" y="572.81" width="18" height="40.43" fill="#86a8d8" stroke="#1b2d4a" stroke-width="1"/><line x1="454" y1="594.29" x2="472" y2="594.29" stroke="#1b2d4a" stroke-width="1.3"/><line x1="490.05" y1="545.02" x2="490.05" y2="567.76" stroke="#2a2a2a" stroke-width="0.9"/><line x1="490.05" y1="594.29" x2="490.05" y2="618.3" stroke="#2a2a2a" stroke-width="0.9"/><line x1="485.55" y1="545.02" x2="494.55" y2="545.02" stroke="#2a2a2a" stroke-width="1"/><line x1="485.55" y1="618.3" x2="494.55" y2="618.3" stroke="#2a2a2a" stroke-width="1"/><rect x="481.2" y="567.76" width="17.7" height="26.53" fill="#86a8d8" stroke="#1b2d4a" stroke-width="1"/><line x1="481.2" y1="574.08" x2="498.9" y2="574.08" stroke="#1b2d4a" stroke-width="1.3"/><line x1="461.9" y1="535.4" x2="488.1" y2="535.4" stroke="#808080" stroke-width="0.9"/><text x="475.9" y="534.8" font-size="7.5" fill="#111" text-anchor="middle" font-weight="bold">*</text><text transform="translate(436.5,579.8) rotate(-90)" font-size="9" fill="#111" text-anchor="middle">HER3 H-score</text><text x="463.3" y="633.4" font-size="9" fill="#111" text-anchor="middle">Pre</text><text x="460.3" y="642.9" font-size="9" fill="#111" text-anchor="middle">samples</text><text x="482" y="633.4" font-size="9" fill="#111">Post</text><text x="482.8" y="642.9" font-size="9" fill="#111">samples</text>
</svg>
</body></html>
